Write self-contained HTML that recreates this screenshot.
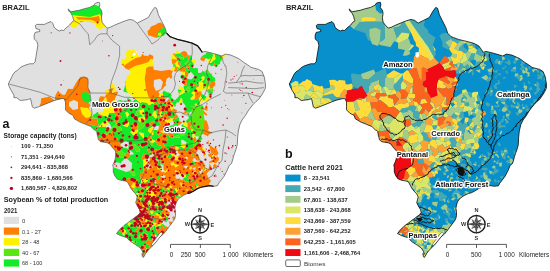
<!DOCTYPE html><html><head><meta charset="utf-8"><style>html,body{margin:0;padding:0;background:#fff;width:550px;height:271px;overflow:hidden}svg{display:block}text{font-family:"Liberation Sans",Arial,sans-serif}</style></head><body>
<svg width="550" height="271" viewBox="0 0 550 271">
<defs><clipPath id="br"><path d="M35.3,25.5 L36.6,24.4 L44.4,24.4 L46.6,23.3 L51.0,21.6 L52.7,23.3 L54.4,27.7 L57.1,29.9 L59.3,31.0 L62.1,29.9 L63.2,31.0 L65.9,28.1 L69.6,25.1 L71.8,22.2 L74.0,20.7 L73.3,19.2 L72.6,16.3 L71.1,13.3 L68.9,11.1 L68.1,8.9 L71.1,11.8 L74.8,11.1 L79.2,10.3 L83.6,8.9 L89.6,7.4 L94.0,5.2 L95.5,3.0 L99.2,2.2 L99.9,4.4 L99.2,7.4 L101.4,10.3 L102.1,13.3 L101.4,17.7 L102.1,22.2 L104.3,25.1 L107.3,28.1 L110.2,27.3 L114.7,25.1 L120.0,22.9 L124.3,21.2 L129.8,19.4 L133.5,20.3 L137.2,23.1 L142.7,20.3 L148.3,17.5 L152.0,11.1 L154.7,7.4 L156.6,8.3 L158.4,14.8 L161.2,20.3 L164.9,27.7 L166.7,33.2 L170.0,36.6 L172.3,37.5 L177.4,39.4 L184.8,41.2 L192.1,43.1 L197.7,45.8 L200.4,49.5 L202.3,52.3 L205.0,51.4 L212.4,53.2 L218.9,55.1 L221.7,56.0 L225.4,54.1 L230.9,55.1 L238.5,58.5 L243.8,62.4 L249.3,66.0 L251.0,67.4 L258.7,69.4 L262.1,71.6 L264.3,77.1 L265.4,83.8 L265.4,88.2 L263.2,92.6 L261.0,96.0 L258.7,99.3 L256.0,101.5 L253.2,104.4 L248.7,110.0 L245.4,115.5 L242.1,120.0 L239.9,124.4 L238.3,131.0 L237.6,137.7 L237.3,144.7 L236.0,149.5 L234.5,153.5 L233.5,156.5 L232.6,160.0 L231.5,163.5 L229.1,165.5 L227.8,168.9 L225.9,172.8 L223.9,176.6 L221.3,179.9 L218.8,183.1 L217.5,185.7 L213.6,186.3 L209.7,185.7 L205.8,186.3 L202.0,187.0 L198.1,188.3 L194.2,190.8 L190.3,192.8 L187.4,193.5 L183.2,195.5 L179.1,198.3 L176.6,201.6 L175.5,205.0 L174.9,208.3 L175.5,211.6 L175.5,215.5 L174.9,218.3 L173.8,220.5 L172.2,222.7 L170.5,224.9 L168.8,227.1 L167.2,229.4 L165.5,231.6 L163.5,234.0 L160.2,236.7 L157.3,240.4 L154.3,244.1 L150.6,247.8 L147.7,250.8 L145.5,253.7 L144.0,256.7 L143.0,257.4 L142.5,256.7 L141.8,253.7 L143.4,254.2 L142.3,251.1 L140.3,248.0 L136.1,245.0 L131.0,241.8 L126.8,237.7 L120.6,235.6 L116.5,233.6 L119.6,229.5 L124.6,225.0 L126.9,223.4 L129.8,221.2 L132.8,219.0 L135.7,216.8 L138.7,214.6 L140.2,212.3 L139.4,209.4 L137.2,205.7 L135.7,202.7 L136.5,199.8 L137.2,196.8 L135.7,193.9 L132.8,190.9 L130.6,188.0 L129.1,185.0 L127.3,181.7 L125.1,181.0 L120.7,180.3 L117.0,178.8 L114.8,175.8 L113.3,172.1 L113.3,167.7 L112.8,165.0 L114.0,162.5 L115.0,160.0 L115.5,157.0 L115.8,154.0 L115.5,151.0 L113.5,148.8 L111.5,146.5 L109.7,143.9 L107.3,142.8 L103.8,142.2 L100.3,141.6 L98.5,139.8 L97.9,137.4 L97.3,135.1 L96.7,131.5 L96.0,130.5 L94.3,129.9 L90.9,126.5 L85.4,124.3 L79.9,122.1 L74.3,118.8 L73.2,115.5 L68.8,113.2 L65.5,109.9 L65.5,106.6 L65.5,102.2 L64.3,98.8 L62.0,98.6 L57.0,99.7 L53.0,101.0 L48.0,103.0 L43.0,105.0 L38.8,106.7 L34.3,108.2 L32.3,106.9 L31.4,102.3 L30.5,98.6 L27.7,99.6 L20.3,100.5 L16.6,97.7 L13.9,97.7 L13.9,94.9 L11.1,90.3 L9.2,86.6 L8.3,83.9 L10.2,80.2 L12.9,74.6 L14.8,72.0 L17.5,70.3 L20.3,67.5 L24.0,65.6 L29.6,63.8 L33.2,63.8 L35.1,61.9 L36.0,56.4 L36.9,50.9 L37.9,45.3 L36.9,41.6 L34.2,38.9 L34.2,35.2 L35.1,32.4 L39.7,31.5 L39.7,29.6 L36.0,28.7 Z"/></clipPath><clipPath id="br2"><path d="M316.3,25.5 L317.6,24.4 L325.4,24.4 L327.6,23.3 L332.0,21.6 L333.7,23.3 L335.4,27.7 L338.1,29.9 L340.3,31.0 L343.1,29.9 L344.2,31.0 L346.9,28.1 L350.6,25.1 L352.8,22.2 L355.0,20.7 L354.3,19.2 L353.6,16.3 L352.1,13.3 L349.9,11.1 L349.1,8.9 L352.1,11.8 L355.8,11.1 L360.2,10.3 L364.6,8.9 L370.6,7.4 L375.0,5.2 L376.5,3.0 L380.2,2.2 L380.9,4.4 L380.2,7.4 L382.4,10.3 L383.1,13.3 L382.4,17.7 L383.1,22.2 L385.3,25.1 L388.3,28.1 L391.2,27.3 L395.7,25.1 L401.0,22.9 L405.3,21.2 L410.8,19.4 L414.5,20.3 L418.2,23.1 L423.7,20.3 L429.3,17.5 L433.0,11.1 L435.7,7.4 L437.6,8.3 L439.4,14.8 L442.2,20.3 L445.9,27.7 L447.7,33.2 L451.0,36.6 L453.3,37.5 L458.4,39.4 L465.8,41.2 L473.1,43.1 L478.7,45.8 L481.4,49.5 L483.3,52.3 L486.0,51.4 L493.4,53.2 L499.9,55.1 L502.7,56.0 L506.4,54.1 L511.9,55.1 L519.5,58.5 L524.8,62.4 L530.3,66.0 L532.0,67.4 L539.7,69.4 L543.1,71.6 L545.3,77.1 L546.4,83.8 L546.4,88.2 L544.2,92.6 L542.0,96.0 L539.7,99.3 L537.0,101.5 L534.2,104.4 L529.7,110.0 L526.4,115.5 L523.1,120.0 L520.9,124.4 L519.3,131.0 L518.6,137.7 L518.3,144.7 L517.0,149.5 L515.5,153.5 L514.5,156.5 L513.6,160.0 L512.5,163.5 L510.1,165.5 L508.8,168.9 L506.9,172.8 L504.9,176.6 L502.3,179.9 L499.8,183.1 L498.5,185.7 L494.6,186.3 L490.7,185.7 L486.8,186.3 L483.0,187.0 L479.1,188.3 L475.2,190.8 L471.3,192.8 L468.4,193.5 L464.2,195.5 L460.1,198.3 L457.6,201.6 L456.5,205.0 L455.9,208.3 L456.5,211.6 L456.5,215.5 L455.9,218.3 L454.8,220.5 L453.2,222.7 L451.5,224.9 L449.8,227.1 L448.2,229.4 L446.5,231.6 L444.5,234.0 L441.2,236.7 L438.3,240.4 L435.3,244.1 L431.6,247.8 L428.7,250.8 L426.5,253.7 L425.0,256.7 L424.0,257.4 L423.5,256.7 L422.8,253.7 L424.4,254.2 L423.3,251.1 L421.3,248.0 L417.1,245.0 L412.0,241.8 L407.8,237.7 L401.6,235.6 L397.5,233.6 L400.6,229.5 L405.6,225.0 L407.9,223.4 L410.8,221.2 L413.8,219.0 L416.7,216.8 L419.7,214.6 L421.2,212.3 L420.4,209.4 L418.2,205.7 L416.7,202.7 L417.5,199.8 L418.2,196.8 L416.7,193.9 L413.8,190.9 L411.6,188.0 L410.1,185.0 L408.3,181.7 L406.1,181.0 L401.7,180.3 L398.0,178.8 L395.8,175.8 L394.3,172.1 L394.3,167.7 L393.8,165.0 L395.0,162.5 L396.0,160.0 L396.5,157.0 L396.8,154.0 L396.5,151.0 L394.5,148.8 L392.5,146.5 L390.7,143.9 L388.3,142.8 L384.8,142.2 L381.3,141.6 L379.5,139.8 L378.9,137.4 L378.3,135.1 L377.7,131.5 L377.0,130.5 L375.3,129.9 L371.9,126.5 L366.4,124.3 L360.9,122.1 L355.3,118.8 L354.2,115.5 L349.8,113.2 L346.5,109.9 L346.5,106.6 L346.5,102.2 L345.3,98.8 L343.0,98.6 L338.0,99.7 L334.0,101.0 L329.0,103.0 L324.0,105.0 L319.8,106.7 L315.3,108.2 L313.3,106.9 L312.4,102.3 L311.5,98.6 L308.7,99.6 L301.3,100.5 L297.6,97.7 L294.9,97.7 L294.9,94.9 L292.1,90.3 L290.2,86.6 L289.3,83.9 L291.2,80.2 L293.9,74.6 L295.8,72.0 L298.5,70.3 L301.3,67.5 L305.0,65.6 L310.6,63.8 L314.2,63.8 L316.1,61.9 L317.0,56.4 L317.9,50.9 L318.9,45.3 L317.9,41.6 L315.2,38.9 L315.2,35.2 L316.1,32.4 L320.7,31.5 L320.7,29.6 L317.0,28.7 Z"/></clipPath></defs>
<g clip-path="url(#br)">
<path d="M35.3,25.5 L36.6,24.4 L44.4,24.4 L46.6,23.3 L51.0,21.6 L52.7,23.3 L54.4,27.7 L57.1,29.9 L59.3,31.0 L62.1,29.9 L63.2,31.0 L65.9,28.1 L69.6,25.1 L71.8,22.2 L74.0,20.7 L73.3,19.2 L72.6,16.3 L71.1,13.3 L68.9,11.1 L68.1,8.9 L71.1,11.8 L74.8,11.1 L79.2,10.3 L83.6,8.9 L89.6,7.4 L94.0,5.2 L95.5,3.0 L99.2,2.2 L99.9,4.4 L99.2,7.4 L101.4,10.3 L102.1,13.3 L101.4,17.7 L102.1,22.2 L104.3,25.1 L107.3,28.1 L110.2,27.3 L114.7,25.1 L120.0,22.9 L124.3,21.2 L129.8,19.4 L133.5,20.3 L137.2,23.1 L142.7,20.3 L148.3,17.5 L152.0,11.1 L154.7,7.4 L156.6,8.3 L158.4,14.8 L161.2,20.3 L164.9,27.7 L166.7,33.2 L170.0,36.6 L172.3,37.5 L177.4,39.4 L184.8,41.2 L192.1,43.1 L197.7,45.8 L200.4,49.5 L202.3,52.3 L205.0,51.4 L212.4,53.2 L218.9,55.1 L221.7,56.0 L225.4,54.1 L230.9,55.1 L238.5,58.5 L243.8,62.4 L249.3,66.0 L251.0,67.4 L258.7,69.4 L262.1,71.6 L264.3,77.1 L265.4,83.8 L265.4,88.2 L263.2,92.6 L261.0,96.0 L258.7,99.3 L256.0,101.5 L253.2,104.4 L248.7,110.0 L245.4,115.5 L242.1,120.0 L239.9,124.4 L238.3,131.0 L237.6,137.7 L237.3,144.7 L236.0,149.5 L234.5,153.5 L233.5,156.5 L232.6,160.0 L231.5,163.5 L229.1,165.5 L227.8,168.9 L225.9,172.8 L223.9,176.6 L221.3,179.9 L218.8,183.1 L217.5,185.7 L213.6,186.3 L209.7,185.7 L205.8,186.3 L202.0,187.0 L198.1,188.3 L194.2,190.8 L190.3,192.8 L187.4,193.5 L183.2,195.5 L179.1,198.3 L176.6,201.6 L175.5,205.0 L174.9,208.3 L175.5,211.6 L175.5,215.5 L174.9,218.3 L173.8,220.5 L172.2,222.7 L170.5,224.9 L168.8,227.1 L167.2,229.4 L165.5,231.6 L163.5,234.0 L160.2,236.7 L157.3,240.4 L154.3,244.1 L150.6,247.8 L147.7,250.8 L145.5,253.7 L144.0,256.7 L143.0,257.4 L142.5,256.7 L141.8,253.7 L143.4,254.2 L142.3,251.1 L140.3,248.0 L136.1,245.0 L131.0,241.8 L126.8,237.7 L120.6,235.6 L116.5,233.6 L119.6,229.5 L124.6,225.0 L126.9,223.4 L129.8,221.2 L132.8,219.0 L135.7,216.8 L138.7,214.6 L140.2,212.3 L139.4,209.4 L137.2,205.7 L135.7,202.7 L136.5,199.8 L137.2,196.8 L135.7,193.9 L132.8,190.9 L130.6,188.0 L129.1,185.0 L127.3,181.7 L125.1,181.0 L120.7,180.3 L117.0,178.8 L114.8,175.8 L113.3,172.1 L113.3,167.7 L112.8,165.0 L114.0,162.5 L115.0,160.0 L115.5,157.0 L115.8,154.0 L115.5,151.0 L113.5,148.8 L111.5,146.5 L109.7,143.9 L107.3,142.8 L103.8,142.2 L100.3,141.6 L98.5,139.8 L97.9,137.4 L97.3,135.1 L96.7,131.5 L96.0,130.5 L94.3,129.9 L90.9,126.5 L85.4,124.3 L79.9,122.1 L74.3,118.8 L73.2,115.5 L68.8,113.2 L65.5,109.9 L65.5,106.6 L65.5,102.2 L64.3,98.8 L62.0,98.6 L57.0,99.7 L53.0,101.0 L48.0,103.0 L43.0,105.0 L38.8,106.7 L34.3,108.2 L32.3,106.9 L31.4,102.3 L30.5,98.6 L27.7,99.6 L20.3,100.5 L16.6,97.7 L13.9,97.7 L13.9,94.9 L11.1,90.3 L9.2,86.6 L8.3,83.9 L10.2,80.2 L12.9,74.6 L14.8,72.0 L17.5,70.3 L20.3,67.5 L24.0,65.6 L29.6,63.8 L33.2,63.8 L35.1,61.9 L36.0,56.4 L36.9,50.9 L37.9,45.3 L36.9,41.6 L34.2,38.9 L34.2,35.2 L35.1,32.4 L39.7,31.5 L39.7,29.6 L36.0,28.7 Z" fill="#e0e0e0"/>
<path fill-rule="evenodd" d="M36.3,23.4L34.3,25.3L35.0,29.0L35.6,29.6L38.7,30.7L34.5,31.6L33.2,35.1L33.3,39.3L36.0,42.1L36.9,45.3L34.2,61.4L32.8,62.8L29.4,62.8L23.5,64.7L19.8,66.7L16.9,69.5L14.2,71.2L12.0,74.1L7.3,83.9L8.3,87.1L12.9,95.2L13.2,98.4L16.3,98.7L20.2,101.5L27.8,100.6L29.8,99.9L31.4,107.3L34.0,109.2L40.7,107.0L40.4,106.7L41.1,98.2L48.1,96.9L48.7,96.3L55.0,100.5L55.2,96.0L57.6,91.2L58.7,91.1L59.5,92.5L63.7,95.6L64.6,95.7L68.0,88.7L72.6,89.1L77.3,80.7L79.9,78.8L84.1,80.9L84.5,82.4L90.5,91.5L89.2,94.6L89.3,95.5L87.0,99.1L86.8,100.9L90.4,105.3L88.5,108.7L89.9,111.9L88.3,115.4L89.8,117.3L92.3,115.9L94.1,114.1L94.9,114.2L97.1,111.9L98.5,112.5L102.1,112.4L104.1,108.2L102.5,106.8L101.5,102.8L99.3,101.8L98.8,99.4L100.3,96.2L104.9,96.8L105.5,95.3L104.9,89.8L108.5,90.0L109.2,88.9L108.8,87.1L111.6,83.6L114.9,84.8L114.4,87.8L117.1,91.6L118.2,92.4L115.2,97.9L114.8,100.0L116.8,101.6L120.0,100.0L123.8,101.3L124.5,100.6L127.1,100.8L127.5,97.7L130.5,99.6L132.2,102.1L135.7,98.4L135.1,93.3L126.4,92.6L123.4,91.4L125.7,83.3L125.1,82.4L125.3,81.8L128.0,78.8L126.4,75.8L130.9,74.3L132.3,73.2L132.8,71.9L131.0,70.2L127.8,69.7L126.7,68.6L125.2,68.3L124.7,66.9L121.0,64.2L121.1,59.5L125.0,58.5L128.2,58.8L129.7,58.1L126.9,50.4L133.6,49.5L136.7,51.8L137.0,53.0L135.7,56.4L139.3,58.1L140.8,57.2L142.1,54.3L142.9,53.9L145.5,57.7L147.6,56.8L149.3,54.3L152.6,55.4L153.5,57.1L152.3,60.2L154.1,65.5L153.3,66.4L153.9,70.7L154.4,71.4L159.3,72.7L161.1,71.6L164.7,72.9L170.3,70.6L171.4,72.4L172.3,77.3L171.2,78.7L170.4,78.4L168.2,75.9L165.5,75.9L163.9,79.4L161.0,78.8L158.0,79.5L156.9,78.9L153.7,78.7L151.3,80.3L153.9,85.8L155.9,86.7L155.4,92.2L158.2,92.3L159.6,93.9L162.3,93.5L163.2,91.1L164.3,90.7L167.4,92.6L168.2,92.2L170.9,94.0L171.7,95.2L170.9,97.1L174.8,100.5L178.8,96.4L178.8,94.2L177.8,90.2L178.6,89.3L178.9,86.5L179.3,86.0L182.3,87.1L183.4,86.8L184.5,85.8L182.3,81.2L183.0,80.3L180.1,77.0L181.1,75.1L182.4,74.6L182.1,71.5L180.7,71.8L179.3,70.4L177.1,71.2L176.8,71.8L170.9,70.2L173.3,66.9L172.8,63.9L172.0,63.5L171.8,59.0L170.6,58.2L172.7,53.6L175.4,53.7L176.6,50.2L180.4,53.0L182.0,51.7L184.1,51.0L186.4,51.7L188.1,55.3L191.1,55.4L192.2,59.6L194.7,59.6L195.9,60.8L196.1,63.6L194.1,64.2L193.1,65.1L193.1,68.1L197.9,68.3L198.0,72.7L200.2,73.1L203.7,71.3L204.7,71.6L207.2,69.4L207.7,69.5L210.3,73.5L211.4,73.5L212.5,76.2L215.0,77.9L215.2,80.5L214.4,81.5L215.4,83.1L214.7,86.2L213.3,86.8L213.0,88.3L213.6,91.4L210.8,97.7L208.2,101.3L204.1,100.8L200.0,102.9L199.8,104.6L200.4,105.2L202.7,105.5L204.4,108.9L206.1,104.9L207.0,105.4L207.7,107.4L207.3,110.9L204.0,109.6L203.1,110.3L207.4,114.4L206.6,115.5L205.4,115.3L202.0,112.1L200.9,113.6L202.5,116.3L202.0,117.9L204.1,120.3L206.2,120.5L206.8,121.1L208.8,127.3L207.9,129.8L208.0,130.3L211.3,132.5L207.3,136.5L206.8,135.7L201.6,133.3L200.6,135.2L202.4,139.1L200.2,141.1L200.0,142.1L201.0,145.4L201.9,145.6L202.8,147.8L203.9,147.7L205.6,151.1L204.3,152.6L206.2,154.5L203.8,155.9L205.5,156.9L206.2,159.0L203.2,156.2L203.9,152.7L200.9,151.5L200.5,150.0L198.3,149.0L196.8,152.2L195.5,153.0L195.7,154.5L198.8,155.7L199.5,160.8L201.1,161.8L202.7,162.0L204.5,163.3L204.2,165.5L206.2,166.9L207.9,169.5L208.5,169.7L209.5,163.3L212.3,168.8L211.5,169.6L209.7,170.3L206.3,174.0L207.5,175.5L207.9,177.4L211.2,181.1L208.8,183.8L210.3,186.8L213.7,187.3L218.2,186.4L219.6,183.6L224.8,177.1L229.9,166.1L232.5,163.8L238.3,145.0L239.3,131.2L240.8,124.7L243.0,120.5L249.5,110.6L254.0,105.1L259.5,99.9L264.0,93.1L266.3,88.6L266.4,83.7L265.3,76.9L262.8,70.9L259.1,68.5L251.5,66.5L238.9,57.6L231.2,54.1L225.5,53.1L224.3,53.5L224.8,54.0L225.1,56.3L223.4,58.1L222.1,58.7L221.8,60.3L220.4,61.1L220.0,63.9L217.5,65.1L217.7,66.4L216.3,67.3L215.6,67.3L214.9,66.0L212.9,65.8L211.3,66.3L209.1,64.2L208.9,62.9L207.6,61.6L208.6,59.0L205.3,58.1L204.3,61.3L203.0,61.3L200.4,59.8L200.3,58.9L201.5,56.6L204.2,54.6L205.5,54.7L206.0,52.7L209.8,51.5L205.1,50.4L202.7,51.1L198.1,44.9L192.4,42.2L177.7,38.4L170.6,35.7L167.5,32.5L165.9,33.0L163.5,36.0L162.0,36.0L156.8,38.0L148.2,35.2L147.4,31.2L149.8,29.1L150.3,27.5L151.2,26.5L156.7,24.2L157.0,23.6L160.6,22.4L163.7,25.0L164.6,24.8L159.3,14.4L157.5,7.9L154.9,6.4L154.0,6.7L151.2,10.5L147.6,16.7L137.3,21.9L133.9,19.4L129.6,18.4L119.6,22.0L109.8,26.4L107.6,27.0L107.0,26.4L99.9,29.3L96.1,27.0L95.5,23.1L90.7,22.1L90.2,21.6L84.6,21.1L80.6,22.3L75.2,27.9L72.2,27.3L71.2,25.7L69.1,24.1L63.2,29.6L62.0,28.9L59.3,29.9L55.2,27.1L53.5,22.8L51.3,20.6L44.2,23.4ZM162.0,85.2L164.5,83.0L166.6,85.0L163.6,86.7L162.4,86.3ZM217.2,162.4L214.6,163.2L213.3,161.8L212.8,162.4L209.4,163.1L208.8,162.0L212.9,159.4L211.8,157.5L209.0,156.6L208.1,155.0L208.2,154.5L211.0,152.7L209.4,146.1L209.7,145.0L214.0,147.9L216.4,147.8L216.6,149.4L218.7,153.4L217.9,153.9L216.9,155.8L219.1,158.5L218.7,160.3L217.1,162.0ZM208.7,144.0L206.7,143.8L208.2,140.0L208.6,140.6ZM212.9,168.4L213.5,164.5L214.5,164.1L216.8,164.9L216.8,165.8L216.0,167.1ZM76.9,108.3L77.1,104.6L74.2,99.3L67.9,101.6L67.7,102.1L70.0,104.4L72.7,110.8L75.3,110.7ZM68.0,112.5L64.8,110.6L67.5,113.3ZM79.2,122.9L79.2,121.1L77.0,121.5ZM100.0,1.6L99.1,1.2L95.1,2.1L93.5,4.2L98.8,6.3L100.9,4.3ZM111.7,128.3L110.1,123.9L108.7,123.0L105.7,126.7L107.6,129.4ZM114.2,167.5L126.2,172.1L129.4,170.9L131.7,168.9L132.1,163.3L125.5,157.7L120.9,163.1L120.1,163.4L119.1,162.6L112.8,162.6ZM141.1,76.7L148.2,77.6L148.1,73.8L145.9,71.2L140.8,74.6ZM146.0,99.4L146.5,100.5L151.7,101.6L152.5,99.8ZM159.3,125.9L153.7,125.6L152.3,126.2L153.2,130.0L158.1,130.0ZM130.5,143.5L125.6,140.4L120.4,144.5L121.1,147.3L126.1,148.0L128.5,149.2L128.4,145.0ZM130.3,155.1L134.0,154.2L134.1,153.8L129.8,149.9L128.4,151.7ZM153.6,156.5L153.8,154.6L152.1,153.3L149.0,156.5L149.4,157.3ZM149.4,157.8L144.1,159.6L143.9,159.8L148.3,161.2L149.5,160.7L149.9,159.7ZM158.3,160.9L158.6,160.2L158.2,159.7L156.3,159.2L156.4,160.4ZM148.4,167.2L148.5,169.1L153.5,167.1L150.0,166.0L150.3,163.9L146.8,164.1L145.9,164.9ZM163.7,167.8L163.2,167.6L163.3,165.0L159.9,163.7L162.2,167.6L160.6,168.5L160.2,169.6L161.2,171.8L162.6,172.0L163.7,169.7ZM160.8,176.3L162.1,178.1L163.1,178.4L165.4,177.0L165.5,175.5L162.8,175.1ZM155.8,180.3L154.4,179.3L154.5,177.9L152.9,177.8L153.0,179.9L152.2,181.6L153.5,181.9L155.6,183.7L156.7,183.0L155.3,181.2ZM142.7,184.3L141.3,182.8L138.7,184.3L140.9,187.6ZM165.8,226.3L168.2,227.2L167.1,229.8L167.8,230.3L170.0,227.2L169.6,227.0L170.2,225.7L169.0,222.4L169.3,221.3L173.7,222.4L174.2,221.6L172.1,217.3L173.1,216.4L176.2,217.0L176.5,215.6L176.5,211.5L175.9,208.3L176.9,203.9L174.2,203.3L173.5,202.2L173.5,201.4L169.8,199.6L170.5,202.4L167.3,201.7L168.1,203.0L167.7,205.4L169.3,205.3L170.3,204.0L172.1,205.8L171.0,206.4L169.3,205.4L169.5,207.6L168.1,207.8L167.3,208.7L167.9,211.2L169.9,212.5L167.3,216.3L168.4,218.4L168.4,220.2L167.4,220.8L165.1,220.7L164.7,219.2L164.1,218.9L163.3,220.0L161.6,220.7L161.7,224.0L162.7,223.9ZM172.2,209.2L170.0,207.8L170.9,206.4ZM163.7,235.1L165.5,233.1L165.3,232.9L163.4,234.1ZM155.6,237.8L156.4,237.8L157.0,235.9L155.5,234.5L154.9,236.2L151.4,236.2L152.2,239.6L154.5,238.8ZM162.6,236.0L161.5,235.9L161.2,237.2ZM167.1,96.7L164.6,97.8L165.7,102.0L166.2,102.0L168.9,98.4L169.0,98.1ZM176.8,114.5L179.1,118.6L179.1,120.9L182.5,122.2L178.1,125.9L179.1,127.5L179.1,129.5L182.2,130.6L179.5,127.7L182.0,128.0L181.8,126.6L181.3,126.0L182.9,123.9L182.7,122.2L183.8,121.8L185.7,122.0L186.1,119.4L188.0,118.2L187.9,115.7L186.6,114.7L185.6,115.1L182.9,114.4L181.4,112.6L182.2,109.7L183.2,108.0L183.0,106.9L183.8,104.0L182.4,102.3L180.1,103.7L178.9,102.5L176.6,102.2L176.1,106.1L174.3,106.7L173.1,108.8L177.7,109.7L175.6,114.2ZM167.3,123.9L167.0,125.0L168.9,125.7L173.1,125.3L173.8,123.6L173.8,122.2L172.8,120.6ZM175.5,153.2L174.8,153.6L174.4,155.5L174.9,157.6L177.3,155.6L178.1,156.2L180.3,155.0L177.9,152.5L177.8,150.9L175.3,149.7L174.8,150.6ZM175.4,177.6L176.0,178.4L178.5,178.9L179.3,178.3L181.9,180.3L183.8,177.8L179.8,174.8L179.1,173.7L176.2,174.3ZM177.4,198.8L178.5,200.8L179.8,199.0L181.9,197.6L180.2,197.4ZM186.9,78.4L190.5,79.4L191.9,79.0L194.6,76.3L190.9,71.8L188.6,73.8ZM203.4,89.3L202.7,89.5L201.4,91.6L201.6,93.7L206.7,96.7L208.8,96.5L208.6,92.9L205.9,90.4ZM192.4,115.9L192.2,112.7L191.7,111.4L191.0,111.5L190.1,112.0L188.6,115.6ZM195.1,136.6L196.8,140.3L198.2,139.8L198.7,136.5L195.3,136.0ZM181.5,143.7L185.8,143.8L186.9,142.4L182.7,139.7L181.3,139.8L180.8,141.5ZM188.0,159.6L187.3,156.4L184.6,156.9L184.8,157.9ZM195.5,158.5L194.0,157.9L192.6,159.2L192.7,161.0L194.7,162.0L198.8,161.7L199.4,160.8L195.9,160.3ZM188.0,165.7L183.8,166.1L183.9,166.7L185.9,168.7L187.4,167.6ZM193.3,169.4L195.1,169.8L195.9,167.2L192.3,167.9ZM201.4,174.0L204.6,170.9L203.2,169.6L201.6,171.3L199.6,170.0L199.5,172.5L200.4,173.7ZM195.6,178.1L197.1,176.7L196.5,175.2L192.7,174.7L192.4,175.3L193.2,179.2ZM206.0,187.3L207.4,187.1L206.9,186.8ZM204.3,187.6L205.0,187.5L204.5,187.4ZM185.1,195.7L185.4,195.6L185.2,195.4ZM182.9,196.9L182.4,197.0L182.2,197.4ZM214.9,156.8L214.8,159.2L216.1,158.6L216.5,156.5Z" fill="#e0e0e0"/>
<path fill-rule="evenodd" d="M89.3,6.5L71.4,10.7L68.6,8.0L67.7,8.0L67.1,8.8L68.1,11.6L70.3,13.9L71.3,15.9L71.9,13.3L76.4,15.3L79.0,18.4L80.7,16.4L87.6,10.5L88.2,12.2L91.1,16.3L97.3,18.7L97.6,19.4L102.6,19.2L102.4,17.7L103.1,13.2L102.3,9.9L100.3,7.2L100.9,4.3L98.8,6.3L93.5,4.2ZM80.3,92.5L77.2,93.9L77.0,96.5L78.8,98.0L87.0,99.1L89.3,95.5L89.2,94.6ZM121.7,116.9L121.8,117.5L118.7,119.1L118.1,123.0L117.4,123.7L118.0,125.9L121.5,127.9L121.8,129.8L120.4,132.3L114.2,131.7L113.9,136.9L116.5,137.4L120.2,144.4L125.6,140.4L130.4,143.4L128.4,145.0L128.5,149.2L126.1,148.0L121.1,147.3L120.5,149.9L125.3,153.7L128.4,151.7L129.8,149.9L134.1,153.8L134.0,154.2L130.3,155.1L127.6,159.3L132.1,163.3L131.7,168.9L133.4,169.9L135.5,174.9L133.0,176.0L129.4,170.9L126.2,172.1L114.2,167.5L112.3,171.0L112.3,172.4L113.9,176.3L116.6,179.7L117.1,179.9L117.5,179.5L120.4,181.3L124.8,182.0L124.8,180.5L127.9,178.2L131.0,179.0L132.6,181.5L133.6,182.1L136.1,179.1L138.1,179.6L138.0,181.8L135.6,183.1L138.7,184.3L141.3,182.8L140.7,181.3L141.3,179.5L140.6,178.8L139.9,173.4L140.5,172.8L143.6,172.6L142.9,160.1L141.6,159.1L143.4,153.4L147.1,155.1L144.1,159.6L149.4,157.8L149.0,156.5L152.1,153.3L151.8,152.5L153.4,149.1L158.2,150.0L160.6,148.9L162.3,146.1L157.9,145.0L155.7,141.0L153.0,143.0L152.9,146.3L146.7,141.6L145.4,139.2L147.4,136.3L151.6,136.4L152.1,139.6L155.7,140.9L157.2,138.9L158.0,138.7L159.1,136.7L162.7,134.7L159.6,133.0L159.0,135.9L156.3,133.5L158.0,130.1L153.2,130.0L153.3,135.1L152.9,135.2L148.6,131.6L147.9,131.5L147.9,130.9L148.2,129.1L152.3,127.1L152.3,126.2L149.1,123.4L151.5,121.8L154.4,121.6L153.7,125.6L159.3,125.9L160.5,125.1L160.3,123.2L157.7,119.9L161.1,116.9L158.9,114.0L157.9,114.1L156.8,110.6L159.3,110.0L158.7,107.0L160.8,106.6L162.0,108.4L164.1,106.5L164.7,106.8L166.6,104.4L166.1,102.0L162.7,103.7L161.6,103.0L158.5,103.5L157.4,98.0L154.5,97.8L155.0,101.2L157.3,104.4L156.9,105.4L153.6,103.5L151.3,103.8L149.4,105.2L148.0,104.6L146.0,99.4L145.0,98.3L140.7,103.1L135.5,99.1L132.2,102.1L130.5,99.6L127.5,97.7L127.1,100.8L124.5,100.6L123.8,101.3L120.0,100.0L116.8,101.6L117.4,103.4L113.3,107.1L113.4,108.2L114.9,109.4L118.7,105.4L122.6,108.6L122.3,111.1L118.8,111.3L118.3,114.6ZM154.1,116.4L152.4,115.8L153.0,112.2L152.9,109.3L156.1,111.1L156.4,115.1L158.5,116.4L160.3,116.9L158.1,117.2L155.5,118.6ZM134.6,147.9L130.8,148.9L130.6,143.6L135.5,144.3L135.7,145.8L139.0,147.8L139.7,150.0L139.2,151.9L136.4,151.8ZM144.1,133.2L143.7,138.5L139.3,133.8L138.8,132.3ZM130.2,132.0L134.2,129.9L131.1,128.6L131.3,127.0L134.2,126.9L131.9,123.9L134.0,123.6L137.6,126.2L138.7,122.7L139.3,122.1L138.0,119.0L139.2,117.3L143.8,116.6L140.4,113.9L137.2,115.7L135.6,115.8L135.3,115.1L137.1,110.0L139.2,110.6L141.4,104.3L144.0,106.8L144.2,116.8L145.2,117.8L144.9,120.4L146.4,123.0L146.2,123.7L143.4,127.3L141.7,128.7L138.2,129.9L138.3,131.7L133.6,135.6ZM128.6,122.1L129.0,122.7L128.9,124.6L127.6,127.1L122.8,125.8L123.1,124.1ZM129.1,114.1L127.2,117.8L125.3,112.7L127.3,112.0ZM150.9,152.3L148.4,152.5L147.2,149.6L149.0,149.1ZM140.4,144.6L141.2,143.7L144.0,145.3L142.9,147.5L140.6,146.3ZM95.7,118.6L97.1,118.6L98.9,126.8L90.1,124.4L89.0,126.8L90.3,127.4L93.7,130.7L95.8,131.9L97.3,138.9L99.5,137.0L101.7,136.8L107.6,129.4L105.7,126.7L98.9,126.9L102.7,122.3L107.0,120.4L108.7,123.0L110.1,123.9L111.6,127.7L116.6,123.5L114.6,122.1L114.9,118.7L115.8,118.2L115.9,115.0L114.3,112.9L109.1,112.7L107.6,117.0L103.3,115.6L101.7,116.7L98.1,117.2L98.8,114.1L98.5,112.5L97.1,111.9L94.9,114.2L94.1,114.1L92.3,115.9ZM119.1,162.6L120.1,163.4L120.9,163.1L125.4,157.7L120.7,157.7L118.2,154.9L117.8,152.6L114.6,152.2L114.8,154.0L114.0,159.7L112.9,162.5ZM123.2,227.3L121.0,228.2L121.7,230.8L123.1,230.6L123.9,229.3L125.6,229.9L126.0,232.3L127.7,230.8L127.5,229.0L130.9,230.1L128.8,231.0L127.8,233.1L126.6,232.7L125.6,238.4L130.4,242.6L131.5,240.9L133.4,241.2L134.0,240.4L136.8,241.7L135.2,245.6L137.7,247.4L137.4,246.6L139.7,246.1L142.0,248.3L144.1,245.0L146.3,248.5L149.2,248.5L150.1,245.4L145.5,243.4L145.7,242.6L148.1,240.1L151.4,240.7L152.1,240.0L151.1,235.7L152.0,233.2L155.4,233.5L155.5,234.5L156.7,235.4L158.9,234.8L159.0,233.3L156.7,232.3L156.6,229.6L154.8,225.6L153.9,225.3L153.3,225.9L154.0,229.8L151.0,230.6L150.0,228.6L150.4,227.9L149.8,223.4L147.5,228.1L147.1,231.9L144.6,229.3L146.2,227.6L145.2,225.2L143.1,225.3L139.3,227.6L139.4,228.9L136.4,232.9L135.2,232.6L134.7,231.6L135.5,230.1L137.9,228.0L135.4,225.3L134.9,225.4L134.4,224.1L132.2,223.5L131.4,223.8L131.3,226.0L128.7,225.5L127.5,224.0L127.7,222.1L129.0,222.0L131.2,220.4L130.5,219.4L123.5,224.6L124.3,226.3ZM144.4,237.3L144.6,235.7L142.6,233.0L143.3,231.7L144.4,232.1L146.4,234.0L147.8,233.8L147.5,236.3L148.2,237.0L148.1,239.9ZM139.4,236.2L139.2,234.7L141.2,233.8L143.5,237.3L140.0,237.5L139.9,238.1L138.2,239.0L137.0,238.9L136.6,237.5ZM129.0,234.5L129.7,233.3L134.1,234.1L132.7,235.5ZM115.5,233.3L116.0,234.5L118.3,235.2L120.3,236.5L123.7,237.7L125.5,237.1L124.2,235.6L122.9,235.2L122.4,233.2L121.1,232.7L120.5,231.9L119.1,231.8L118.0,230.7ZM125.7,83.3L123.4,91.4L126.4,92.6L135.1,93.3L136.6,91.7L136.1,88.0L134.5,87.1L134.1,80.9L132.1,81.1L131.4,80.6L129.8,76.9L125.3,81.8L125.1,82.4ZM133.5,190.0L132.9,190.4L133.1,192.5L135.2,192.5L136.0,193.8L137.1,193.0L139.0,193.0L139.5,191.9L139.0,190.4L141.2,188.4L140.9,187.6L135.4,186.8L135.0,187.6L137.0,190.2L135.1,191.8ZM135.8,198.2L135.5,199.6L135.1,201.1L136.2,201.0L137.9,199.0ZM136.3,215.1L134.1,216.8L135.7,218.9L135.6,219.9L136.3,220.3L138.2,219.9L140.3,218.4L141.9,218.6L144.9,214.7L145.7,214.7L147.3,216.0L148.3,218.4L150.3,218.4L153.2,215.7L152.3,214.1L151.4,214.2L150.7,212.5L149.7,212.1L151.4,210.9L148.7,209.0L150.0,207.6L152.8,210.9L153.6,207.8L150.1,207.0L148.3,205.4L148.9,202.8L147.7,200.9L146.0,201.7L145.2,201.0L144.5,200.1L144.3,197.5L147.1,192.2L146.4,188.3L149.8,187.0L149.7,184.2L149.0,181.9L152.2,181.6L153.0,179.9L152.9,177.8L152.0,176.9L147.6,180.3L148.6,181.6L146.4,188.3L141.6,188.6L143.5,193.6L142.3,195.1L142.0,198.2L141.6,198.1L140.4,199.9L140.2,201.0L142.6,203.9L145.9,201.8L146.5,205.2L145.8,206.0L147.7,209.0L146.2,209.7L144.4,208.5L143.9,206.7L143.0,206.3L142.2,209.7L143.9,211.4L144.0,213.9L140.1,213.7L138.4,217.0L136.5,217.9ZM146.2,212.6L147.6,211.9L148.8,209.3L149.2,212.5L145.8,214.4ZM148.3,214.5L149.9,213.7L150.4,214.2L147.6,215.6ZM132.2,218.2L132.1,218.3L132.2,218.3ZM137.0,195.5L138.7,195.3L139.8,196.2L140.1,194.3L139.1,194.6L138.7,194.0ZM140.0,196.5L139.8,197.2L141.3,197.8L142.1,195.3ZM137.7,224.2L139.0,225.2L141.1,223.4L141.0,222.0L137.1,221.4ZM141.7,252.7L140.8,253.5L141.2,255.3L141.5,255.4L142.1,254.0L144.2,253.4L142.3,251.8L143.7,250.0L142.0,248.5L140.8,249.2L139.8,249.1ZM142.6,257.8L142.0,257.7L143.2,258.4L144.7,257.4L146.7,253.8L145.4,252.2L144.3,253.4L144.9,256.4ZM157.0,157.3L155.6,158.2L156.3,159.2L158.2,159.7L157.9,157.4ZM153.9,185.5L154.5,186.3L154.9,186.0L155.6,183.7L153.5,181.9L153.0,181.9ZM151.8,201.5L156.9,199.5L157.4,200.1L161.4,199.7L162.0,198.0L159.9,195.2L162.1,193.2L164.0,192.3L165.2,192.9L167.0,192.0L169.2,192.4L169.1,190.0L167.0,189.1L166.2,191.2L164.9,190.8L164.2,189.4L161.5,190.1L159.6,189.1L156.7,189.4L157.7,191.4L161.4,191.9L161.9,192.9L158.5,193.1L159.0,195.3L156.2,197.7L152.7,196.6L148.6,198.5L148.2,200.3ZM154.6,212.1L155.8,212.9L157.4,213.0L159.4,214.6L160.4,213.7L161.2,211.7L163.1,211.3L162.6,206.1L160.4,205.1L159.1,210.1L157.3,210.4L156.4,209.5L157.8,207.5L157.0,205.7L155.4,206.5L155.0,206.9L155.7,209.4ZM153.5,218.3L151.9,219.1L153.5,222.4L155.1,220.7L154.8,218.6ZM157.8,220.5L156.7,220.7L157.0,223.1L158.8,222.2ZM148.2,251.8L148.0,252.0L148.0,252.0ZM157.0,31.4L157.1,37.6L162.0,36.0L163.5,36.0L165.9,33.0L167.5,32.5L164.6,24.8L163.7,25.0L162.3,28.5ZM174.3,106.7L176.1,106.1L176.6,102.2L178.9,102.5L180.8,98.2L182.1,98.6L182.4,102.3L183.8,104.0L183.0,106.9L183.2,108.0L182.5,109.5L185.9,111.1L186.9,112.8L191.7,111.4L192.1,110.7L191.2,107.4L192.0,106.1L195.9,107.1L196.2,106.5L194.6,103.9L196.1,103.5L198.0,105.4L199.8,104.6L200.0,102.9L199.1,98.1L195.9,100.3L194.0,99.2L191.2,100.0L190.4,98.6L193.8,94.9L191.6,93.5L191.9,92.3L194.1,91.2L195.6,92.1L198.5,91.4L195.8,88.3L197.1,87.2L195.8,86.1L196.2,85.8L199.3,86.3L198.4,82.8L199.2,81.7L201.0,81.2L201.1,77.6L202.7,76.2L204.5,76.4L204.2,79.8L201.6,81.3L203.6,83.9L205.3,83.1L205.2,80.8L206.7,80.7L206.5,79.4L207.2,79.1L210.5,82.8L214.4,81.5L215.2,80.5L215.0,77.9L212.5,76.2L211.4,73.5L205.0,72.4L204.7,71.6L203.7,71.3L200.2,73.1L198.0,72.7L197.9,68.3L193.1,68.1L193.1,65.1L194.1,64.2L191.3,60.5L192.2,59.6L191.1,55.4L190.2,55.5L188.2,60.0L187.8,59.0L187.9,55.5L184.2,57.4L180.4,53.8L180.4,53.2L175.3,53.7L177.3,58.6L176.8,59.4L177.1,60.8L180.0,62.3L180.8,63.7L179.7,66.1L179.6,67.3L181.2,67.3L182.9,66.4L185.1,68.3L185.7,71.3L186.3,71.4L188.6,73.8L190.9,71.8L194.6,76.3L191.9,79.0L190.5,79.4L187.1,78.5L186.7,85.3L184.5,85.8L183.4,86.8L184.7,91.1L184.4,92.7L178.8,95.5L178.8,96.4L174.8,100.5L170.9,97.1L171.7,95.2L170.9,94.0L168.2,92.2L167.4,92.6L164.3,90.7L163.2,91.1L162.3,93.5L163.0,94.6L162.7,97.5L164.6,97.8L167.1,96.7L169.0,98.1L171.6,103.0L172.1,103.0ZM186.3,67.4L186.6,65.1L184.6,63.8L184.8,63.2L188.4,60.5L190.0,61.2L190.2,63.9L189.5,65.1L189.8,66.9L188.9,67.6L188.9,70.4L187.8,69.5L187.4,67.7ZM179.1,56.6L184.0,57.8L183.6,59.2L183.1,59.4L178.5,57.7ZM186.1,90.1L186.0,88.7L188.6,86.3L190.0,88.5L190.0,90.0L188.6,92.4ZM193.3,85.2L193.8,84.6L196.8,83.1L196.2,84.4L194.2,86.3ZM161.8,117.0L164.3,114.6L164.3,112.5L166.9,113.6L167.6,112.0L164.7,111.0L163.9,111.5L161.6,111.1ZM167.5,116.2L172.9,118.4L175.6,114.2L171.8,110.3L169.9,113.1L167.9,115.0ZM173.8,123.6L173.1,125.3L168.9,125.7L173.1,131.2L174.0,131.7L173.9,136.5L178.4,135.3L180.1,137.5L173.5,137.9L173.3,138.4L168.9,136.3L168.0,134.7L172.4,131.3L167.6,130.6L166.5,131.9L167.8,134.5L164.1,136.3L164.2,137.4L167.1,137.7L167.4,140.5L164.8,140.1L163.2,144.4L163.5,145.2L165.2,145.7L167.6,150.1L169.5,151.7L171.8,149.6L172.3,148.5L170.2,146.9L170.9,144.9L179.2,147.3L181.0,151.2L181.6,151.4L183.7,148.0L180.3,146.5L181.5,143.7L180.8,141.5L181.3,139.8L182.7,139.7L186.9,142.4L185.8,143.8L185.6,146.5L184.5,147.8L186.1,151.3L186.8,151.3L189.7,148.4L192.9,148.1L194.1,146.1L193.2,144.0L193.4,143.1L192.2,134.3L194.3,134.1L194.4,130.6L190.7,131.6L191.2,130.2L188.0,128.5L187.3,127.0L184.1,125.7L182.9,123.9L181.3,126.0L181.8,126.6L182.0,128.0L179.5,127.7L182.2,130.6L179.1,129.5L179.1,127.5L178.1,125.9L178.5,125.4L177.8,122.5L179.1,120.9L179.1,118.6L178.6,117.4L174.8,119.0L173.0,118.6L172.8,120.6L173.8,122.2ZM183.3,131.2L185.2,134.6L181.4,136.2L179.4,133.8L179.5,132.9ZM169.8,153.0L167.3,157.4L169.2,158.5L172.1,158.2L172.2,155.9L171.1,153.7ZM159.0,157.1L159.6,157.6L162.6,156.5L161.8,155.5L159.6,154.6ZM163.3,165.0L164.6,162.7L163.1,162.6L160.2,163.4L160.8,161.0L160.2,159.6L158.6,160.2L158.1,163.9L156.3,165.0L160.6,168.5L162.2,167.6L159.9,163.7ZM159.6,169.8L157.4,168.2L157.4,169.1ZM160.4,176.1L158.3,175.7L157.4,179.5L159.1,179.0ZM169.9,192.7L170.5,197.5L172.2,197.3L173.3,195.0L176.1,197.0L177.1,198.6L178.8,194.7L176.6,192.5L176.1,192.5L175.1,188.6L173.0,189.5L173.1,192.7ZM166.4,204.9L167.2,201.6L166.9,201.0L164.0,202.0L163.9,204.1ZM166.2,208.1L166.9,205.4L166.8,205.4L164.1,207.2ZM165.1,220.7L167.4,220.8L168.4,220.2L168.4,218.4L167.3,216.4L163.5,217.4L163.0,215.4L160.6,216.1L162.3,217.7L163.5,217.5L164.1,218.9L164.7,219.2ZM164.1,228.4L165.8,226.3L162.7,223.9L161.8,224.0ZM158.1,228.9L160.7,228.7L160.9,225.6L157.9,226.0ZM158.5,237.7L156.8,238.0L157.1,240.5L158.8,240.1ZM180.1,77.0L183.0,80.3L186.9,78.4L185.0,75.6L182.4,74.6L181.1,75.1ZM178.5,92.3L181.9,90.4L178.6,89.3L177.8,90.2ZM188.0,118.2L186.1,119.4L185.7,122.0L187.5,123.2L190.2,120.8L191.4,125.3L193.1,124.2L190.8,120.3L192.7,116.5L192.4,115.9L187.9,115.7ZM190.3,182.6L193.3,180.0L193.2,179.2L193.0,178.9L187.2,178.5L186.4,177.3L190.5,175.4L186.9,172.7L186.0,175.3L186.0,177.1L183.8,177.8L183.2,178.9L185.7,182.1L187.4,181.4L188.9,182.5ZM214.7,53.6L214.7,56.5L215.5,57.7L215.0,60.0L213.2,60.2L211.9,62.6L208.9,62.9L209.1,64.2L211.3,66.3L212.9,65.8L213.5,64.3L214.7,63.3L215.4,65.3L214.9,66.0L215.6,67.3L216.3,67.3L217.7,66.4L217.5,65.1L220.0,63.9L220.4,61.1L221.8,60.3L222.1,58.7L221.6,56.1L220.0,55.1L219.7,54.3L215.3,53.0ZM206.0,52.7L205.5,54.7L204.2,54.6L201.7,56.6L205.2,58.3L208.6,59.0L211.5,58.5L213.1,56.0L212.7,53.2L209.8,51.5ZM210.4,90.0L205.9,90.4L208.6,92.9L208.8,96.5L210.8,97.7L213.3,91.5L211.3,91.3ZM203.8,101.0L206.7,96.7L201.6,93.7L200.5,95.9ZM203.1,110.3L204.4,108.9L202.7,105.5L200.4,105.2L201.9,109.9ZM200.6,135.2L198.7,136.5L198.2,139.8L200.2,141.1L202.4,139.1ZM191.3,156.2L193.9,156.6L194.2,155.7L191.9,153.7ZM191.3,162.2L190.6,165.2L190.9,165.6L195.3,164.4L194.7,162.0L192.7,161.0ZM197.0,172.5L197.1,173.8L199.2,174.4L200.4,173.7L199.5,172.5ZM198.8,183.6L195.6,182.4L195.5,184.2L196.7,185.4ZM191.3,187.8L191.4,189.3L194.1,188.8L193.5,187.2L192.8,186.8Z" fill="#14eb28"/>
<path fill-rule="evenodd" d="M71.3,15.9L72.7,20.4L71.1,21.5L69.1,24.1L71.2,25.7L72.2,27.3L75.2,27.9L80.6,22.3L79.0,18.4L76.4,15.3L71.9,13.3ZM102.6,19.2L97.6,19.4L95.5,23.1L96.1,27.0L99.9,29.3L106.9,26.6L103.0,21.8ZM130.5,58.3L131.9,53.1L133.1,52.9L134.9,50.7L133.6,49.5L126.9,50.4L129.7,58.1ZM126.5,63.4L128.2,58.8L125.0,58.5L121.1,59.5L121.1,64.0ZM133.8,80.7L134.5,87.1L136.1,88.0L136.6,91.7L135.1,93.3L135.7,98.4L135.5,99.1L140.7,103.1L145.0,98.3L146.0,99.4L152.5,99.8L151.7,101.6L146.5,100.5L148.0,104.6L149.4,105.2L151.3,103.8L153.6,103.5L155.0,101.2L154.5,97.8L152.5,94.3L150.4,93.4L148.3,94.0L144.9,88.2L145.0,84.2L150.1,80.1L148.2,77.6L141.1,76.7L140.8,74.6L145.9,71.2L145.9,66.6L153.3,66.4L154.1,65.5L152.3,60.2L150.2,59.9L144.6,62.3L143.9,63.9L139.8,62.1L138.9,62.3L138.0,63.6L137.4,70.2L132.8,71.9L132.3,73.2L130.9,74.3L126.4,75.8L128.0,78.8L129.8,76.9L131.4,80.6L132.1,81.1ZM109.2,88.9L113.7,88.0L111.2,93.2L117.1,91.6L114.4,87.8L114.9,84.8L111.6,83.6L108.8,87.1ZM108.5,90.0L104.9,89.8L105.5,95.3L109.3,92.7ZM110.6,103.4L107.1,102.2L107.8,98.4L105.1,97.2L102.5,102.1L101.5,102.8L102.5,106.8L104.1,108.2L102.1,112.4L98.5,112.5L98.8,114.1L107.6,117.0L109.1,112.7L114.3,112.9L115.5,110.9L114.9,109.4L113.4,108.2L113.3,107.1L117.4,103.4L116.8,101.6L114.8,100.0L113.3,100.3ZM82.2,107.8L83.0,112.1L85.9,114.9L88.3,115.4L89.9,111.9L88.5,108.7L84.6,106.8ZM127.3,112.0L125.3,112.7L127.2,117.8L129.1,114.1ZM98.9,126.8L105.7,126.7L108.7,123.0L107.0,120.4L102.7,122.3ZM122.8,125.8L127.6,127.1L128.9,124.6L128.8,122.3L123.1,124.1ZM111.8,165.2L112.3,167.8L112.3,171.0L114.2,167.5L112.8,162.6ZM131.4,190.7L131.4,190.7L131.3,190.6ZM127.7,222.1L127.5,224.0L128.7,225.5L131.3,226.0L131.4,223.8L129.0,222.0ZM123.2,227.3L124.3,226.3L123.5,224.6L121.8,226.2ZM116.9,231.4L118.0,230.7L117.8,230.3ZM122.9,235.2L124.2,235.6L124.8,232.7L126.0,232.3L125.6,229.9L123.9,229.3L123.1,230.6L123.9,232.3L122.4,233.2ZM123.7,237.7L125.6,238.4L126.0,237.4L125.5,237.1ZM131.5,240.9L130.4,242.6L133.3,243.8L133.4,241.2ZM139.2,117.3L138.0,119.0L139.3,122.1L144.9,120.4L145.2,117.8L144.2,116.8L143.8,108.9L139.2,110.7L140.4,113.9L143.8,116.6ZM134.2,129.9L130.2,132.0L133.6,135.6L138.3,131.7L137.8,129.4ZM138.8,132.3L139.3,133.8L143.7,138.5L144.1,133.2ZM144.0,145.3L141.2,143.7L140.4,144.6L140.6,146.3L142.9,147.5ZM142.9,160.1L143.5,165.7L148.0,170.3L148.5,169.1L148.4,167.2L145.9,164.9L146.8,164.1L148.3,161.2L143.9,159.8ZM142.7,184.3L144.5,183.9L147.7,180.9L146.2,178.6L141.3,179.5L140.7,181.3L141.3,182.8ZM132.2,187.7L134.3,188.1L135.4,186.8L134.9,183.3L133.7,182.3L130.9,186.5ZM141.6,198.1L142.0,198.2L142.3,195.1L141.3,197.8L139.8,197.2L139.8,196.2L138.7,195.3L137.0,195.5L138.7,194.0L138.6,193.2L137.1,193.0L136.0,193.8L135.6,195.3L136.8,195.6L138.9,197.5L139.5,197.4L140.4,199.9ZM138.6,205.3L136.6,205.9L139.6,209.7L142.2,209.7L143.0,206.3L143.9,206.7L144.4,208.5L146.2,209.7L147.7,209.0L145.8,206.0L146.5,205.2L145.9,201.8L142.6,203.9L142.6,206.1L141.2,206.5ZM138.5,209.9L139.0,212.4L139.3,212.4L139.4,210.1ZM136.5,215.2L136.5,217.9L138.4,217.0L139.5,214.6ZM147.0,221.7L148.3,218.2L147.3,216.0L145.7,214.7L144.9,214.7L141.9,218.6L142.3,220.6L146.2,222.2L145.2,225.2L146.2,227.6L147.5,228.1L149.8,223.4ZM135.6,219.9L135.7,218.9L134.1,216.8L132.2,218.3L132.7,220.3ZM141.0,222.0L141.5,221.3L138.2,219.9L136.3,220.3L137.1,221.4ZM140.5,227.2L143.1,225.3L141.1,223.4L139.0,225.2L139.7,227.2ZM162.3,93.5L159.6,93.9L158.3,97.4L162.1,98.0L162.7,97.5L163.0,94.6ZM156.4,115.1L156.1,111.1L153.0,112.2L152.4,115.8L154.1,116.4L155.5,118.6L158.1,117.2L158.5,116.4ZM161.6,111.1L161.2,111.1L158.9,114.0L161.1,116.9L161.7,117.0ZM153.2,130.0L152.3,127.1L148.2,129.1L147.9,131.5L148.6,131.6L152.9,135.2L153.3,135.1ZM150.0,142.2L153.0,143.0L155.7,140.9L152.1,139.6ZM160.2,169.6L160.6,168.5L157.0,165.8L157.4,168.2L159.6,169.8ZM155.8,188.6L159.5,188.0L159.8,187.1L159.0,185.0L154.9,186.0L154.4,186.7L151.2,188.2L149.8,187.0L146.4,188.3L147.1,192.2L145.8,194.6L148.6,198.5L152.7,196.6L155.6,197.2L155.8,194.1L155.5,192.9L152.7,191.9L152.5,191.3L155.0,189.8ZM150.2,206.6L152.2,203.3L151.8,201.5L148.2,200.3L147.7,200.9L148.9,202.8L148.3,205.4ZM153.2,204.1L155.4,206.5L157.0,205.7L157.8,207.5L159.2,209.0L160.1,205.0L162.4,200.9L164.0,202.0L166.9,201.0L167.9,198.6L167.5,198.1L161.4,199.7L157.4,200.1L157.4,203.2ZM152.9,211.1L151.4,210.9L149.7,212.1L150.7,212.5L151.4,214.2L152.3,214.1L153.6,212.0ZM160.6,216.1L159.3,215.9L159.4,214.6L157.4,213.0L155.8,212.9L155.6,215.0L159.2,216.1L158.8,217.9L159.0,218.6L159.9,219.0L162.3,217.7ZM147.6,215.6L150.4,214.2L149.9,213.7L148.3,214.5ZM153.5,222.4L153.2,223.1L149.9,223.4L150.4,227.9L153.9,225.3L154.8,225.6L157.0,223.4ZM157.2,225.5L155.1,225.8L156.6,229.6L158.1,228.9L157.9,226.0L160.9,225.6L161.7,224.0L160.4,223.4L157.9,224.3ZM144.8,237.8L148.1,239.9L148.2,237.0L147.6,236.7L144.6,237.0ZM145.2,250.3L145.6,251.8L148.0,252.0L150.0,249.9L149.2,248.5L146.3,248.5ZM180.4,53.2L176.6,50.2L175.4,53.7ZM170.6,58.2L171.8,59.0L176.9,59.1L172.7,53.8ZM179.5,67.4L179.7,66.1L177.9,64.0L177.8,61.4L177.1,60.8L175.2,63.1L176.1,66.7ZM170.9,70.2L173.6,70.7L175.2,69.2L174.9,67.3L173.0,67.1ZM178.8,94.2L178.8,95.5L184.4,92.7L184.7,91.1L183.4,86.8L182.3,87.1L179.3,86.0L178.9,86.5L178.6,89.3L181.6,90.1L182.1,90.7ZM182.1,98.6L180.8,98.2L178.9,102.5L180.1,103.7L182.4,102.3ZM170.1,103.8L169.4,106.0L170.7,109.3L171.8,110.2L174.3,106.7L172.1,103.0ZM167.0,120.3L166.1,118.1L162.7,118.3L162.5,119.5L167.0,122.5L167.3,123.9L172.8,120.6L172.9,118.4L171.3,117.9ZM163.5,133.4L164.7,131.9L163.7,130.5L159.8,131.1ZM184.5,147.8L185.6,146.5L185.8,143.8L181.5,143.7L180.3,146.5L183.7,148.0ZM179.2,147.3L175.2,146.1L175.3,149.7L177.8,150.9ZM174.8,153.6L171.1,153.7L172.2,155.9L174.4,155.5ZM167.4,156.8L164.4,154.5L162.5,156.4L163.1,157.1L167.2,157.5ZM174.4,159.3L175.0,160.3L179.0,160.5L179.2,159.6L178.1,156.2L177.3,155.6L174.9,157.6ZM175.8,167.6L179.0,165.3L174.2,163.7L173.9,162.2L170.9,162.6L170.5,163.2L171.5,166.0L174.0,165.1L175.1,167.3ZM167.1,171.7L167.9,168.5L165.2,171.0L163.7,169.7L162.6,172.0L165.3,172.7ZM176.0,174.2L179.1,173.7L179.5,172.2L175.5,169.9L174.6,171.4ZM183.8,177.8L186.0,177.1L186.0,175.3L182.8,173.6L179.4,173.9L179.8,174.8ZM163.2,183.0L165.0,181.4L163.7,180.6L162.7,181.7L162.8,182.8ZM179.8,183.3L181.1,186.6L184.5,186.8L184.2,184.5L179.9,182.5ZM167.0,189.1L169.1,190.0L169.6,188.9L172.1,188.3L172.4,186.5L169.2,184.7L168.4,185.8L166.8,186.3L166.2,187.1ZM178.7,188.5L178.1,188.0L175.4,188.2L175.1,188.6L176.1,192.5L177.2,191.9L178.8,189.5ZM167.0,192.0L165.2,192.9L165.3,193.9L168.3,193.5L168.9,192.6ZM180.8,195.2L179.7,194.6L178.8,194.7L178.6,195.6L180.2,197.0ZM167.7,205.4L168.1,203.0L167.2,201.6L166.4,204.9ZM162.9,207.0L163.1,209.5L165.3,209.3L165.4,210.2L167.5,210.3L167.3,208.7L164.1,207.2ZM164.5,213.5L163.0,215.4L163.5,217.4L167.3,216.4ZM208.6,59.0L207.6,61.6L208.9,62.9L211.9,62.6L213.2,60.2L215.0,60.0L215.5,57.7L214.7,56.5L214.7,53.6L212.7,53.2L213.1,56.0L211.5,58.5ZM224.3,53.5L221.6,54.9L219.7,54.3L220.0,55.1L221.6,56.1L222.1,58.7L223.4,58.1L225.1,56.3L224.8,54.0ZM194.1,64.2L196.1,63.6L195.9,60.8L194.7,59.6L192.2,59.6L191.3,60.5ZM182.4,74.6L185.0,75.6L185.0,71.9L182.1,71.5ZM199.2,81.7L198.4,82.8L199.4,86.4L197.1,87.2L195.8,88.3L198.5,91.4L201.4,91.6L203.1,89.3L203.6,83.9L201.6,81.3L204.2,79.8L204.5,76.4L202.7,76.2L201.1,77.6L201.0,81.2ZM205.9,90.3L210.1,88.4L209.1,85.1L203.4,89.3ZM191.2,100.0L194.0,99.2L195.3,97.3L194.8,94.9L195.6,92.1L194.1,91.2L191.9,92.3L191.6,93.5L193.8,94.9L190.4,98.6ZM204.1,100.8L208.2,101.3L210.6,97.6L208.8,96.5L206.7,96.7ZM203.8,101.0L200.5,95.9L199.1,98.1L199.8,102.6L200.0,102.9ZM198.0,105.4L196.1,103.5L194.6,103.9L196.2,106.5ZM183.8,121.8L182.7,122.2L182.9,123.9L184.1,125.7L187.3,127.0L187.7,126.6L187.5,123.2L185.7,122.0ZM194.4,130.6L194.7,129.9L191.7,129.1L190.7,131.6ZM192.7,139.2L195.3,136.0L194.3,134.1L192.2,134.3ZM205.3,151.4L205.6,151.1L203.9,147.7L202.8,147.8L201.9,148.8ZM216.5,156.5L217.0,155.2L214.5,155.2L212.6,153.4L211.6,153.3L211.9,157.2L214.5,155.9L214.9,156.8ZM203.2,156.2L205.9,159.0L206.2,159.0L205.5,156.9L203.8,155.9ZM191.0,169.8L192.2,167.8L191.0,165.9L189.0,168.7L189.6,169.5ZM202.8,169.7L200.0,169.2L200.4,166.8L199.7,166.3L197.7,167.4L199.0,169.5L201.6,171.3ZM204.6,170.9L207.9,169.5L206.2,166.9L204.5,166.0L203.4,167.9L203.2,169.6ZM195.2,170.0L192.3,173.0L192.7,173.9L196.4,171.8ZM196.7,185.4L196.2,187.3L196.4,187.9L199.4,187.3L199.6,186.9ZM192.8,186.8L192.4,185.9L190.2,186.4L191.3,187.8ZM190.0,193.9L190.4,190.0L186.0,189.3L188.9,194.2Z" fill="#fff000"/>
<path fill-rule="evenodd" d="M90.7,22.1L95.5,23.1L97.6,19.4L97.3,18.7L91.1,16.3L88.2,12.2L87.6,10.5L80.7,16.4L79.0,18.4L80.6,22.3L84.6,21.1L90.2,21.6ZM131.0,70.2L132.8,71.9L137.4,70.2L138.0,63.6L138.9,62.3L139.8,62.1L143.9,63.9L144.6,62.3L150.2,59.9L152.3,60.2L153.5,57.1L152.6,55.4L149.3,54.3L147.6,56.8L145.5,57.7L142.9,53.9L142.1,54.3L140.8,57.2L139.3,58.1L135.7,56.4L132.2,58.9L129.7,58.1L128.2,58.8L126.5,63.4L121.1,64.0L124.7,66.9L125.2,68.3L126.7,68.6L127.8,69.7ZM68.0,88.7L64.6,95.7L63.7,95.6L59.5,92.5L58.7,91.1L57.6,91.2L55.2,96.0L55.0,100.5L48.7,96.3L48.1,96.9L41.1,98.2L40.4,106.7L40.7,107.0L57.3,100.7L62.1,99.6L63.6,99.7L64.5,102.4L64.6,110.3L68.0,112.5L67.5,113.3L68.2,114.0L72.4,116.2L73.7,119.6L77.0,121.5L79.2,121.1L79.4,123.0L89.0,126.8L90.1,124.4L98.9,126.8L96.9,118.4L90.0,118.8L89.8,117.3L88.3,115.4L85.9,114.9L83.0,112.1L82.2,107.8L84.6,106.8L88.5,108.7L90.4,105.3L86.8,100.9L87.0,99.1L78.8,98.0L77.0,96.5L77.2,93.9L80.3,92.5L89.2,94.6L90.5,91.5L84.5,82.4L84.1,80.9L79.9,78.8L77.3,80.7L72.6,89.1ZM68.8,101.1L74.2,99.3L77.1,104.6L76.9,108.3L75.3,110.7L72.7,110.8L70.0,104.4L67.7,102.1ZM109.2,88.9L108.5,90.0L109.3,92.7L105.5,95.3L104.9,96.8L100.3,96.2L98.8,99.4L99.3,101.8L101.5,102.8L102.5,102.1L105.1,97.2L107.8,98.4L107.1,102.2L110.6,103.4L113.3,100.3L114.8,100.0L115.2,97.9L118.2,92.4L117.1,91.6L111.2,93.2L113.7,88.0ZM114.6,122.1L117.4,123.7L118.1,123.0L118.7,119.1L121.8,117.5L121.7,116.9L118.3,114.6L118.8,111.3L122.3,111.1L122.6,108.6L118.7,105.4L114.9,109.4L115.5,110.9L114.3,112.9L115.9,115.0L115.8,118.2L114.9,118.7ZM98.1,117.2L101.7,116.7L103.1,115.7L98.8,114.1ZM97.5,140.0L99.9,142.5L107.0,143.8L109.0,144.7L114.5,151.4L114.6,152.2L117.8,152.6L120.5,149.9L121.1,147.3L120.4,144.5L116.5,137.4L113.9,136.9L114.2,131.7L113.9,131.3L102.2,136.9L99.5,137.0L97.3,138.9ZM127.6,159.3L130.3,155.1L128.4,151.7L125.3,153.7L125.5,157.7ZM126.6,182.5L129.8,188.5L133.1,192.6L132.9,190.4L134.3,188.1L132.2,187.7L130.9,186.5L133.7,182.3L134.9,183.3L135.4,186.8L140.9,187.6L138.7,184.3L135.6,183.1L138.0,181.8L138.1,179.6L136.1,179.1L133.6,182.1L132.6,181.5L131.0,179.0L127.9,178.2L124.8,180.5L124.8,182.0ZM131.2,220.4L132.7,220.3L132.1,218.3L130.5,219.4ZM120.9,228.8L118.1,230.8L119.1,231.8L120.5,231.9L121.1,232.7L122.4,233.2L123.9,232.3L123.1,230.6L121.7,230.8ZM127.8,233.1L128.8,231.0L127.7,230.8L126.0,232.3ZM117.3,235.1L118.7,235.8L118.3,235.2ZM145.0,88.1L148.3,94.0L150.4,93.4L152.5,94.3L154.5,97.8L157.4,98.0L158.5,103.5L161.6,103.0L162.7,103.7L165.7,102.0L164.6,97.8L162.7,97.5L162.1,98.0L158.3,97.4L159.6,93.9L158.2,92.3L155.4,92.2L155.9,86.7L153.9,85.8L151.3,80.3L153.7,78.7L156.9,78.9L158.0,79.5L161.0,78.8L163.9,79.4L165.5,75.9L168.2,75.9L170.4,78.4L171.2,78.7L172.3,77.3L171.4,72.4L170.3,70.6L164.7,72.9L161.1,71.6L159.3,72.7L154.4,71.4L153.9,70.7L153.3,66.4L145.9,66.6L145.9,71.2L148.1,73.8L148.2,77.6L150.1,80.1L145.0,84.2ZM134.0,123.6L131.9,123.9L134.2,126.9L131.3,127.0L131.1,128.6L134.2,129.9L137.8,129.4L137.6,126.2ZM151.6,136.4L147.4,136.3L145.4,139.2L145.8,139.9L151.7,138.7ZM150.9,152.3L149.0,149.1L147.2,149.6L148.4,152.5ZM143.4,153.4L141.6,159.1L142.9,160.1L144.1,159.6L147.1,155.1ZM146.8,164.1L150.3,163.9L150.0,166.0L153.5,167.1L148.5,169.1L148.0,170.3L143.5,165.7L143.6,172.6L140.5,172.8L139.9,173.4L140.6,178.8L141.3,179.5L146.2,178.6L147.6,180.3L152.0,176.9L152.9,177.8L154.5,177.9L154.4,179.3L155.8,180.3L155.3,181.2L156.7,183.0L155.6,183.7L154.9,186.0L159.0,185.0L159.8,187.1L159.5,188.0L155.8,188.6L155.0,189.8L152.5,191.3L152.7,191.9L155.5,192.9L155.8,194.1L155.6,197.2L156.2,197.7L159.0,195.3L158.5,193.1L161.9,192.9L161.4,191.9L157.7,191.4L156.7,189.4L159.6,189.1L161.5,190.1L162.2,187.4L163.1,187.1L164.2,188.0L164.2,189.4L164.9,190.8L166.2,191.2L167.0,189.1L166.2,187.1L166.8,186.3L168.4,185.8L169.2,184.7L172.4,186.5L172.1,188.3L169.6,188.9L169.1,190.0L169.2,192.4L168.3,193.5L165.3,193.9L165.2,192.9L164.0,192.3L162.1,193.2L163.9,195.9L162.0,198.0L161.5,199.5L167.5,198.1L167.9,198.6L166.9,201.0L167.3,201.7L170.5,202.4L169.8,199.6L173.5,201.4L173.5,202.2L174.2,203.3L176.9,203.9L178.5,200.8L177.4,198.8L176.8,198.5L176.1,197.0L173.3,195.0L172.2,197.3L170.5,197.5L169.9,192.7L173.1,192.7L173.0,189.5L175.4,188.2L178.1,188.0L178.7,188.5L178.8,189.5L176.6,192.5L178.8,194.7L179.7,194.6L180.8,195.2L180.6,196.3L182.4,197.0L185.2,195.4L188.9,194.2L186.0,189.3L190.4,190.0L190.0,193.9L194.7,191.7L198.5,189.2L206.9,186.8L207.4,187.1L210.3,186.8L208.8,183.8L211.2,181.1L207.9,177.4L207.5,175.5L206.3,174.0L209.7,170.3L211.5,169.6L212.3,168.8L209.5,163.3L208.5,169.7L207.9,169.5L204.6,170.9L202.1,172.7L201.4,174.0L200.4,173.7L199.2,174.4L197.1,173.8L197.0,172.5L199.5,172.5L199.6,170.0L197.7,167.4L199.7,166.3L200.4,166.8L200.0,169.2L203.2,169.6L203.4,167.9L204.5,166.0L204.5,163.3L202.7,162.0L201.1,161.8L199.5,160.8L198.8,155.7L195.7,154.5L195.5,153.0L196.8,152.2L198.3,149.0L200.5,150.0L200.9,151.5L203.9,152.7L203.4,155.9L206.2,154.5L204.3,152.6L205.3,151.4L201.9,148.8L202.8,147.8L201.9,145.6L201.0,145.4L200.0,142.1L196.4,145.7L195.1,146.3L194.1,146.1L192.9,148.1L189.7,148.4L186.8,151.3L186.1,151.3L184.5,147.8L183.7,148.0L181.6,151.4L181.0,151.2L179.2,147.3L177.8,150.9L177.9,152.5L180.3,155.0L178.1,156.2L179.2,159.6L179.0,160.5L175.0,160.3L174.4,159.3L174.9,157.6L174.4,155.5L172.2,155.9L172.1,158.2L169.2,158.5L167.3,157.4L163.1,157.1L162.6,156.5L159.6,157.6L159.0,157.1L159.6,154.6L161.8,155.5L162.5,156.4L164.4,154.5L167.4,156.8L169.8,153.0L171.1,153.7L175.5,153.2L174.8,150.6L175.4,148.7L175.1,145.9L170.9,144.9L170.2,146.9L172.3,148.5L171.8,149.6L169.5,151.7L167.6,150.1L165.2,145.7L163.5,145.2L163.2,144.4L164.8,140.1L167.4,140.5L167.1,137.7L164.2,137.4L164.1,136.3L167.8,134.5L166.5,131.9L167.6,130.6L172.4,131.3L168.0,134.7L168.9,136.3L173.3,138.4L173.9,136.5L174.0,131.7L173.1,131.2L168.9,125.7L167.0,125.0L167.3,123.9L167.0,122.5L162.5,119.5L162.7,118.3L166.1,118.1L167.0,120.3L171.3,117.9L167.5,116.2L167.9,115.0L169.9,113.1L171.8,110.3L175.6,114.2L173.0,118.6L174.8,119.0L178.6,117.4L176.8,114.5L175.6,114.2L177.7,109.7L173.1,108.8L171.8,110.2L170.7,109.3L169.4,106.0L170.1,103.8L171.6,103.0L168.9,98.4L166.1,102.0L166.6,104.4L164.7,106.8L164.1,106.5L162.0,108.4L160.8,106.6L158.7,107.0L159.3,110.0L156.8,110.6L157.9,114.1L158.9,114.0L161.2,111.1L163.9,111.5L164.7,111.0L167.6,112.0L166.9,113.6L164.3,112.5L164.3,114.6L161.8,117.0L160.9,116.9L157.7,119.9L160.3,123.2L160.5,125.1L159.3,125.9L158.1,130.0L156.3,133.5L159.0,135.9L159.6,133.0L162.7,134.7L159.1,136.7L158.0,138.7L157.2,138.9L155.7,141.0L157.9,145.0L162.3,146.1L160.6,148.9L158.2,150.0L153.4,149.1L151.8,152.5L152.1,153.3L153.8,154.6L153.6,156.5L149.4,157.3L149.9,159.7L149.5,160.7L148.3,161.2ZM163.2,183.0L162.8,182.8L162.7,181.7L163.7,180.6L165.0,181.4ZM162.1,178.1L160.8,176.3L162.8,175.1L165.5,175.5L165.4,177.0L163.1,178.4ZM165.2,172.6L161.2,171.8L160.2,169.6L159.5,169.8L157.4,169.1L157.0,165.8L156.3,165.0L158.1,163.9L158.3,160.9L156.4,160.4L156.3,159.2L155.6,158.2L157.0,157.3L157.9,157.4L158.6,160.2L160.2,159.6L160.8,161.0L160.2,163.4L163.1,162.6L164.6,162.7L163.3,165.0L163.7,169.7L165.2,171.0L167.9,168.5L167.1,171.7ZM159.8,131.1L163.7,130.5L164.7,131.9L163.5,133.4ZM158.3,175.7L160.6,176.2L159.1,179.0L157.4,179.5ZM179.8,183.3L179.9,182.5L184.2,184.5L184.5,186.8L181.1,186.6ZM181.9,180.3L179.3,178.3L178.5,178.9L176.0,178.4L175.4,177.6L176.2,174.3L174.6,171.4L175.5,169.9L179.4,172.1L179.4,173.9L182.8,173.6L186.0,175.3L187.2,172.6L190.5,175.4L186.4,177.3L187.2,178.5L193.0,178.9L192.7,174.7L196.5,175.2L197.1,176.1L197.1,176.7L195.6,178.1L193.2,179.2L193.3,180.0L190.3,182.6L188.9,182.5L187.4,181.4L185.7,182.1L183.2,178.9ZM183.8,166.1L188.0,165.7L187.4,167.6L185.9,168.7L183.9,166.7ZM184.6,156.9L187.3,156.4L188.0,159.6L184.8,157.9ZM173.9,162.2L174.2,163.7L179.0,165.3L178.8,165.7L175.8,167.6L175.1,167.3L174.0,165.1L171.5,166.0L170.5,163.2L170.9,162.6ZM195.3,164.4L190.9,165.6L190.6,165.2L191.3,162.2L192.7,161.0L192.6,159.2L194.0,157.9L195.5,158.5L195.9,160.3L199.4,160.8L198.8,161.7L194.7,162.0ZM189.6,169.5L189.1,168.4L191.0,165.9L192.2,167.8L191.0,169.8ZM193.3,169.4L192.3,167.9L195.9,167.2L195.1,169.8ZM194.2,155.7L193.9,156.6L191.3,156.2L191.9,153.7ZM195.2,170.0L196.4,171.8L192.7,173.9L192.3,173.0ZM196.7,185.4L195.5,184.2L195.6,182.4L198.8,183.5L196.9,185.4L199.6,186.9L199.4,187.3L196.4,187.9L196.2,187.3ZM191.3,187.8L190.2,186.4L192.4,185.9L194.1,188.8L191.4,189.3ZM152.2,181.6L149.0,181.9L149.7,184.2L149.8,187.0L151.2,188.2L154.5,186.3L153.9,185.5L153.0,181.9ZM139.0,190.4L139.5,191.9L139.0,193.0L140.5,194.0L143.3,193.5L141.6,188.6L146.4,188.3L148.6,181.6L147.7,180.9L144.5,183.9L142.7,184.3L140.9,187.6L141.2,188.4ZM147.7,200.9L148.6,198.5L145.8,194.6L144.3,197.5L144.5,200.1L146.0,201.7ZM134.7,202.4L138.5,209.9L139.4,210.1L139.3,212.4L136.3,215.1L139.5,214.6L140.1,213.7L144.0,213.9L143.9,211.4L143.0,210.3L142.2,209.7L139.6,209.7L136.6,205.9L138.6,205.3L141.2,206.5L142.6,206.1L142.6,203.9L140.2,201.0L140.4,199.9L139.5,197.4L138.9,197.5L136.2,201.0L135.1,201.1ZM148.8,209.3L151.4,210.9L152.8,211.0L150.0,207.6ZM145.8,214.4L149.4,212.2L148.8,209.3L147.6,211.9L146.2,212.6ZM143.1,225.3L145.2,225.2L146.2,222.2L142.3,220.6L141.9,218.6L140.3,218.4L138.2,219.9L141.5,221.3L141.0,222.0L141.1,223.4ZM148.3,218.4L147.7,219.8L152.9,221.6L151.9,219.1L153.5,218.3L154.8,218.6L155.1,220.7L153.8,222.2L157.0,223.4L154.8,225.6L155.1,225.8L157.2,225.5L157.9,224.3L160.4,223.4L161.6,223.8L161.6,220.7L163.3,220.0L164.1,218.9L163.5,217.5L159.9,219.0L159.0,218.6L159.2,216.1L155.6,215.0L155.1,215.7L153.2,215.7L150.3,218.4ZM157.8,220.5L158.8,222.2L157.0,223.1L156.7,220.7ZM137.1,221.4L135.6,219.9L135.0,220.3L134.4,224.1L134.9,225.4L137.7,224.2ZM135.2,232.6L136.4,232.9L139.4,228.9L139.3,227.6L137.9,228.0L135.5,230.1L134.7,231.6ZM147.6,236.7L147.7,233.5L144.6,235.7L144.6,237.0ZM143.5,237.3L141.2,233.8L139.2,234.7L140.0,237.5ZM145.7,242.6L145.5,243.4L150.1,245.4L149.2,248.5L150.0,249.9L155.0,244.8L158.6,240.4L157.1,240.5L156.8,238.0L158.5,237.7L158.8,240.1L161.2,237.2L161.5,235.9L162.6,236.0L163.7,235.1L163.4,234.1L165.5,233.1L167.8,230.3L167.1,229.8L168.2,227.2L165.8,226.3L164.1,228.4L161.7,224.0L160.9,225.6L160.7,228.7L158.1,228.9L156.4,229.9L156.7,232.3L159.0,233.3L159.0,233.8L158.9,234.8L156.7,235.4L157.0,235.9L156.4,237.8L155.6,237.8L154.5,238.8L152.2,239.6L151.4,240.7L148.1,240.1ZM140.8,249.2L142.0,248.5L143.7,250.0L145.2,250.3L146.3,248.5L144.1,245.0L142.0,248.3L139.7,246.1L138.8,246.5ZM148.0,252.0L145.6,251.8L145.4,252.2L146.7,253.8ZM144.9,256.4L144.3,253.4L141.9,254.2L141.5,255.4L142.9,257.3ZM160.2,29.8L160.7,29.0L162.3,28.5L163.7,25.0L160.6,22.4L157.0,23.6L156.7,24.2L151.2,26.5L150.3,27.5L149.8,29.1L147.4,31.2L148.2,35.2L156.8,38.0L157.1,37.6L157.0,31.4ZM153.6,103.5L156.9,105.4L157.3,104.4L155.0,101.2ZM151.5,121.8L149.1,123.4L152.3,126.2L153.7,125.6L154.4,121.7ZM153.0,208.9L153.1,210.1L155.2,208.8L155.0,206.9L155.4,206.5L153.2,204.1L152.1,203.7L150.1,207.0L153.6,207.8ZM156.4,209.5L157.3,210.4L159.1,210.1L159.3,209.1L157.8,207.5ZM155.4,233.5L152.0,233.2L151.1,235.7L151.4,236.2L154.9,236.2ZM164.5,83.0L162.0,85.2L162.4,86.3L163.6,86.7L166.5,85.2ZM158.5,116.4L158.1,117.2L160.3,116.9ZM162.6,206.1L162.9,207.0L164.1,207.2L166.8,205.4L163.9,204.1L164.0,202.0L162.4,200.9L160.1,205.0ZM164.5,213.5L167.3,216.3L169.9,212.5L167.9,211.2L167.5,210.3L165.4,210.2L165.3,209.3L163.1,209.5L163.1,211.3L161.2,211.7L160.4,213.7L163.3,214.7ZM166.2,208.1L167.3,208.7L168.1,207.8L169.5,207.6L169.3,205.4L171.0,206.4L172.1,205.8L170.3,204.0L169.3,205.3L166.9,205.4ZM170.0,207.8L172.2,209.2L170.9,206.4ZM170.0,227.2L173.7,222.4L169.3,221.3L169.0,222.4L170.2,225.7L169.6,227.0ZM184.2,57.4L187.9,55.5L187.8,59.0L188.2,60.0L190.2,55.5L188.1,55.3L186.4,51.7L184.1,51.0L182.0,51.7L180.4,53.0L180.4,53.8ZM176.9,59.1L177.3,58.6L175.3,53.7L172.7,53.6ZM175.2,63.1L177.1,60.8L176.8,59.4L171.8,59.0L172.0,63.5L172.8,63.9ZM177.8,61.4L177.9,64.0L179.7,66.1L180.8,63.7L180.0,62.3ZM182.3,71.4L185.0,71.9L185.0,75.6L186.8,78.0L188.6,73.8L186.3,71.4L185.7,71.3L185.1,68.3L182.9,66.4L181.2,67.3L179.5,67.4L179.7,69.0L179.3,70.4L180.7,71.8ZM173.6,70.7L174.0,71.3L176.8,71.8L176.9,70.5L178.2,67.4L176.6,66.7L174.9,67.3L175.2,69.2ZM183.0,80.3L182.3,81.2L184.5,85.8L186.7,85.3L187.1,78.5ZM185.6,115.1L186.6,114.7L186.9,112.8L185.9,111.1L182.5,109.5L181.4,112.6L182.9,114.4ZM179.1,120.9L177.8,122.5L178.5,125.4L179.1,125.3L182.5,122.2ZM174.2,221.6L176.2,217.0L173.1,216.4L172.1,217.3ZM186.3,67.4L188.9,67.6L189.8,66.9L189.5,65.1L186.6,65.1ZM194.2,86.3L196.2,84.4L196.8,83.1L193.8,84.6L193.3,85.2ZM199.4,86.4L196.2,85.8L195.8,86.1L197.1,87.2ZM201.6,93.7L201.4,91.6L198.5,91.4L195.6,92.1L194.8,94.9L195.3,97.3L194.0,99.2L195.9,100.3L199.1,98.1ZM189.9,126.7L191.4,125.3L190.2,120.8L187.5,123.2L187.7,126.6L187.3,127.0L188.0,128.5L191.2,130.2L191.7,129.1ZM195.1,136.6L192.7,139.2L193.4,143.1L196.8,140.3ZM215.2,53.4L215.3,53.0L210.8,51.8L212.7,53.2ZM205.2,58.3L201.5,56.6L200.3,58.9L200.4,59.8L203.0,61.3L204.3,61.3ZM215.4,65.3L214.7,63.3L213.5,64.3L212.9,65.8L214.9,66.0ZM209.1,85.1L210.1,88.4L205.9,90.4L210.4,90.0L210.1,88.4L213.0,88.3L213.3,86.8L214.7,86.2L215.4,83.1L214.4,81.5L211.5,82.2L210.5,82.8ZM207.3,110.9L207.7,107.4L207.0,105.4L206.1,104.9L204.0,109.6ZM207.4,114.4L203.1,110.3L202.6,110.5L202.0,112.1L205.4,115.3L206.6,115.5ZM201.2,131.3L201.6,133.3L206.8,135.7L207.3,136.5L211.3,132.5L208.0,130.3L207.9,129.8L208.8,127.3L206.8,121.1L206.2,120.5L204.1,120.3L200.5,123.0L202.1,125.5L200.5,130.4ZM208.2,140.0L206.7,143.8L208.7,144.0L208.6,140.6ZM216.6,149.4L216.3,147.6L214.0,147.9L209.7,145.0L209.4,146.1L211.0,152.7L208.2,154.5L208.1,155.0L209.0,156.6L211.8,157.5L212.9,159.4L208.8,162.0L209.4,163.1L212.8,162.4L213.3,161.8L214.6,163.2L217.2,162.4L217.1,162.0L218.7,160.3L219.1,158.5L216.9,155.8L216.1,158.6L214.8,159.2L214.9,156.8L214.5,155.9L211.9,157.2L211.6,153.3L212.6,153.4L214.5,155.2L217.0,155.2L218.7,153.4ZM212.9,168.4L216.0,167.1L216.8,165.8L216.8,164.9L214.5,164.1L213.5,164.5Z" fill="#ff8000"/>
<path fill-rule="evenodd" d="M135.7,56.4L137.0,53.0L136.7,51.8L134.9,50.7L133.1,52.9L131.9,53.1L130.5,58.3L132.2,58.9Z" fill="#ffffff"/>
<path fill-rule="evenodd" d="M135.6,115.8L137.2,115.7L140.4,113.9L139.2,110.7L137.1,110.0L135.3,115.1ZM90.0,118.8L95.7,118.6L92.3,115.9L89.8,117.3ZM114.2,131.7L120.4,132.3L121.8,129.8L121.5,127.9L118.0,125.9L117.4,123.7L116.6,123.5L111.6,127.7L111.7,128.3L107.6,129.4L101.7,136.8L113.9,131.3ZM136.4,151.8L139.2,151.9L139.7,150.0L139.0,147.8L135.7,145.8L135.5,144.3L130.6,143.6L130.8,148.9L134.6,147.9ZM120.5,149.9L117.8,152.6L118.2,154.9L120.7,157.7L125.5,157.7L125.3,153.7ZM133.4,169.9L131.7,168.9L129.4,170.9L133.0,176.0L135.5,174.9ZM117.5,179.5L117.1,179.9L119.1,180.7L119.1,180.4ZM134.3,188.1L133.5,190.0L135.1,191.8L137.0,190.2L135.0,187.6ZM133.1,192.5L136.1,196.9L135.8,198.2L137.9,198.9L138.9,197.5L136.8,195.6L135.6,195.3L136.0,193.8L135.2,192.5ZM135.0,220.3L131.2,220.4L129.0,222.0L131.4,223.8L132.2,223.5L134.4,224.1ZM137.9,224.3L135.4,225.3L137.9,228.0L139.7,227.2L139.0,225.2ZM121.8,226.2L117.8,230.3L118.1,230.8L120.9,228.8L121.0,228.2L123.2,227.3ZM127.7,230.8L128.8,231.0L130.9,230.1L127.5,229.0ZM129.0,234.5L132.7,235.5L134.1,234.1L129.7,233.3ZM126.6,232.7L126.0,232.3L124.8,232.7L124.2,235.6L126.0,237.3ZM136.6,237.5L137.0,238.9L138.2,239.0L139.9,238.1L140.0,237.5L139.4,236.2ZM136.8,241.7L134.0,240.4L133.4,241.2L133.3,243.8L131.8,243.5L135.2,245.6ZM172.8,63.9L173.3,66.9L174.9,67.3L176.1,66.7L175.2,63.1ZM176.9,70.5L177.1,71.2L179.3,70.4L179.7,69.0L179.5,67.4L178.2,67.4ZM139.2,110.6L143.8,108.9L144.0,106.8L141.4,104.3ZM152.9,109.3L153.0,112.2L155.6,111.1ZM143.4,127.3L146.4,123.0L144.9,120.4L139.3,122.1L138.7,122.7L137.6,126.2L137.8,129.4L138.2,129.9L141.7,128.7ZM173.5,137.9L180.1,137.5L178.4,135.3L173.9,136.5ZM150.0,142.2L152.1,139.6L151.7,138.7L145.8,139.9L146.7,141.6L152.9,146.3L153.0,143.0ZM163.1,187.1L162.2,187.4L161.5,190.1L164.2,189.4L164.2,188.0ZM138.6,193.2L139.1,194.6L140.1,194.3L140.0,196.5L142.1,195.3L143.5,193.6L140.5,194.0L139.0,193.0ZM159.9,195.2L162.0,198.0L163.9,195.9L162.1,193.4ZM157.4,203.2L157.4,200.1L156.9,199.5L151.8,201.5L152.1,203.7L153.2,204.1ZM153.6,212.0L152.3,214.1L153.2,215.7L155.1,215.7L155.6,215.0L155.8,212.9L154.6,212.1L155.7,209.4L155.2,208.8L153.1,210.1L152.8,211.0ZM160.6,216.1L163.0,215.4L163.3,214.7L160.4,213.7L159.4,214.6L159.3,215.9ZM153.2,223.1L153.5,222.4L152.9,221.6L147.7,219.8L147.0,221.7L149.9,223.4ZM153.3,225.9L150.0,228.6L151.0,230.6L154.0,229.8ZM146.2,227.6L144.6,229.3L147.1,231.9L147.5,228.1ZM143.3,231.7L142.6,233.0L144.6,235.7L146.4,234.0L144.4,232.1ZM137.4,246.6L137.7,247.4L139.8,249.1L140.8,249.2L138.8,246.5ZM142.3,251.8L144.3,253.4L145.6,251.8L145.2,250.3L143.7,250.0ZM141.6,257.1L142.6,257.8L142.9,257.3L141.2,255.3ZM184.0,57.8L179.1,56.6L178.5,57.7L183.1,59.4L183.6,59.2ZM190.0,61.2L188.4,60.5L184.8,63.2L184.6,63.8L186.6,65.1L189.5,65.1L190.2,63.9ZM187.8,69.5L188.9,70.4L188.9,67.6L187.4,67.7ZM188.6,92.4L190.0,90.0L190.0,88.5L188.6,86.3L186.0,88.7L186.1,90.1ZM178.5,92.3L178.8,94.2L182.1,90.7L181.9,90.4ZM191.7,111.4L192.7,116.5L190.8,120.3L193.1,124.2L189.9,126.7L191.7,129.1L194.7,129.9L194.3,134.1L195.3,136.0L198.7,136.5L200.6,135.2L201.6,133.3L201.2,131.3L200.5,130.4L202.1,125.5L200.5,123.0L204.1,120.3L202.0,117.9L202.5,116.3L200.9,113.6L202.6,110.5L201.9,109.9L200.4,105.2L199.8,104.6L195.9,107.1L192.0,106.1L191.2,107.4L192.1,110.7ZM186.6,114.7L187.9,115.7L188.6,115.6L190.1,112.0L186.9,112.8ZM183.3,131.2L179.5,132.9L179.4,133.8L181.4,136.2L185.2,134.6ZM196.4,145.7L200.1,141.9L200.2,141.1L198.2,139.8L196.8,140.3L193.4,143.1L193.2,144.0L194.1,146.1L195.1,146.3ZM177.1,198.6L179.8,197.9L180.2,197.4L181.9,197.6L182.4,197.0L180.6,196.3L180.2,197.0L178.6,195.6ZM210.3,73.5L207.7,69.5L207.2,69.4L204.7,71.6L205.0,72.4ZM205.3,83.1L203.6,83.9L203.1,89.3L209.1,85.1L210.5,82.8L207.2,79.1L206.5,79.4L206.7,80.7L205.2,80.8ZM213.6,91.4L213.0,88.3L210.1,88.4L210.4,90.0L211.3,91.3Z" fill="#5ae614"/>
<path d="M39.6,105.0 L42.0,102.0 L45.0,100.5 L48.5,100.0 L51.0,99.3 L54.0,100.5 L52.0,103.5 L48.0,105.5 L44.0,107.3 L41.0,107.7 Z" fill="#ff8000"/>
<path d="M62.0,99.5 L65.0,97.5 L67.0,100.0 L66.0,104.0 L63.0,103.0 Z" fill="#ff8000"/>
<path d="M56.0,95.5 L62.0,95.0 L68.0,94.5 L73.0,92.0 L77.0,88.0 L78.5,80.0 L80.0,77.0 L84.0,76.5 L87.6,77.5 L88.5,82.0 L87.7,88.0 L86.0,92.0 L86.6,96.6 L88.0,103.0 L89.0,108.0 L91.0,112.0 L92.0,118.0 L86.5,121.5 L79.9,119.3 L75.5,116.0 L73.2,112.7 L71.0,108.2 L68.8,106.0 L66.6,101.6 L62.0,100.0 L57.0,100.0 Z" fill="#ff8000"/>
<path d="M69.0,102.0 L74.0,100.0 L78.0,102.0 L78.0,109.0 L73.0,110.0 L69.0,106.0 Z" fill="#e0e0e0"/>
<path d="M81.0,93.0 L86.0,92.0 L90.0,95.0 L91.0,101.0 L88.0,103.0 L83.0,101.0 Z" fill="#14eb28"/>
<path d="M80.0,107.0 L88.0,108.0 L91.0,112.0 L91.0,117.0 L86.0,118.0 L82.0,114.0 Z" fill="#fff000"/>
<path d="M106.0,94.5 L112.0,94.5 L112.0,101.0 L107.0,101.0 Z" fill="#ff8000"/>
<path d="M125.3,52.9 L130.5,49.8 L135.6,50.8 L138.2,55.5 L143.4,58.0 L148.5,56.8 L152.4,59.4 L151.1,64.5 L146.0,68.4 L144.7,76.1 L146.0,86.5 L147.3,94.2 L151.1,99.4 L148.5,103.2 L140.8,101.9 L133.1,96.8 L126.6,91.6 L125.3,83.9 L126.6,78.7 L130.5,73.5 L129.2,68.4 L124.0,65.8 L124.0,60.6 L126.6,56.8 Z" fill="#fff000"/>
<path d="M132.0,53.0 L135.0,52.5 L136.0,55.0 L133.0,56.0 Z" fill="#ffffff"/>
<path d="M124.0,65.8 L129.2,62.0 L135.6,58.0 L140.8,56.8 L146.0,55.5 L151.1,58.0 L148.5,62.0 L140.8,64.5 L135.6,65.8 L130.5,68.4 L125.3,68.4 Z" fill="#ff8000"/>
<path d="M146.0,71.0 L153.7,69.7 L161.5,71.0 L169.2,69.7 L173.0,71.0 L170.5,76.1 L166.6,78.7 L165.3,85.2 L162.7,89.0 L158.9,91.6 L156.3,96.8 L152.4,99.4 L148.5,96.8 L146.0,89.0 L144.7,78.7 Z" fill="#ff8000"/>
<path d="M154.0,80.0 L160.0,78.7 L163.0,82.0 L161.0,89.0 L156.0,91.0 L153.7,86.0 Z" fill="#e0e0e0"/>
<path d="M121.6,161.0 L127.0,160.0 L130.4,163.0 L129.0,169.0 L124.0,170.0 L121.0,166.0 Z" fill="#e0e0e0"/>
<path d="M123.8,142.5 L127.5,142.0 L128.2,146.0 L126.0,147.7 L123.8,146.0 Z" fill="#e0e0e0"/>
<path d="M175.5,104.0 L184.0,103.5 L186.6,108.0 L184.0,112.7 L177.0,112.0 Z" fill="#e0e0e0"/>
<path d="M178.0,114.0 L187.0,113.5 L189.0,118.0 L186.0,121.0 L180.0,120.0 Z" fill="#e0e0e0"/>
<path d="M192.0,107.0 L198.0,106.0 L203.0,109.0 L204.5,120.0 L203.0,134.0 L198.0,136.0 L193.0,131.0 L191.5,118.0 Z" fill="#5ae614"/>
<path d="M150.5,31.5 L153.0,28.0 L156.0,26.5 L159.0,25.5 L162.0,27.0 L161.0,30.0 L158.0,31.5 L156.0,33.0 L153.0,33.5 Z" fill="#ff8000"/>
<path d="M159.5,30.0 L162.5,28.5 L164.5,31.5 L162.0,35.0 L159.0,34.0 Z" fill="#14eb28"/>
<path d="M158.0,33.0 L161.0,32.5 L161.5,35.5 L158.5,36.0 Z" fill="#fff000"/>
<path d="M68.0,9.0 L78.0,10.5 L88.0,9.0 L98.0,9.0 L102.0,12.0 L102.0,18.0 L90.0,18.0 L80.0,17.0 L72.0,15.0 Z" fill="#14eb28"/>
<path d="M72.0,15.0 L80.0,16.0 L90.0,17.0 L100.0,14.0 L103.0,20.0 L102.0,24.0 L98.0,24.0 L90.0,21.5 L80.0,21.0 L74.0,20.0 Z" fill="#fff000"/>
<path d="M76.0,17.0 L84.0,17.5 L92.0,17.5 L99.0,16.0 L100.0,21.0 L97.0,22.5 L92.0,20.0 L84.0,19.5 L78.0,19.5 Z" fill="#ff8000"/>
<circle cx="79.4" cy="79.8" r="0.61" fill="#c8001e"/>
<circle cx="59.3" cy="95.6" r="0.73" fill="#c8001e"/>
<circle cx="76.8" cy="94.4" r="0.79" fill="#c8001e"/>
<circle cx="132.2" cy="57.5" r="0.56" fill="#c8001e"/>
<circle cx="132.8" cy="93.4" r="0.59" fill="#c8001e"/>
<circle cx="136.9" cy="155.9" r="1.16" fill="#c8001e"/>
<circle cx="134.0" cy="98.3" r="0.69" fill="#c8001e"/>
<circle cx="123.9" cy="123.4" r="1.48" fill="#c8001e"/>
<circle cx="126.1" cy="122.0" r="1.79" fill="#c8001e"/>
<circle cx="146.7" cy="116.4" r="1.46" fill="#c8001e"/>
<circle cx="132.1" cy="179.5" r="1.69" fill="#c8001e"/>
<circle cx="97.9" cy="133.8" r="1.74" fill="#c8001e"/>
<circle cx="152.2" cy="149.3" r="1.91" fill="#c8001e"/>
<circle cx="114.4" cy="161.5" r="1.49" fill="#c8001e"/>
<circle cx="136.7" cy="137.6" r="1.86" fill="#c8001e"/>
<circle cx="146.9" cy="156.7" r="2.09" fill="#c8001e"/>
<circle cx="157.0" cy="120.5" r="1.18" fill="#c8001e"/>
<circle cx="126.8" cy="108.8" r="0.78" fill="#c8001e"/>
<circle cx="98.9" cy="116.8" r="1.19" fill="#c8001e"/>
<circle cx="161.2" cy="100.1" r="1.27" fill="#c8001e"/>
<circle cx="134.2" cy="180.3" r="1.83" fill="#c8001e"/>
<circle cx="160.6" cy="119.8" r="1.22" fill="#c8001e"/>
<circle cx="168.4" cy="107.1" r="0.86" fill="#c8001e"/>
<circle cx="128.7" cy="150.9" r="0.99" fill="#c8001e"/>
<circle cx="119.0" cy="148.6" r="2.03" fill="#c8001e"/>
<circle cx="146.0" cy="143.5" r="1.53" fill="#c8001e"/>
<circle cx="121.0" cy="131.9" r="0.76" fill="#c8001e"/>
<circle cx="101.6" cy="126.0" r="0.68" fill="#c8001e"/>
<circle cx="96.5" cy="128.4" r="0.64" fill="#c8001e"/>
<circle cx="100.5" cy="117.2" r="1.12" fill="#c8001e"/>
<circle cx="118.6" cy="104.3" r="1.87" fill="#c8001e"/>
<circle cx="128.6" cy="100.6" r="0.75" fill="#c8001e"/>
<circle cx="116.8" cy="118.5" r="1.84" fill="#c8001e"/>
<circle cx="146.5" cy="118.1" r="1.15" fill="#c8001e"/>
<circle cx="132.7" cy="169.9" r="1.09" fill="#c8001e"/>
<circle cx="150.1" cy="114.7" r="1.38" fill="#c8001e"/>
<circle cx="90.3" cy="119.9" r="0.99" fill="#c8001e"/>
<circle cx="118.6" cy="114.0" r="0.94" fill="#c8001e"/>
<circle cx="158.6" cy="139.9" r="1.58" fill="#c8001e"/>
<circle cx="155.2" cy="100.5" r="1.59" fill="#c8001e"/>
<circle cx="151.0" cy="139.8" r="0.87" fill="#c8001e"/>
<circle cx="154.3" cy="125.3" r="1.80" fill="#c8001e"/>
<circle cx="148.9" cy="109.0" r="0.79" fill="#c8001e"/>
<circle cx="155.7" cy="106.6" r="1.84" fill="#c8001e"/>
<circle cx="117.4" cy="146.9" r="0.80" fill="#c8001e"/>
<circle cx="142.6" cy="144.7" r="2.00" fill="#c8001e"/>
<circle cx="124.4" cy="179.2" r="1.84" fill="#c8001e"/>
<circle cx="105.7" cy="117.2" r="1.04" fill="#c8001e"/>
<circle cx="109.8" cy="133.9" r="0.80" fill="#c8001e"/>
<circle cx="164.4" cy="127.4" r="1.29" fill="#c8001e"/>
<circle cx="137.0" cy="182.4" r="1.23" fill="#c8001e"/>
<circle cx="165.1" cy="142.2" r="1.40" fill="#c8001e"/>
<circle cx="125.0" cy="110.3" r="0.61" fill="#c8001e"/>
<circle cx="155.1" cy="109.2" r="1.31" fill="#c8001e"/>
<circle cx="148.9" cy="147.6" r="1.09" fill="#c8001e"/>
<circle cx="131.5" cy="147.5" r="1.78" fill="#c8001e"/>
<circle cx="108.9" cy="119.7" r="1.76" fill="#c8001e"/>
<circle cx="130.6" cy="148.2" r="1.74" fill="#c8001e"/>
<circle cx="164.6" cy="136.3" r="1.52" fill="#c8001e"/>
<circle cx="130.5" cy="143.2" r="1.64" fill="#c8001e"/>
<circle cx="126.0" cy="145.3" r="1.32" fill="#c8001e"/>
<circle cx="163.4" cy="107.4" r="1.67" fill="#c8001e"/>
<circle cx="143.5" cy="106.3" r="1.92" fill="#c8001e"/>
<circle cx="169.3" cy="114.0" r="2.03" fill="#c8001e"/>
<circle cx="121.5" cy="140.7" r="2.08" fill="#c8001e"/>
<circle cx="157.9" cy="108.1" r="1.25" fill="#c8001e"/>
<circle cx="131.3" cy="125.9" r="0.89" fill="#c8001e"/>
<circle cx="114.8" cy="164.2" r="0.63" fill="#c8001e"/>
<circle cx="134.5" cy="136.0" r="0.63" fill="#c8001e"/>
<circle cx="115.8" cy="154.4" r="1.37" fill="#c8001e"/>
<circle cx="115.3" cy="146.7" r="1.11" fill="#c8001e"/>
<circle cx="138.7" cy="144.7" r="0.67" fill="#c8001e"/>
<circle cx="138.0" cy="162.1" r="0.69" fill="#c8001e"/>
<circle cx="144.2" cy="144.4" r="1.63" fill="#c8001e"/>
<circle cx="125.3" cy="157.6" r="1.26" fill="#c8001e"/>
<circle cx="151.0" cy="153.9" r="0.76" fill="#c8001e"/>
<circle cx="129.3" cy="152.4" r="0.73" fill="#c8001e"/>
<circle cx="109.4" cy="142.6" r="0.84" fill="#c8001e"/>
<circle cx="117.6" cy="155.9" r="1.51" fill="#c8001e"/>
<circle cx="116.4" cy="166.0" r="0.81" fill="#c8001e"/>
<circle cx="140.5" cy="168.7" r="0.83" fill="#c8001e"/>
<circle cx="124.1" cy="165.7" r="1.60" fill="#c8001e"/>
<circle cx="122.0" cy="166.3" r="1.43" fill="#c8001e"/>
<circle cx="154.0" cy="157.8" r="1.60" fill="#c8001e"/>
<circle cx="117.3" cy="147.4" r="0.78" fill="#c8001e"/>
<circle cx="111.6" cy="135.1" r="0.59" fill="#c8001e"/>
<circle cx="113.6" cy="133.3" r="0.56" fill="#c8001e"/>
<circle cx="121.8" cy="147.4" r="0.97" fill="#c8001e"/>
<circle cx="113.9" cy="134.8" r="0.71" fill="#c8001e"/>
<circle cx="181.1" cy="104.0" r="0.99" fill="#c8001e"/>
<circle cx="172.1" cy="149.8" r="1.57" fill="#c8001e"/>
<circle cx="185.2" cy="108.9" r="1.56" fill="#c8001e"/>
<circle cx="174.2" cy="115.3" r="0.50" fill="#c8001e"/>
<circle cx="177.6" cy="122.1" r="1.05" fill="#c8001e"/>
<circle cx="169.2" cy="123.8" r="0.51" fill="#c8001e"/>
<circle cx="172.2" cy="100.1" r="0.94" fill="#c8001e"/>
<circle cx="161.9" cy="96.3" r="0.83" fill="#c8001e"/>
<circle cx="170.7" cy="128.4" r="1.08" fill="#c8001e"/>
<circle cx="194.5" cy="132.5" r="1.29" fill="#c8001e"/>
<circle cx="200.4" cy="117.2" r="0.86" fill="#c8001e"/>
<circle cx="193.3" cy="131.7" r="0.55" fill="#c8001e"/>
<circle cx="188.9" cy="136.8" r="1.39" fill="#c8001e"/>
<circle cx="166.4" cy="124.9" r="1.05" fill="#c8001e"/>
<circle cx="198.4" cy="140.9" r="1.41" fill="#c8001e"/>
<circle cx="186.9" cy="145.9" r="1.25" fill="#c8001e"/>
<circle cx="191.9" cy="108.1" r="0.53" fill="#c8001e"/>
<circle cx="166.1" cy="115.6" r="0.62" fill="#c8001e"/>
<circle cx="198.4" cy="126.8" r="1.19" fill="#c8001e"/>
<circle cx="188.8" cy="133.8" r="1.04" fill="#c8001e"/>
<circle cx="194.4" cy="123.7" r="1.09" fill="#c8001e"/>
<circle cx="193.9" cy="109.4" r="0.58" fill="#c8001e"/>
<circle cx="172.2" cy="136.6" r="0.73" fill="#c8001e"/>
<circle cx="182.7" cy="116.8" r="1.03" fill="#c8001e"/>
<circle cx="191.5" cy="138.7" r="1.18" fill="#c8001e"/>
<circle cx="166.8" cy="109.5" r="1.32" fill="#c8001e"/>
<circle cx="174.0" cy="127.4" r="0.51" fill="#c8001e"/>
<circle cx="162.8" cy="110.3" r="1.24" fill="#c8001e"/>
<circle cx="191.8" cy="133.5" r="0.82" fill="#c8001e"/>
<circle cx="183.8" cy="121.5" r="1.01" fill="#c8001e"/>
<circle cx="163.4" cy="141.7" r="1.37" fill="#c8001e"/>
<circle cx="163.3" cy="110.3" r="0.69" fill="#c8001e"/>
<circle cx="165.1" cy="103.1" r="0.97" fill="#c8001e"/>
<circle cx="168.5" cy="124.0" r="1.30" fill="#c8001e"/>
<circle cx="166.8" cy="108.2" r="1.31" fill="#c8001e"/>
<circle cx="163.8" cy="96.4" r="0.50" fill="#c8001e"/>
<circle cx="163.9" cy="120.7" r="0.77" fill="#c8001e"/>
<circle cx="159.0" cy="114.6" r="0.78" fill="#c8001e"/>
<circle cx="188.4" cy="68.6" r="0.58" fill="#c8001e"/>
<circle cx="192.4" cy="66.0" r="1.13" fill="#c8001e"/>
<circle cx="178.1" cy="58.8" r="0.78" fill="#c8001e"/>
<circle cx="179.7" cy="60.0" r="0.69" fill="#c8001e"/>
<circle cx="208.6" cy="79.4" r="1.44" fill="#c8001e"/>
<circle cx="185.7" cy="78.8" r="1.01" fill="#c8001e"/>
<circle cx="183.4" cy="82.3" r="1.46" fill="#c8001e"/>
<circle cx="210.5" cy="96.8" r="1.13" fill="#c8001e"/>
<circle cx="197.4" cy="93.7" r="0.55" fill="#c8001e"/>
<circle cx="204.6" cy="84.9" r="1.25" fill="#c8001e"/>
<circle cx="201.1" cy="79.4" r="0.55" fill="#c8001e"/>
<circle cx="194.4" cy="81.3" r="0.80" fill="#c8001e"/>
<circle cx="186.1" cy="91.6" r="0.80" fill="#c8001e"/>
<circle cx="197.7" cy="83.0" r="0.67" fill="#c8001e"/>
<circle cx="182.3" cy="76.9" r="1.41" fill="#c8001e"/>
<circle cx="195.4" cy="77.3" r="1.41" fill="#c8001e"/>
<circle cx="179.5" cy="81.3" r="0.59" fill="#c8001e"/>
<circle cx="185.3" cy="78.5" r="1.07" fill="#c8001e"/>
<circle cx="210.6" cy="94.7" r="0.91" fill="#c8001e"/>
<circle cx="192.1" cy="87.3" r="0.88" fill="#c8001e"/>
<circle cx="189.2" cy="72.0" r="0.78" fill="#c8001e"/>
<circle cx="195.6" cy="90.8" r="1.36" fill="#c8001e"/>
<circle cx="184.4" cy="78.9" r="0.75" fill="#c8001e"/>
<circle cx="191.6" cy="84.7" r="1.45" fill="#c8001e"/>
<circle cx="216.2" cy="65.8" r="0.79" fill="#c8001e"/>
<circle cx="97.6" cy="22.6" r="0.99" fill="#c8001e"/>
<circle cx="150.5" cy="167.2" r="1.17" fill="#c8001e"/>
<circle cx="204.0" cy="177.5" r="1.13" fill="#c8001e"/>
<circle cx="192.0" cy="163.8" r="1.03" fill="#c8001e"/>
<circle cx="142.7" cy="180.7" r="0.69" fill="#c8001e"/>
<circle cx="202.6" cy="173.6" r="0.77" fill="#c8001e"/>
<circle cx="183.3" cy="176.3" r="0.57" fill="#c8001e"/>
<circle cx="144.8" cy="167.3" r="1.06" fill="#c8001e"/>
<circle cx="166.4" cy="151.6" r="1.08" fill="#c8001e"/>
<circle cx="171.3" cy="189.9" r="1.13" fill="#c8001e"/>
<circle cx="200.1" cy="164.7" r="0.70" fill="#c8001e"/>
<circle cx="187.9" cy="156.0" r="0.47" fill="#c8001e"/>
<circle cx="173.9" cy="175.1" r="0.89" fill="#c8001e"/>
<circle cx="157.5" cy="174.7" r="1.42" fill="#c8001e"/>
<circle cx="163.0" cy="161.9" r="1.17" fill="#c8001e"/>
<circle cx="153.5" cy="181.4" r="1.23" fill="#c8001e"/>
<circle cx="174.3" cy="150.7" r="1.47" fill="#c8001e"/>
<circle cx="161.2" cy="182.6" r="0.69" fill="#c8001e"/>
<circle cx="155.1" cy="179.5" r="0.76" fill="#c8001e"/>
<circle cx="204.7" cy="165.8" r="0.65" fill="#c8001e"/>
<circle cx="155.2" cy="161.7" r="1.15" fill="#c8001e"/>
<circle cx="166.8" cy="151.1" r="1.47" fill="#c8001e"/>
<circle cx="185.2" cy="159.7" r="0.84" fill="#c8001e"/>
<circle cx="162.6" cy="148.8" r="0.45" fill="#c8001e"/>
<circle cx="159.0" cy="158.3" r="1.45" fill="#c8001e"/>
<circle cx="154.1" cy="158.5" r="1.31" fill="#c8001e"/>
<circle cx="195.9" cy="162.5" r="0.50" fill="#c8001e"/>
<circle cx="172.2" cy="159.4" r="1.42" fill="#c8001e"/>
<circle cx="153.1" cy="158.9" r="1.39" fill="#c8001e"/>
<circle cx="195.2" cy="179.9" r="0.49" fill="#c8001e"/>
<circle cx="190.8" cy="186.7" r="0.81" fill="#c8001e"/>
<circle cx="182.0" cy="153.6" r="1.20" fill="#c8001e"/>
<circle cx="161.5" cy="154.3" r="0.45" fill="#c8001e"/>
<circle cx="191.4" cy="187.7" r="1.12" fill="#c8001e"/>
<circle cx="155.9" cy="164.7" r="1.45" fill="#c8001e"/>
<circle cx="157.1" cy="162.4" r="0.97" fill="#c8001e"/>
<circle cx="194.6" cy="178.4" r="1.31" fill="#c8001e"/>
<circle cx="192.6" cy="171.6" r="0.79" fill="#c8001e"/>
<circle cx="161.7" cy="158.8" r="1.27" fill="#c8001e"/>
<circle cx="191.2" cy="152.9" r="0.52" fill="#c8001e"/>
<circle cx="146.6" cy="165.9" r="1.20" fill="#c8001e"/>
<circle cx="170.4" cy="152.2" r="0.89" fill="#c8001e"/>
<circle cx="182.2" cy="175.1" r="1.24" fill="#c8001e"/>
<circle cx="197.6" cy="174.6" r="0.58" fill="#c8001e"/>
<circle cx="197.2" cy="155.3" r="1.05" fill="#c8001e"/>
<circle cx="165.4" cy="178.4" r="0.66" fill="#c8001e"/>
<circle cx="156.8" cy="152.8" r="0.61" fill="#c8001e"/>
<circle cx="200.1" cy="170.1" r="0.79" fill="#c8001e"/>
<circle cx="174.5" cy="152.0" r="1.30" fill="#c8001e"/>
<circle cx="184.4" cy="191.5" r="0.56" fill="#c8001e"/>
<circle cx="172.3" cy="182.6" r="1.33" fill="#c8001e"/>
<circle cx="179.7" cy="188.4" r="0.84" fill="#c8001e"/>
<circle cx="198.9" cy="163.4" r="0.72" fill="#c8001e"/>
<circle cx="192.9" cy="189.2" r="0.56" fill="#c8001e"/>
<circle cx="180.5" cy="172.2" r="0.68" fill="#c8001e"/>
<circle cx="153.9" cy="153.3" r="1.08" fill="#c8001e"/>
<circle cx="184.3" cy="150.6" r="0.46" fill="#c8001e"/>
<circle cx="162.3" cy="175.3" r="0.64" fill="#c8001e"/>
<circle cx="161.2" cy="150.6" r="1.29" fill="#c8001e"/>
<circle cx="146.9" cy="160.6" r="1.03" fill="#c8001e"/>
<circle cx="151.1" cy="176.2" r="0.88" fill="#c8001e"/>
<circle cx="159.3" cy="156.0" r="1.45" fill="#c8001e"/>
<circle cx="161.2" cy="169.5" r="0.83" fill="#c8001e"/>
<circle cx="168.3" cy="184.9" r="1.50" fill="#c8001e"/>
<circle cx="164.7" cy="150.3" r="1.21" fill="#c8001e"/>
<circle cx="201.3" cy="162.0" r="1.31" fill="#c8001e"/>
<circle cx="167.6" cy="185.9" r="0.93" fill="#c8001e"/>
<circle cx="177.5" cy="173.3" r="1.41" fill="#c8001e"/>
<circle cx="146.1" cy="172.4" r="0.84" fill="#c8001e"/>
<circle cx="159.3" cy="167.1" r="1.42" fill="#c8001e"/>
<circle cx="147.4" cy="165.5" r="1.30" fill="#c8001e"/>
<circle cx="166.4" cy="187.0" r="1.10" fill="#c8001e"/>
<circle cx="196.1" cy="148.3" r="1.28" fill="#c8001e"/>
<circle cx="155.1" cy="161.0" r="1.34" fill="#c8001e"/>
<circle cx="196.4" cy="149.5" r="0.68" fill="#c8001e"/>
<circle cx="167.2" cy="166.9" r="0.85" fill="#c8001e"/>
<circle cx="189.3" cy="186.7" r="0.49" fill="#c8001e"/>
<circle cx="178.2" cy="179.4" r="0.49" fill="#c8001e"/>
<circle cx="197.0" cy="146.1" r="1.08" fill="#c8001e"/>
<circle cx="177.4" cy="172.6" r="0.77" fill="#c8001e"/>
<circle cx="168.6" cy="170.3" r="0.90" fill="#c8001e"/>
<circle cx="184.8" cy="163.2" r="0.91" fill="#c8001e"/>
<circle cx="173.3" cy="152.2" r="1.25" fill="#c8001e"/>
<circle cx="193.0" cy="163.8" r="0.64" fill="#c8001e"/>
<circle cx="148.7" cy="162.4" r="0.55" fill="#c8001e"/>
<circle cx="170.1" cy="166.5" r="0.49" fill="#c8001e"/>
<circle cx="189.9" cy="180.4" r="0.99" fill="#c8001e"/>
<circle cx="149.3" cy="184.6" r="1.50" fill="#c8001e"/>
<circle cx="189.8" cy="182.4" r="0.65" fill="#c8001e"/>
<circle cx="151.2" cy="181.0" r="1.43" fill="#c8001e"/>
<circle cx="195.5" cy="147.5" r="0.98" fill="#c8001e"/>
<circle cx="157.9" cy="166.3" r="0.79" fill="#c8001e"/>
<circle cx="186.2" cy="186.6" r="0.63" fill="#c8001e"/>
<circle cx="176.1" cy="173.1" r="0.83" fill="#c8001e"/>
<circle cx="199.4" cy="168.9" r="1.06" fill="#c8001e"/>
<circle cx="200.0" cy="145.4" r="1.49" fill="#c8001e"/>
<circle cx="182.8" cy="160.5" r="1.29" fill="#c8001e"/>
<circle cx="179.3" cy="158.7" r="1.25" fill="#c8001e"/>
<circle cx="170.1" cy="149.2" r="1.23" fill="#c8001e"/>
<circle cx="143.3" cy="182.6" r="0.72" fill="#c8001e"/>
<circle cx="183.5" cy="191.2" r="1.07" fill="#c8001e"/>
<circle cx="185.1" cy="156.3" r="0.45" fill="#c8001e"/>
<circle cx="181.9" cy="162.5" r="0.99" fill="#c8001e"/>
<circle cx="155.5" cy="174.0" r="0.47" fill="#c8001e"/>
<circle cx="147.2" cy="158.6" r="0.69" fill="#c8001e"/>
<circle cx="179.7" cy="170.6" r="0.66" fill="#c8001e"/>
<circle cx="182.4" cy="164.7" r="0.59" fill="#c8001e"/>
<circle cx="183.4" cy="185.3" r="1.27" fill="#c8001e"/>
<circle cx="167.3" cy="153.7" r="0.46" fill="#c8001e"/>
<circle cx="183.9" cy="169.2" r="0.82" fill="#c8001e"/>
<circle cx="183.9" cy="163.1" r="1.43" fill="#c8001e"/>
<circle cx="189.9" cy="152.9" r="1.40" fill="#c8001e"/>
<circle cx="167.6" cy="152.4" r="0.51" fill="#c8001e"/>
<circle cx="177.5" cy="188.9" r="0.60" fill="#c8001e"/>
<circle cx="153.6" cy="171.6" r="0.98" fill="#c8001e"/>
<circle cx="183.6" cy="182.3" r="0.63" fill="#c8001e"/>
<circle cx="161.0" cy="155.6" r="0.50" fill="#c8001e"/>
<circle cx="200.5" cy="180.7" r="1.20" fill="#c8001e"/>
<circle cx="190.7" cy="164.2" r="1.23" fill="#c8001e"/>
<circle cx="170.8" cy="151.7" r="0.56" fill="#c8001e"/>
<circle cx="162.8" cy="179.0" r="1.18" fill="#c8001e"/>
<circle cx="197.5" cy="177.0" r="0.73" fill="#c8001e"/>
<circle cx="177.7" cy="162.7" r="1.28" fill="#c8001e"/>
<circle cx="175.6" cy="153.8" r="1.12" fill="#c8001e"/>
<circle cx="157.7" cy="152.3" r="1.23" fill="#c8001e"/>
<circle cx="204.2" cy="178.8" r="0.79" fill="#c8001e"/>
<circle cx="182.9" cy="176.0" r="1.15" fill="#c8001e"/>
<circle cx="197.1" cy="176.3" r="1.35" fill="#c8001e"/>
<circle cx="169.7" cy="177.7" r="1.05" fill="#c8001e"/>
<circle cx="160.9" cy="151.0" r="1.10" fill="#c8001e"/>
<circle cx="187.1" cy="173.0" r="1.18" fill="#c8001e"/>
<circle cx="180.2" cy="158.9" r="1.31" fill="#c8001e"/>
<circle cx="195.7" cy="186.3" r="0.52" fill="#c8001e"/>
<circle cx="195.2" cy="173.0" r="1.32" fill="#c8001e"/>
<circle cx="182.9" cy="154.9" r="0.55" fill="#c8001e"/>
<circle cx="146.7" cy="179.4" r="0.67" fill="#c8001e"/>
<circle cx="161.7" cy="162.0" r="0.47" fill="#c8001e"/>
<circle cx="157.5" cy="154.7" r="1.20" fill="#c8001e"/>
<circle cx="165.0" cy="156.7" r="1.46" fill="#c8001e"/>
<circle cx="174.3" cy="184.3" r="1.10" fill="#c8001e"/>
<circle cx="169.7" cy="180.2" r="0.81" fill="#c8001e"/>
<circle cx="187.9" cy="168.0" r="0.68" fill="#c8001e"/>
<circle cx="198.6" cy="144.7" r="1.31" fill="#c8001e"/>
<circle cx="153.7" cy="179.6" r="1.48" fill="#c8001e"/>
<circle cx="173.4" cy="181.4" r="0.64" fill="#c8001e"/>
<circle cx="173.6" cy="158.1" r="1.32" fill="#c8001e"/>
<circle cx="159.3" cy="151.2" r="1.18" fill="#c8001e"/>
<circle cx="193.6" cy="176.3" r="1.28" fill="#c8001e"/>
<circle cx="182.7" cy="158.5" r="0.87" fill="#c8001e"/>
<circle cx="166.8" cy="186.3" r="0.54" fill="#c8001e"/>
<circle cx="200.4" cy="141.3" r="0.67" fill="#c8001e"/>
<circle cx="209.0" cy="150.6" r="1.12" fill="#c8001e"/>
<circle cx="204.2" cy="152.9" r="0.87" fill="#c8001e"/>
<circle cx="213.6" cy="161.1" r="0.95" fill="#c8001e"/>
<circle cx="206.3" cy="149.1" r="0.61" fill="#c8001e"/>
<circle cx="215.2" cy="158.5" r="1.02" fill="#c8001e"/>
<circle cx="203.1" cy="152.3" r="1.04" fill="#c8001e"/>
<circle cx="210.4" cy="143.5" r="0.82" fill="#c8001e"/>
<circle cx="215.9" cy="146.7" r="0.63" fill="#c8001e"/>
<circle cx="205.4" cy="159.7" r="1.09" fill="#c8001e"/>
<circle cx="202.8" cy="144.4" r="0.67" fill="#c8001e"/>
<circle cx="150.1" cy="199.1" r="0.79" fill="#c8001e"/>
<circle cx="150.1" cy="189.5" r="1.77" fill="#c8001e"/>
<circle cx="169.5" cy="205.3" r="1.12" fill="#c8001e"/>
<circle cx="144.6" cy="202.5" r="0.73" fill="#c8001e"/>
<circle cx="145.1" cy="195.3" r="0.64" fill="#c8001e"/>
<circle cx="153.1" cy="206.9" r="1.43" fill="#c8001e"/>
<circle cx="157.3" cy="202.3" r="1.16" fill="#c8001e"/>
<circle cx="142.4" cy="201.5" r="1.09" fill="#c8001e"/>
<circle cx="154.3" cy="200.6" r="1.50" fill="#c8001e"/>
<circle cx="154.0" cy="190.6" r="1.47" fill="#c8001e"/>
<circle cx="173.0" cy="206.4" r="1.44" fill="#c8001e"/>
<circle cx="171.9" cy="203.7" r="1.37" fill="#c8001e"/>
<circle cx="155.3" cy="193.1" r="1.35" fill="#c8001e"/>
<circle cx="140.6" cy="196.2" r="1.54" fill="#c8001e"/>
<circle cx="166.1" cy="202.3" r="0.90" fill="#c8001e"/>
<circle cx="154.1" cy="197.2" r="1.35" fill="#c8001e"/>
<circle cx="153.5" cy="203.6" r="1.72" fill="#c8001e"/>
<circle cx="144.1" cy="203.0" r="1.53" fill="#c8001e"/>
<circle cx="152.6" cy="198.2" r="1.77" fill="#c8001e"/>
<circle cx="138.1" cy="199.8" r="0.79" fill="#c8001e"/>
<circle cx="158.0" cy="186.9" r="1.29" fill="#c8001e"/>
<circle cx="159.0" cy="204.8" r="1.21" fill="#c8001e"/>
<circle cx="163.0" cy="208.0" r="1.23" fill="#c8001e"/>
<circle cx="145.2" cy="203.8" r="1.07" fill="#c8001e"/>
<circle cx="138.8" cy="192.0" r="1.08" fill="#c8001e"/>
<circle cx="137.1" cy="196.1" r="1.10" fill="#c8001e"/>
<circle cx="165.5" cy="194.2" r="0.92" fill="#c8001e"/>
<circle cx="145.8" cy="205.5" r="1.73" fill="#c8001e"/>
<circle cx="158.4" cy="190.3" r="1.56" fill="#c8001e"/>
<circle cx="152.8" cy="190.1" r="0.76" fill="#c8001e"/>
<circle cx="168.7" cy="207.5" r="1.36" fill="#c8001e"/>
<circle cx="156.0" cy="200.3" r="0.87" fill="#c8001e"/>
<circle cx="176.5" cy="194.2" r="1.37" fill="#c8001e"/>
<circle cx="170.5" cy="207.7" r="1.16" fill="#c8001e"/>
<circle cx="148.7" cy="199.9" r="0.75" fill="#c8001e"/>
<circle cx="171.1" cy="194.3" r="1.62" fill="#c8001e"/>
<circle cx="147.6" cy="194.9" r="0.90" fill="#c8001e"/>
<circle cx="154.2" cy="189.4" r="0.60" fill="#c8001e"/>
<circle cx="166.5" cy="192.2" r="0.89" fill="#c8001e"/>
<circle cx="149.0" cy="197.9" r="1.11" fill="#c8001e"/>
<circle cx="162.9" cy="203.1" r="1.03" fill="#c8001e"/>
<circle cx="138.9" cy="208.0" r="1.69" fill="#c8001e"/>
<circle cx="171.0" cy="202.4" r="0.62" fill="#c8001e"/>
<circle cx="163.7" cy="191.3" r="0.72" fill="#c8001e"/>
<circle cx="142.4" cy="190.8" r="1.53" fill="#c8001e"/>
<circle cx="150.9" cy="188.4" r="1.68" fill="#c8001e"/>
<circle cx="173.5" cy="201.6" r="1.54" fill="#c8001e"/>
<circle cx="169.2" cy="208.3" r="0.84" fill="#c8001e"/>
<circle cx="165.3" cy="199.4" r="1.49" fill="#c8001e"/>
<circle cx="154.7" cy="209.6" r="1.27" fill="#c8001e"/>
<circle cx="147.5" cy="190.8" r="0.77" fill="#c8001e"/>
<circle cx="155.9" cy="188.2" r="1.19" fill="#c8001e"/>
<circle cx="157.2" cy="199.6" r="1.64" fill="#c8001e"/>
<circle cx="155.9" cy="200.3" r="1.40" fill="#c8001e"/>
<circle cx="171.4" cy="194.9" r="1.10" fill="#c8001e"/>
<circle cx="162.9" cy="202.4" r="0.63" fill="#c8001e"/>
<circle cx="161.8" cy="203.8" r="1.72" fill="#c8001e"/>
<circle cx="157.7" cy="198.1" r="1.68" fill="#c8001e"/>
<circle cx="137.9" cy="204.8" r="1.35" fill="#c8001e"/>
<circle cx="150.6" cy="209.0" r="1.04" fill="#c8001e"/>
<circle cx="156.2" cy="199.2" r="1.52" fill="#c8001e"/>
<circle cx="145.2" cy="196.6" r="1.11" fill="#c8001e"/>
<circle cx="159.5" cy="208.0" r="0.95" fill="#c8001e"/>
<circle cx="170.9" cy="195.7" r="1.20" fill="#c8001e"/>
<circle cx="147.8" cy="198.7" r="1.77" fill="#c8001e"/>
<circle cx="163.7" cy="207.0" r="1.00" fill="#c8001e"/>
<circle cx="149.7" cy="192.7" r="1.30" fill="#c8001e"/>
<circle cx="162.8" cy="206.7" r="0.65" fill="#c8001e"/>
<circle cx="144.4" cy="210.7" r="1.33" fill="#c8001e"/>
<circle cx="163.8" cy="206.9" r="1.69" fill="#c8001e"/>
<circle cx="161.9" cy="201.9" r="1.35" fill="#c8001e"/>
<circle cx="165.4" cy="201.3" r="1.42" fill="#c8001e"/>
<circle cx="145.3" cy="203.3" r="1.15" fill="#c8001e"/>
<circle cx="144.0" cy="185.1" r="1.53" fill="#c8001e"/>
<circle cx="174.4" cy="203.0" r="1.04" fill="#c8001e"/>
<circle cx="170.6" cy="206.8" r="1.27" fill="#c8001e"/>
<circle cx="147.2" cy="192.8" r="1.11" fill="#c8001e"/>
<circle cx="149.7" cy="196.5" r="1.37" fill="#c8001e"/>
<circle cx="141.4" cy="207.5" r="1.29" fill="#c8001e"/>
<circle cx="174.6" cy="196.9" r="0.62" fill="#c8001e"/>
<circle cx="152.6" cy="201.2" r="1.73" fill="#c8001e"/>
<circle cx="153.6" cy="187.0" r="1.37" fill="#c8001e"/>
<circle cx="145.3" cy="188.4" r="0.62" fill="#c8001e"/>
<circle cx="141.5" cy="212.0" r="0.71" fill="#c8001e"/>
<circle cx="137.2" cy="204.9" r="0.89" fill="#c8001e"/>
<circle cx="138.6" cy="206.4" r="1.46" fill="#c8001e"/>
<circle cx="172.0" cy="205.2" r="0.70" fill="#c8001e"/>
<circle cx="162.6" cy="204.6" r="1.15" fill="#c8001e"/>
<circle cx="163.5" cy="207.7" r="0.70" fill="#c8001e"/>
<circle cx="149.4" cy="205.2" r="0.80" fill="#c8001e"/>
<circle cx="172.2" cy="198.1" r="0.67" fill="#c8001e"/>
<circle cx="151.8" cy="200.7" r="1.13" fill="#c8001e"/>
<circle cx="169.6" cy="194.5" r="1.37" fill="#c8001e"/>
<circle cx="162.6" cy="196.1" r="1.06" fill="#c8001e"/>
<circle cx="169.1" cy="200.4" r="0.95" fill="#c8001e"/>
<circle cx="139.0" cy="212.2" r="1.44" fill="#c8001e"/>
<circle cx="170.8" cy="193.6" r="1.33" fill="#c8001e"/>
<circle cx="161.4" cy="192.9" r="1.11" fill="#c8001e"/>
<circle cx="173.4" cy="194.9" r="1.42" fill="#c8001e"/>
<circle cx="170.0" cy="192.2" r="0.60" fill="#c8001e"/>
<circle cx="147.4" cy="196.3" r="1.30" fill="#c8001e"/>
<circle cx="138.3" cy="208.2" r="1.57" fill="#c8001e"/>
<circle cx="172.5" cy="200.6" r="0.93" fill="#c8001e"/>
<circle cx="171.8" cy="207.4" r="1.42" fill="#c8001e"/>
<circle cx="174.4" cy="194.1" r="0.70" fill="#c8001e"/>
<circle cx="159.5" cy="207.1" r="0.84" fill="#c8001e"/>
<circle cx="146.2" cy="201.6" r="1.41" fill="#c8001e"/>
<circle cx="155.8" cy="190.0" r="0.91" fill="#c8001e"/>
<circle cx="167.7" cy="207.0" r="1.15" fill="#c8001e"/>
<circle cx="140.1" cy="207.4" r="1.53" fill="#c8001e"/>
<circle cx="146.2" cy="200.8" r="1.68" fill="#c8001e"/>
<circle cx="173.2" cy="199.1" r="1.17" fill="#c8001e"/>
<circle cx="161.0" cy="189.5" r="0.83" fill="#c8001e"/>
<circle cx="144.0" cy="204.3" r="1.04" fill="#c8001e"/>
<circle cx="159.9" cy="195.7" r="1.22" fill="#c8001e"/>
<circle cx="142.7" cy="185.3" r="1.80" fill="#c8001e"/>
<circle cx="152.0" cy="187.1" r="1.36" fill="#c8001e"/>
<circle cx="161.3" cy="194.0" r="1.22" fill="#c8001e"/>
<circle cx="137.4" cy="185.0" r="1.79" fill="#c8001e"/>
<circle cx="172.4" cy="198.1" r="1.28" fill="#c8001e"/>
<circle cx="147.4" cy="206.6" r="1.11" fill="#c8001e"/>
<circle cx="147.0" cy="185.1" r="0.84" fill="#c8001e"/>
<circle cx="144.0" cy="186.4" r="0.66" fill="#c8001e"/>
<circle cx="159.6" cy="209.2" r="1.15" fill="#c8001e"/>
<circle cx="139.2" cy="201.3" r="1.08" fill="#c8001e"/>
<circle cx="141.5" cy="211.8" r="0.91" fill="#c8001e"/>
<circle cx="159.9" cy="202.6" r="1.75" fill="#c8001e"/>
<circle cx="164.3" cy="195.4" r="1.14" fill="#c8001e"/>
<circle cx="143.1" cy="212.0" r="1.79" fill="#c8001e"/>
<circle cx="145.7" cy="185.1" r="0.91" fill="#c8001e"/>
<circle cx="149.4" cy="218.7" r="1.50" fill="#c8001e"/>
<circle cx="167.8" cy="207.6" r="1.39" fill="#c8001e"/>
<circle cx="163.0" cy="215.4" r="1.59" fill="#c8001e"/>
<circle cx="164.7" cy="219.2" r="1.28" fill="#c8001e"/>
<circle cx="147.4" cy="214.7" r="1.36" fill="#c8001e"/>
<circle cx="140.0" cy="211.2" r="0.86" fill="#c8001e"/>
<circle cx="140.7" cy="213.3" r="0.77" fill="#c8001e"/>
<circle cx="145.1" cy="208.9" r="1.28" fill="#c8001e"/>
<circle cx="171.3" cy="209.9" r="1.53" fill="#c8001e"/>
<circle cx="168.9" cy="218.6" r="0.74" fill="#c8001e"/>
<circle cx="153.0" cy="208.3" r="1.53" fill="#c8001e"/>
<circle cx="168.0" cy="215.2" r="1.05" fill="#c8001e"/>
<circle cx="148.9" cy="217.7" r="1.08" fill="#c8001e"/>
<circle cx="159.9" cy="208.9" r="0.82" fill="#c8001e"/>
<circle cx="138.2" cy="216.3" r="1.15" fill="#c8001e"/>
<circle cx="146.1" cy="212.4" r="0.76" fill="#c8001e"/>
<circle cx="146.3" cy="217.9" r="0.93" fill="#c8001e"/>
<circle cx="142.4" cy="213.4" r="0.92" fill="#c8001e"/>
<circle cx="170.3" cy="208.5" r="1.58" fill="#c8001e"/>
<circle cx="161.4" cy="209.7" r="1.08" fill="#c8001e"/>
<circle cx="146.9" cy="210.4" r="0.80" fill="#c8001e"/>
<circle cx="139.7" cy="210.8" r="1.50" fill="#c8001e"/>
<circle cx="138.2" cy="216.4" r="0.89" fill="#c8001e"/>
<circle cx="166.7" cy="211.4" r="0.74" fill="#c8001e"/>
<circle cx="156.0" cy="209.4" r="1.04" fill="#c8001e"/>
<circle cx="170.7" cy="209.8" r="1.17" fill="#c8001e"/>
<circle cx="165.3" cy="216.3" r="0.80" fill="#c8001e"/>
<circle cx="159.1" cy="213.4" r="0.87" fill="#c8001e"/>
<circle cx="143.8" cy="215.0" r="1.31" fill="#c8001e"/>
<circle cx="166.8" cy="214.6" r="0.80" fill="#c8001e"/>
<circle cx="169.5" cy="218.2" r="0.54" fill="#c8001e"/>
<circle cx="173.9" cy="207.4" r="1.09" fill="#c8001e"/>
<circle cx="174.5" cy="211.8" r="0.51" fill="#c8001e"/>
<circle cx="175.0" cy="211.3" r="1.11" fill="#c8001e"/>
<circle cx="174.1" cy="208.3" r="0.61" fill="#c8001e"/>
<circle cx="169.1" cy="214.7" r="0.50" fill="#c8001e"/>
<circle cx="148.2" cy="222.3" r="1.12" fill="#c8001e"/>
<circle cx="135.0" cy="225.6" r="1.42" fill="#c8001e"/>
<circle cx="159.6" cy="220.9" r="1.31" fill="#c8001e"/>
<circle cx="143.6" cy="226.0" r="0.66" fill="#c8001e"/>
<circle cx="147.3" cy="223.2" r="1.13" fill="#c8001e"/>
<circle cx="137.0" cy="218.2" r="0.85" fill="#c8001e"/>
<circle cx="134.2" cy="225.4" r="0.80" fill="#c8001e"/>
<circle cx="150.0" cy="223.3" r="1.30" fill="#c8001e"/>
<circle cx="135.1" cy="222.9" r="1.10" fill="#c8001e"/>
<circle cx="140.2" cy="218.5" r="1.01" fill="#c8001e"/>
<circle cx="135.5" cy="224.1" r="1.46" fill="#c8001e"/>
<circle cx="135.9" cy="223.9" r="1.35" fill="#c8001e"/>
<circle cx="161.9" cy="221.7" r="1.02" fill="#c8001e"/>
<circle cx="158.7" cy="223.3" r="1.00" fill="#c8001e"/>
<circle cx="142.2" cy="219.9" r="0.94" fill="#c8001e"/>
<circle cx="157.5" cy="228.0" r="1.42" fill="#c8001e"/>
<circle cx="148.1" cy="228.5" r="1.53" fill="#c8001e"/>
<circle cx="139.2" cy="222.1" r="1.23" fill="#c8001e"/>
<circle cx="143.0" cy="223.4" r="0.67" fill="#c8001e"/>
<circle cx="145.3" cy="223.1" r="0.62" fill="#c8001e"/>
<circle cx="148.0" cy="250.2" r="1.66" fill="#c8001e"/>
<circle cx="148.5" cy="230.1" r="1.41" fill="#c8001e"/>
<circle cx="130.1" cy="240.3" r="1.71" fill="#c8001e"/>
<circle cx="147.4" cy="229.5" r="1.22" fill="#c8001e"/>
<circle cx="130.8" cy="231.5" r="1.38" fill="#c8001e"/>
<circle cx="129.9" cy="237.5" r="1.24" fill="#c8001e"/>
<circle cx="123.0" cy="231.1" r="1.09" fill="#c8001e"/>
<circle cx="130.9" cy="229.2" r="0.71" fill="#c8001e"/>
<circle cx="143.7" cy="251.4" r="1.33" fill="#c8001e"/>
<circle cx="144.9" cy="244.3" r="0.84" fill="#c8001e"/>
<circle cx="151.9" cy="237.3" r="1.26" fill="#c8001e"/>
<circle cx="147.0" cy="237.6" r="0.97" fill="#c8001e"/>
<circle cx="128.6" cy="228.4" r="1.21" fill="#c8001e"/>
<circle cx="135.6" cy="241.9" r="0.61" fill="#c8001e"/>
<circle cx="141.0" cy="230.8" r="1.79" fill="#c8001e"/>
<circle cx="159.9" cy="236.5" r="0.67" fill="#c8001e"/>
<circle cx="135.8" cy="236.5" r="1.48" fill="#c8001e"/>
<circle cx="121.9" cy="228.6" r="1.75" fill="#c8001e"/>
<circle cx="133.3" cy="233.3" r="1.41" fill="#c8001e"/>
<circle cx="147.2" cy="251.7" r="1.59" fill="#c8001e"/>
<circle cx="142.3" cy="247.6" r="1.49" fill="#c8001e"/>
<circle cx="154.3" cy="237.8" r="1.54" fill="#c8001e"/>
<circle cx="145.7" cy="238.7" r="1.76" fill="#c8001e"/>
<circle cx="145.0" cy="235.7" r="1.54" fill="#c8001e"/>
<circle cx="135.4" cy="237.0" r="1.15" fill="#c8001e"/>
<circle cx="152.5" cy="231.1" r="1.07" fill="#c8001e"/>
<circle cx="144.2" cy="234.5" r="0.99" fill="#c8001e"/>
<circle cx="141.4" cy="236.7" r="0.82" fill="#c8001e"/>
<circle cx="131.6" cy="225.6" r="1.29" fill="#c8001e"/>
<circle cx="162.3" cy="232.2" r="1.61" fill="#c8001e"/>
<circle cx="126.7" cy="236.0" r="1.69" fill="#c8001e"/>
<circle cx="144.6" cy="238.7" r="1.70" fill="#c8001e"/>
<circle cx="155.0" cy="240.2" r="1.80" fill="#c8001e"/>
<circle cx="142.3" cy="239.4" r="1.42" fill="#c8001e"/>
<circle cx="135.9" cy="233.5" r="1.31" fill="#c8001e"/>
<circle cx="157.1" cy="238.5" r="0.79" fill="#c8001e"/>
<circle cx="158.4" cy="236.0" r="0.81" fill="#c8001e"/>
<circle cx="153.6" cy="233.5" r="0.99" fill="#c8001e"/>
<circle cx="152.7" cy="245.3" r="0.84" fill="#c8001e"/>
<circle cx="150.4" cy="225.9" r="1.49" fill="#c8001e"/>
<circle cx="142.4" cy="215.9" r="0.89" fill="#c8001e"/>
<circle cx="144.2" cy="220.1" r="0.79" fill="#c8001e"/>
<circle cx="137.6" cy="221.6" r="1.20" fill="#c8001e"/>
<circle cx="141.1" cy="225.9" r="1.24" fill="#c8001e"/>
<circle cx="134.8" cy="218.9" r="1.39" fill="#c8001e"/>
<circle cx="140.1" cy="222.3" r="0.60" fill="#c8001e"/>
<circle cx="140.1" cy="224.1" r="1.19" fill="#c8001e"/>
<circle cx="147.4" cy="216.4" r="1.10" fill="#c8001e"/>
<circle cx="145.1" cy="217.2" r="1.25" fill="#c8001e"/>
<circle cx="144.6" cy="226.0" r="1.17" fill="#c8001e"/>
<circle cx="142.2" cy="215.5" r="0.76" fill="#c8001e"/>
<circle cx="149.2" cy="215.3" r="0.70" fill="#c8001e"/>
<circle cx="137.4" cy="220.3" r="1.42" fill="#c8001e"/>
<circle cx="146.3" cy="223.7" r="0.66" fill="#c8001e"/>
<circle cx="134.2" cy="223.2" r="0.92" fill="#c8001e"/>
<circle cx="148.3" cy="218.2" r="0.77" fill="#c8001e"/>
<circle cx="139.3" cy="215.2" r="1.50" fill="#c8001e"/>
<circle cx="145.6" cy="218.2" r="1.05" fill="#c8001e"/>
<circle cx="141.7" cy="214.7" r="1.49" fill="#c8001e"/>
<circle cx="145.7" cy="225.5" r="1.04" fill="#c8001e"/>
<circle cx="146.4" cy="217.0" r="0.64" fill="#c8001e"/>
<circle cx="152.6" cy="224.3" r="0.91" fill="#c8001e"/>
<circle cx="152.0" cy="223.8" r="0.90" fill="#c8001e"/>
<circle cx="146.1" cy="225.5" r="1.10" fill="#c8001e"/>
<circle cx="153.0" cy="216.9" r="0.99" fill="#c8001e"/>
<circle cx="148.4" cy="216.7" r="0.91" fill="#c8001e"/>
<circle cx="151.5" cy="219.8" r="1.39" fill="#c8001e"/>
<circle cx="138.9" cy="216.1" r="0.96" fill="#c8001e"/>
<circle cx="137.7" cy="225.7" r="0.89" fill="#c8001e"/>
<circle cx="145.2" cy="215.4" r="1.13" fill="#c8001e"/>
<circle cx="141.7" cy="218.8" r="0.67" fill="#c8001e"/>
<circle cx="136.5" cy="223.9" r="0.95" fill="#c8001e"/>
<circle cx="138.9" cy="216.3" r="0.88" fill="#c8001e"/>
<circle cx="138.7" cy="214.4" r="1.26" fill="#c8001e"/>
<circle cx="140.8" cy="215.9" r="1.31" fill="#c8001e"/>
<circle cx="135.9" cy="217.2" r="1.44" fill="#c8001e"/>
<circle cx="136.6" cy="219.3" r="1.44" fill="#c8001e"/>
<circle cx="150.1" cy="215.9" r="0.95" fill="#c8001e"/>
<circle cx="148.4" cy="218.5" r="1.56" fill="#c8001e"/>
<circle cx="138.2" cy="225.4" r="1.10" fill="#c8001e"/>
<circle cx="138.5" cy="219.4" r="0.73" fill="#c8001e"/>
<circle cx="148.1" cy="217.1" r="1.50" fill="#c8001e"/>
<circle cx="145.8" cy="218.4" r="0.85" fill="#c8001e"/>
<circle cx="146.2" cy="216.6" r="1.47" fill="#c8001e"/>
<circle cx="107.9" cy="128.5" r="1.51" fill="#c8001e"/>
<circle cx="115.0" cy="138.9" r="1.30" fill="#c8001e"/>
<circle cx="133.6" cy="130.7" r="1.20" fill="#c8001e"/>
<circle cx="120.7" cy="111.4" r="1.03" fill="#c8001e"/>
<circle cx="142.8" cy="120.8" r="1.66" fill="#c8001e"/>
<circle cx="107.2" cy="130.5" r="1.27" fill="#c8001e"/>
<circle cx="126.0" cy="119.9" r="0.89" fill="#c8001e"/>
<circle cx="116.9" cy="117.1" r="0.96" fill="#c8001e"/>
<circle cx="136.4" cy="119.3" r="1.32" fill="#c8001e"/>
<circle cx="145.6" cy="139.0" r="1.95" fill="#c8001e"/>
<circle cx="143.3" cy="113.3" r="1.16" fill="#c8001e"/>
<circle cx="103.4" cy="135.2" r="1.66" fill="#c8001e"/>
<circle cx="118.9" cy="124.5" r="1.66" fill="#c8001e"/>
<circle cx="135.6" cy="117.9" r="1.90" fill="#c8001e"/>
<circle cx="118.9" cy="133.2" r="1.04" fill="#c8001e"/>
<circle cx="107.5" cy="144.5" r="1.75" fill="#c8001e"/>
<circle cx="136.2" cy="109.6" r="0.85" fill="#c8001e"/>
<circle cx="109.8" cy="115.9" r="1.19" fill="#c8001e"/>
<circle cx="120.3" cy="109.6" r="1.20" fill="#c8001e"/>
<circle cx="132.6" cy="115.2" r="1.89" fill="#c8001e"/>
<circle cx="129.4" cy="136.7" r="1.13" fill="#c8001e"/>
<circle cx="122.9" cy="135.4" r="1.25" fill="#c8001e"/>
<circle cx="102.0" cy="141.4" r="1.81" fill="#c8001e"/>
<circle cx="115.7" cy="109.7" r="1.91" fill="#c8001e"/>
<circle cx="131.2" cy="109.9" r="1.12" fill="#c8001e"/>
<circle cx="107.3" cy="139.7" r="1.07" fill="#c8001e"/>
<circle cx="145.9" cy="138.0" r="0.91" fill="#c8001e"/>
<circle cx="135.3" cy="123.7" r="1.77" fill="#c8001e"/>
<circle cx="141.8" cy="119.2" r="0.92" fill="#c8001e"/>
<circle cx="147.4" cy="125.0" r="2.01" fill="#c8001e"/>
<circle cx="135.2" cy="137.5" r="1.88" fill="#c8001e"/>
<circle cx="132.1" cy="126.1" r="0.87" fill="#c8001e"/>
<circle cx="135.5" cy="125.1" r="1.47" fill="#c8001e"/>
<circle cx="146.6" cy="113.1" r="1.79" fill="#c8001e"/>
<circle cx="104.1" cy="136.1" r="1.85" fill="#c8001e"/>
<circle cx="114.5" cy="129.9" r="2.06" fill="#c8001e"/>
<circle cx="132.6" cy="129.8" r="1.12" fill="#c8001e"/>
<circle cx="104.9" cy="122.3" r="1.34" fill="#c8001e"/>
<circle cx="111.7" cy="120.4" r="0.98" fill="#c8001e"/>
<circle cx="135.9" cy="134.8" r="1.11" fill="#c8001e"/>
<circle cx="156.0" cy="120.6" r="0.95" fill="#c8001e"/>
<circle cx="173.4" cy="114.1" r="0.80" fill="#c8001e"/>
<circle cx="172.1" cy="105.7" r="1.06" fill="#c8001e"/>
<circle cx="158.3" cy="132.6" r="1.05" fill="#c8001e"/>
<circle cx="169.0" cy="106.8" r="1.17" fill="#c8001e"/>
<circle cx="165.0" cy="118.4" r="1.27" fill="#c8001e"/>
<circle cx="170.8" cy="104.6" r="0.79" fill="#c8001e"/>
<circle cx="159.0" cy="108.3" r="0.56" fill="#c8001e"/>
<circle cx="157.0" cy="107.9" r="1.20" fill="#c8001e"/>
<circle cx="161.2" cy="104.5" r="0.82" fill="#c8001e"/>
<circle cx="161.7" cy="114.5" r="0.67" fill="#c8001e"/>
<circle cx="151.8" cy="100.4" r="1.49" fill="#c8001e"/>
<circle cx="168.8" cy="103.4" r="1.22" fill="#c8001e"/>
<circle cx="174.5" cy="122.5" r="0.61" fill="#c8001e"/>
<circle cx="162.2" cy="117.4" r="0.69" fill="#c8001e"/>
<circle cx="163.6" cy="100.3" r="1.42" fill="#c8001e"/>
<circle cx="166.1" cy="125.1" r="1.44" fill="#c8001e"/>
<circle cx="166.3" cy="110.1" r="0.75" fill="#c8001e"/>
<circle cx="153.5" cy="101.1" r="1.27" fill="#c8001e"/>
<circle cx="171.0" cy="111.9" r="0.69" fill="#c8001e"/>
<circle cx="119.8" cy="89.2" r="0.86" fill="#c8001e"/>
<circle cx="61.1" cy="84.9" r="0.80" fill="#c8001e"/>
<circle cx="132.8" cy="52.9" r="0.41" fill="#c8001e"/>
<circle cx="143.2" cy="52.4" r="0.52" fill="#c8001e"/>
<circle cx="108.9" cy="55.8" r="0.80" fill="#c8001e"/>
<circle cx="69.9" cy="32.9" r="0.64" fill="#c8001e"/>
<circle cx="118.5" cy="87.4" r="0.72" fill="#c8001e"/>
<circle cx="153.1" cy="96.1" r="0.60" fill="#c8001e"/>
<circle cx="102.4" cy="41.0" r="0.48" fill="#c8001e"/>
<circle cx="112.6" cy="35.6" r="0.71" fill="#c8001e"/>
<circle cx="60.5" cy="61.0" r="0.88" fill="#c8001e"/>
<circle cx="51.2" cy="32.8" r="0.56" fill="#c8001e"/>
<circle cx="63.9" cy="80.6" r="0.30" fill="#c8001e"/>
<circle cx="145.1" cy="89.9" r="0.77" fill="#c8001e"/>
<circle cx="226.4" cy="81.9" r="0.63" fill="#c8001e"/>
<circle cx="231.9" cy="95.0" r="0.47" fill="#c8001e"/>
<circle cx="227.2" cy="118.3" r="0.71" fill="#c8001e"/>
<circle cx="256.0" cy="70.6" r="0.45" fill="#c8001e"/>
<circle cx="227.5" cy="108.5" r="0.47" fill="#c8001e"/>
<circle cx="212.1" cy="63.1" r="0.46" fill="#c8001e"/>
<circle cx="228.5" cy="147.3" r="0.75" fill="#c8001e"/>
<circle cx="253.7" cy="147.6" r="0.78" fill="#c8001e"/>
<circle cx="238.4" cy="132.1" r="0.33" fill="#c8001e"/>
<circle cx="241.9" cy="112.9" r="0.45" fill="#c8001e"/>
<circle cx="235.4" cy="145.5" r="0.54" fill="#c8001e"/>
<circle cx="240.1" cy="83.4" r="0.47" fill="#c8001e"/>
<circle cx="254.9" cy="57.6" r="0.39" fill="#c8001e"/>
<circle cx="242.1" cy="97.5" r="0.34" fill="#c8001e"/>
<circle cx="240.9" cy="90.3" r="0.59" fill="#c8001e"/>
<circle cx="225.8" cy="105.3" r="0.58" fill="#c8001e"/>
<circle cx="224.6" cy="65.9" r="0.39" fill="#c8001e"/>
<circle cx="255.2" cy="107.1" r="0.36" fill="#c8001e"/>
<circle cx="253.5" cy="79.1" r="0.35" fill="#c8001e"/>
<circle cx="232.9" cy="78.9" r="0.54" fill="#c8001e"/>
<circle cx="234.3" cy="76.5" r="0.59" fill="#c8001e"/>
<circle cx="207.0" cy="103.8" r="0.59" fill="#c8001e"/>
<circle cx="205.0" cy="93.8" r="0.34" fill="#c8001e"/>
<circle cx="227.3" cy="137.0" r="0.58" fill="#c8001e"/>
<circle cx="244.3" cy="126.9" r="0.36" fill="#c8001e"/>
<circle cx="261.4" cy="123.6" r="0.35" fill="#c8001e"/>
<circle cx="251.5" cy="92.2" r="0.39" fill="#c8001e"/>
<circle cx="259.5" cy="108.5" r="0.69" fill="#c8001e"/>
<circle cx="208.5" cy="128.7" r="0.33" fill="#c8001e"/>
<circle cx="214.7" cy="90.4" r="0.31" fill="#c8001e"/>
<circle cx="236.8" cy="75.2" r="0.45" fill="#c8001e"/>
<circle cx="243.9" cy="95.5" r="0.74" fill="#c8001e"/>
<circle cx="238.5" cy="137.9" r="0.58" fill="#c8001e"/>
<circle cx="256.9" cy="137.7" r="0.38" fill="#c8001e"/>
<circle cx="246.2" cy="87.4" r="0.68" fill="#c8001e"/>
<circle cx="242.2" cy="133.4" r="0.36" fill="#c8001e"/>
<circle cx="223.1" cy="125.0" r="0.77" fill="#c8001e"/>
<circle cx="244.8" cy="59.1" r="0.60" fill="#c8001e"/>
<circle cx="206.2" cy="107.1" r="0.70" fill="#c8001e"/>
<circle cx="207.0" cy="142.9" r="0.64" fill="#c8001e"/>
<circle cx="215.8" cy="73.3" r="0.52" fill="#c8001e"/>
<circle cx="252.0" cy="110.2" r="0.36" fill="#c8001e"/>
<circle cx="201.3" cy="65.5" r="0.70" fill="#c8001e"/>
<circle cx="211.5" cy="107.7" r="0.45" fill="#c8001e"/>
<circle cx="242.6" cy="91.2" r="0.37" fill="#c8001e"/>
<circle cx="254.3" cy="106.2" r="0.64" fill="#c8001e"/>
<circle cx="250.1" cy="145.1" r="0.31" fill="#c8001e"/>
<circle cx="221.2" cy="69.3" r="0.55" fill="#c8001e"/>
<circle cx="254.1" cy="131.0" r="0.32" fill="#c8001e"/>
<circle cx="211.3" cy="132.7" r="0.64" fill="#c8001e"/>
<circle cx="224.3" cy="100.2" r="0.38" fill="#c8001e"/>
<circle cx="252.4" cy="92.4" r="0.74" fill="#c8001e"/>
<circle cx="237.9" cy="62.2" r="0.46" fill="#c8001e"/>
<circle cx="213.4" cy="139.9" r="0.59" fill="#c8001e"/>
<circle cx="202.7" cy="71.1" r="0.48" fill="#c8001e"/>
<circle cx="229.0" cy="109.8" r="0.49" fill="#c8001e"/>
<circle cx="221.9" cy="55.6" r="0.59" fill="#c8001e"/>
<circle cx="220.7" cy="56.9" r="0.53" fill="#c8001e"/>
<circle cx="261.2" cy="59.3" r="0.37" fill="#c8001e"/>
<circle cx="241.6" cy="80.9" r="0.44" fill="#c8001e"/>
<circle cx="231.0" cy="79.9" r="0.58" fill="#c8001e"/>
<circle cx="232.7" cy="145.9" r="0.80" fill="#c8001e"/>
<circle cx="202.1" cy="108.3" r="0.69" fill="#c8001e"/>
<circle cx="254.1" cy="128.6" r="0.62" fill="#c8001e"/>
<circle cx="239.3" cy="89.5" r="0.44" fill="#c8001e"/>
<circle cx="249.3" cy="137.9" r="0.77" fill="#c8001e"/>
<circle cx="242.2" cy="83.9" r="0.68" fill="#c8001e"/>
<circle cx="245.9" cy="103.3" r="0.62" fill="#c8001e"/>
<circle cx="221.7" cy="107.3" r="0.50" fill="#c8001e"/>
<circle cx="203.7" cy="87.0" r="0.46" fill="#c8001e"/>
<circle cx="235.6" cy="164.3" r="0.52" fill="#c8001e"/>
<circle cx="212.5" cy="154.4" r="0.51" fill="#c8001e"/>
<circle cx="209.2" cy="145.3" r="0.82" fill="#c8001e"/>
<circle cx="219.0" cy="162.8" r="0.64" fill="#c8001e"/>
<circle cx="214.4" cy="151.8" r="0.34" fill="#c8001e"/>
<circle cx="214.3" cy="157.3" r="0.74" fill="#c8001e"/>
<circle cx="222.1" cy="182.5" r="0.50" fill="#c8001e"/>
<circle cx="233.6" cy="168.3" r="0.35" fill="#c8001e"/>
<circle cx="210.5" cy="168.2" r="0.89" fill="#c8001e"/>
<circle cx="216.1" cy="176.0" r="0.56" fill="#c8001e"/>
<circle cx="231.9" cy="147.7" r="0.59" fill="#c8001e"/>
<circle cx="232.9" cy="156.0" r="0.45" fill="#c8001e"/>
<circle cx="205.7" cy="151.6" r="0.46" fill="#c8001e"/>
<circle cx="226.8" cy="153.7" r="0.54" fill="#c8001e"/>
<circle cx="211.2" cy="169.1" r="0.82" fill="#c8001e"/>
<circle cx="225.1" cy="152.9" r="0.74" fill="#c8001e"/>
<circle cx="234.9" cy="169.0" r="0.35" fill="#c8001e"/>
<circle cx="230.1" cy="180.0" r="0.50" fill="#c8001e"/>
<circle cx="209.2" cy="152.5" r="0.62" fill="#c8001e"/>
<circle cx="232.1" cy="170.6" r="0.85" fill="#c8001e"/>
<circle cx="211.6" cy="158.1" r="0.75" fill="#c8001e"/>
<circle cx="225.1" cy="161.2" r="0.71" fill="#c8001e"/>
<circle cx="215.5" cy="147.3" r="0.55" fill="#c8001e"/>
<circle cx="206.4" cy="170.1" r="0.50" fill="#c8001e"/>
<circle cx="220.3" cy="168.9" r="0.45" fill="#c8001e"/>
<circle cx="219.4" cy="145.5" r="0.86" fill="#c8001e"/>
<circle cx="222.5" cy="184.5" r="0.33" fill="#c8001e"/>
<circle cx="224.0" cy="174.0" r="0.50" fill="#c8001e"/>
<circle cx="207.9" cy="151.2" r="0.39" fill="#c8001e"/>
<circle cx="228.8" cy="148.6" r="0.79" fill="#c8001e"/>
<circle cx="218.1" cy="166.5" r="0.65" fill="#c8001e"/>
<circle cx="222.2" cy="171.3" r="0.66" fill="#c8001e"/>
<circle cx="215.3" cy="174.6" r="0.45" fill="#c8001e"/>
<circle cx="227.1" cy="175.5" r="0.77" fill="#c8001e"/>
<circle cx="214.6" cy="175.9" r="0.89" fill="#c8001e"/>
<circle cx="189.5" cy="192.6" r="2.30" fill="#c8001e"/>
<circle cx="175.6" cy="203.2" r="2.00" fill="#c8001e"/>
<circle cx="174.7" cy="45.2" r="1.40" fill="#c8001e"/>
<path d="M74.0,20.7 L80.0,24.0 L85.0,30.7 L88.2,33.8 L89.8,44.8 L94.5,40.0 L97.6,35.4 L100.8,33.8 L107.0,33.8 L107.3,28.1 M107.0,33.8 L111.7,40.0 L119.6,46.3 L119.6,55.8 L116.4,68.3 L111.7,80.8 L110.5,86.0 L111.2,93.1 M111.2,93.1 L90.0,93.0 L88.0,88.0 L88.0,79.0 L84.0,77.0 L80.0,79.0 L78.0,86.0 L72.0,93.0 L66.5,99.6 M9.1,84.0 L20.0,87.0 L30.0,89.5 L40.5,92.4 L48.0,95.5 L54.0,97.8 L60.0,98.8 L66.5,99.6 M90.0,93.0 L91.0,101.0 L91.5,108.0 L92.0,114.0 L89.0,120.0 L86.0,123.5 M111.2,93.1 L124.3,97.2 L134.1,97.7 L155.4,98.0 L167.7,96.6 M137.2,23.1 L142.0,30.0 L148.0,38.0 L152.0,44.0 L158.0,40.0 L164.0,33.0 L166.7,33.2 M192.0,43.5 L192.3,52.7 L191.0,60.5 L185.8,65.7 L179.4,69.5 L175.5,73.4 L174.2,78.6 L175.5,83.7 L174.2,88.9 L171.6,92.8 L167.7,96.6 L163.9,100.5 L160.0,104.4 L158.0,112.0 L157.0,120.0 L154.0,128.0 L151.0,134.0 L147.0,139.0 M211.6,57.9 L207.8,65.7 L206.5,73.4 L209.0,78.6 L207.8,86.3 L205.2,94.0 L201.3,99.2 L196.1,107.0 L191.0,115.0 M222.0,56.6 L223.4,63.0 L225.9,66.0 L226.8,73.5 L225.9,79.0 L225.0,82.7 L225.0,85.4 L223.4,91.4 M220.8,94.0 L210.5,99.1 L202.7,104.3 L196.1,107.0 M244.8,65.5 L242.5,70.0 L240.7,76.0 L245.0,75.5 L250.0,75.8 L256.0,75.5 L262.0,75.5 L264.0,76.0 M240.7,76.0 L238.0,80.0 L236.0,82.5 L228.2,83.1 M236.0,82.5 L245.9,81.0 L252.0,82.0 L258.0,83.0 L263.5,83.0 M228.2,87.6 L240.0,88.0 L254.7,88.7 L264.0,87.6 M223.4,91.4 L226.0,93.1 L240.0,93.0 L248.1,93.1 L254.0,95.0 L259.2,96.4 L261.5,97.0 M248.1,93.1 L250.0,98.0 L253.0,103.0 M191.0,115.0 L192.0,125.0 L196.0,130.0 L203.0,130.0 L210.0,133.0 L218.0,131.0 L226.0,130.0 L232.0,133.0 L236.0,136.0 M100.6,140.3 L110.0,141.0 L120.0,141.0 L130.0,141.0 L140.0,140.5 L147.0,139.0 M147.0,139.0 L150.0,145.0 L153.0,150.0 L155.0,156.0 L150.0,163.0 L146.0,170.0 L142.0,178.0 L139.0,184.0 M160.0,104.4 L165.0,110.0 L172.0,113.0 L180.0,112.0 L186.0,115.0 L191.0,115.0 M155.0,156.0 L160.0,150.0 L166.0,148.0 L175.0,146.0 L185.0,145.0 L195.0,143.0 L200.0,138.0 L203.0,130.0 M155.0,156.0 L163.0,154.0 L170.0,151.0 L180.0,150.0 L190.0,150.0 L196.0,153.0 L200.0,160.0 L205.0,168.0 L200.0,176.0 L195.0,180.0 L190.0,184.0 M226.0,130.0 L225.0,140.0 L223.0,150.0 L222.0,160.0 L217.0,167.0 L210.0,170.0 L205.0,168.0 M217.0,167.0 L212.0,176.0 L205.0,180.0 L200.0,176.0 M139.0,184.0 L146.0,183.0 L155.0,184.0 L163.0,186.0 L170.0,188.0 L176.0,192.0 M137.0,208.0 L150.0,207.0 L162.0,207.0 L174.5,207.0 M131.0,220.2 L140.0,217.0 L150.0,218.0 L160.0,219.0 L167.0,222.0" fill="none" stroke="#505050" stroke-width="0.55" stroke-linejoin="round"/>
<path d="M161.5,232.0 L162.6,233.6 L159.0,238.8 L155.5,243.2 L152.8,245.6 L151.0,244.8 L153.3,241.8 L156.8,237.2 L159.8,233.0 Z" fill="#fff" stroke="#333" stroke-width="0.5"/>
</g>
<path d="M35.3,25.5 L36.6,24.4 L44.4,24.4 L46.6,23.3 L51.0,21.6 L52.7,23.3 L54.4,27.7 L57.1,29.9 L59.3,31.0 L62.1,29.9 L63.2,31.0 L65.9,28.1 L69.6,25.1 L71.8,22.2 L74.0,20.7 L73.3,19.2 L72.6,16.3 L71.1,13.3 L68.9,11.1 L68.1,8.9 L71.1,11.8 L74.8,11.1 L79.2,10.3 L83.6,8.9 L89.6,7.4 L94.0,5.2 L95.5,3.0 L99.2,2.2 L99.9,4.4 L99.2,7.4 L101.4,10.3 L102.1,13.3 L101.4,17.7 L102.1,22.2 L104.3,25.1 L107.3,28.1 L110.2,27.3 L114.7,25.1 L120.0,22.9 L124.3,21.2 L129.8,19.4 L133.5,20.3 L137.2,23.1 L142.7,20.3 L148.3,17.5 L152.0,11.1 L154.7,7.4 L156.6,8.3 L158.4,14.8 L161.2,20.3 L164.9,27.7 L166.7,33.2 L170.0,36.6 L172.3,37.5 L177.4,39.4 L184.8,41.2 L192.1,43.1 L197.7,45.8 L200.4,49.5 L202.3,52.3 L205.0,51.4 L212.4,53.2 L218.9,55.1 L221.7,56.0 L225.4,54.1 L230.9,55.1 L238.5,58.5 L243.8,62.4 L249.3,66.0 L251.0,67.4 L258.7,69.4 L262.1,71.6 L264.3,77.1 L265.4,83.8 L265.4,88.2 L263.2,92.6 L261.0,96.0 L258.7,99.3 L256.0,101.5 L253.2,104.4 L248.7,110.0 L245.4,115.5 L242.1,120.0 L239.9,124.4 L238.3,131.0 L237.6,137.7 L237.3,144.7 L236.0,149.5 L234.5,153.5 L233.5,156.5 L232.6,160.0 L231.5,163.5 L229.1,165.5 L227.8,168.9 L225.9,172.8 L223.9,176.6 L221.3,179.9 L218.8,183.1 L217.5,185.7 L213.6,186.3 L209.7,185.7 L205.8,186.3 L202.0,187.0 L198.1,188.3 L194.2,190.8 L190.3,192.8 L187.4,193.5 L183.2,195.5 L179.1,198.3 L176.6,201.6 L175.5,205.0 L174.9,208.3 L175.5,211.6 L175.5,215.5 L174.9,218.3 L173.8,220.5 L172.2,222.7 L170.5,224.9 L168.8,227.1 L167.2,229.4 L165.5,231.6 L163.5,234.0 L160.2,236.7 L157.3,240.4 L154.3,244.1 L150.6,247.8 L147.7,250.8 L145.5,253.7 L144.0,256.7 L143.0,257.4 L142.5,256.7 L141.8,253.7 L143.4,254.2 L142.3,251.1 L140.3,248.0 L136.1,245.0 L131.0,241.8 L126.8,237.7 L120.6,235.6 L116.5,233.6 L119.6,229.5 L124.6,225.0 L126.9,223.4 L129.8,221.2 L132.8,219.0 L135.7,216.8 L138.7,214.6 L140.2,212.3 L139.4,209.4 L137.2,205.7 L135.7,202.7 L136.5,199.8 L137.2,196.8 L135.7,193.9 L132.8,190.9 L130.6,188.0 L129.1,185.0 L127.3,181.7 L125.1,181.0 L120.7,180.3 L117.0,178.8 L114.8,175.8 L113.3,172.1 L113.3,167.7 L112.8,165.0 L114.0,162.5 L115.0,160.0 L115.5,157.0 L115.8,154.0 L115.5,151.0 L113.5,148.8 L111.5,146.5 L109.7,143.9 L107.3,142.8 L103.8,142.2 L100.3,141.6 L98.5,139.8 L97.9,137.4 L97.3,135.1 L96.7,131.5 L96.0,130.5 L94.3,129.9 L90.9,126.5 L85.4,124.3 L79.9,122.1 L74.3,118.8 L73.2,115.5 L68.8,113.2 L65.5,109.9 L65.5,106.6 L65.5,102.2 L64.3,98.8 L62.0,98.6 L57.0,99.7 L53.0,101.0 L48.0,103.0 L43.0,105.0 L38.8,106.7 L34.3,108.2 L32.3,106.9 L31.4,102.3 L30.5,98.6 L27.7,99.6 L20.3,100.5 L16.6,97.7 L13.9,97.7 L13.9,94.9 L11.1,90.3 L9.2,86.6 L8.3,83.9 L10.2,80.2 L12.9,74.6 L14.8,72.0 L17.5,70.3 L20.3,67.5 L24.0,65.6 L29.6,63.8 L33.2,63.8 L35.1,61.9 L36.0,56.4 L36.9,50.9 L37.9,45.3 L36.9,41.6 L34.2,38.9 L34.2,35.2 L35.1,32.4 L39.7,31.5 L39.7,29.6 L36.0,28.7 Z" fill="none" stroke="#555" stroke-width="0.7"/>
<path d="M187.4,193.5 L190.3,192.8 L194.2,190.8 L198.1,188.3 L202.0,187.0 L205.8,186.3 L209.7,185.7 L213.6,186.3" fill="none" stroke="#111" stroke-width="1.2" stroke-linejoin="round"/>
<path d="M166.7,33.2 L170.0,36.6 L172.3,37.5 L177.4,39.4 L184.8,41.2 L192.1,43.1 L197.7,45.8 L200.4,49.5 L202.3,52.3" fill="none" stroke="#111" stroke-width="1.3" stroke-linejoin="round"/>
<g clip-path="url(#br2)">
<path d="M316.3,25.5 L317.6,24.4 L325.4,24.4 L327.6,23.3 L332.0,21.6 L333.7,23.3 L335.4,27.7 L338.1,29.9 L340.3,31.0 L343.1,29.9 L344.2,31.0 L346.9,28.1 L350.6,25.1 L352.8,22.2 L355.0,20.7 L354.3,19.2 L353.6,16.3 L352.1,13.3 L349.9,11.1 L349.1,8.9 L352.1,11.8 L355.8,11.1 L360.2,10.3 L364.6,8.9 L370.6,7.4 L375.0,5.2 L376.5,3.0 L380.2,2.2 L380.9,4.4 L380.2,7.4 L382.4,10.3 L383.1,13.3 L382.4,17.7 L383.1,22.2 L385.3,25.1 L388.3,28.1 L391.2,27.3 L395.7,25.1 L401.0,22.9 L405.3,21.2 L410.8,19.4 L414.5,20.3 L418.2,23.1 L423.7,20.3 L429.3,17.5 L433.0,11.1 L435.7,7.4 L437.6,8.3 L439.4,14.8 L442.2,20.3 L445.9,27.7 L447.7,33.2 L451.0,36.6 L453.3,37.5 L458.4,39.4 L465.8,41.2 L473.1,43.1 L478.7,45.8 L481.4,49.5 L483.3,52.3 L486.0,51.4 L493.4,53.2 L499.9,55.1 L502.7,56.0 L506.4,54.1 L511.9,55.1 L519.5,58.5 L524.8,62.4 L530.3,66.0 L532.0,67.4 L539.7,69.4 L543.1,71.6 L545.3,77.1 L546.4,83.8 L546.4,88.2 L544.2,92.6 L542.0,96.0 L539.7,99.3 L537.0,101.5 L534.2,104.4 L529.7,110.0 L526.4,115.5 L523.1,120.0 L520.9,124.4 L519.3,131.0 L518.6,137.7 L518.3,144.7 L517.0,149.5 L515.5,153.5 L514.5,156.5 L513.6,160.0 L512.5,163.5 L510.1,165.5 L508.8,168.9 L506.9,172.8 L504.9,176.6 L502.3,179.9 L499.8,183.1 L498.5,185.7 L494.6,186.3 L490.7,185.7 L486.8,186.3 L483.0,187.0 L479.1,188.3 L475.2,190.8 L471.3,192.8 L468.4,193.5 L464.2,195.5 L460.1,198.3 L457.6,201.6 L456.5,205.0 L455.9,208.3 L456.5,211.6 L456.5,215.5 L455.9,218.3 L454.8,220.5 L453.2,222.7 L451.5,224.9 L449.8,227.1 L448.2,229.4 L446.5,231.6 L444.5,234.0 L441.2,236.7 L438.3,240.4 L435.3,244.1 L431.6,247.8 L428.7,250.8 L426.5,253.7 L425.0,256.7 L424.0,257.4 L423.5,256.7 L422.8,253.7 L424.4,254.2 L423.3,251.1 L421.3,248.0 L417.1,245.0 L412.0,241.8 L407.8,237.7 L401.6,235.6 L397.5,233.6 L400.6,229.5 L405.6,225.0 L407.9,223.4 L410.8,221.2 L413.8,219.0 L416.7,216.8 L419.7,214.6 L421.2,212.3 L420.4,209.4 L418.2,205.7 L416.7,202.7 L417.5,199.8 L418.2,196.8 L416.7,193.9 L413.8,190.9 L411.6,188.0 L410.1,185.0 L408.3,181.7 L406.1,181.0 L401.7,180.3 L398.0,178.8 L395.8,175.8 L394.3,172.1 L394.3,167.7 L393.8,165.0 L395.0,162.5 L396.0,160.0 L396.5,157.0 L396.8,154.0 L396.5,151.0 L394.5,148.8 L392.5,146.5 L390.7,143.9 L388.3,142.8 L384.8,142.2 L381.3,141.6 L379.5,139.8 L378.9,137.4 L378.3,135.1 L377.7,131.5 L377.0,130.5 L375.3,129.9 L371.9,126.5 L366.4,124.3 L360.9,122.1 L355.3,118.8 L354.2,115.5 L349.8,113.2 L346.5,109.9 L346.5,106.6 L346.5,102.2 L345.3,98.8 L343.0,98.6 L338.0,99.7 L334.0,101.0 L329.0,103.0 L324.0,105.0 L319.8,106.7 L315.3,108.2 L313.3,106.9 L312.4,102.3 L311.5,98.6 L308.7,99.6 L301.3,100.5 L297.6,97.7 L294.9,97.7 L294.9,94.9 L292.1,90.3 L290.2,86.6 L289.3,83.9 L291.2,80.2 L293.9,74.6 L295.8,72.0 L298.5,70.3 L301.3,67.5 L305.0,65.6 L310.6,63.8 L314.2,63.8 L316.1,61.9 L317.0,56.4 L317.9,50.9 L318.9,45.3 L317.9,41.6 L315.2,38.9 L315.2,35.2 L316.1,32.4 L320.7,31.5 L320.7,29.6 L317.0,28.7 Z" fill="#0890cc"/>
<path fill-rule="evenodd" d="M381.9,4.3L381.1,1.7L380.2,1.2L376.0,2.1L373.7,4.7L383.7,11.4L383.3,9.8L381.3,7.2ZM331.9,20.6L325.2,23.4L317.3,23.4L315.4,25.0L316.2,29.3L319.7,30.7L315.5,31.6L314.2,35.1L314.3,39.3L317.0,42.1L317.9,45.3L315.2,61.4L313.8,62.8L310.4,62.8L304.5,64.7L300.8,66.7L297.9,69.5L295.1,71.3L293.0,74.1L288.3,83.7L289.3,87.0L291.3,91.0L292.1,87.1L290.7,83.8L295.2,81.0L298.1,81.4L298.9,84.5L303.1,81.3L304.8,81.0L306.9,79.0L311.4,81.2L312.3,83.9L319.9,86.4L322.2,85.7L323.8,88.8L329.8,87.7L330.1,85.1L329.2,80.0L334.6,79.8L337.4,81.2L338.9,80.1L345.1,80.5L345.7,84.2L348.1,84.4L352.0,83.4L350.9,75.2L351.7,73.2L360.9,74.8L361.5,73.7L373.8,69.6L375.4,72.4L385.8,68.4L387.0,74.7L393.8,70.2L400.6,73.6L402.9,73.4L406.4,70.4L408.2,70.2L412.3,67.9L414.2,56.0L418.4,53.9L419.0,47.9L415.9,45.8L415.7,39.8L417.2,36.4L411.9,31.6L409.6,33.4L408.2,38.5L409.4,40.1L410.2,43.4L414.2,45.8L409.3,50.7L410.3,54.0L406.3,55.7L401.8,55.6L398.0,51.2L398.0,42.8L395.9,41.4L394.0,41.6L387.2,52.2L383.1,49.7L379.3,46.0L379.0,40.6L371.9,36.0L371.2,34.8L355.2,30.1L349.2,25.0L344.2,29.6L343.0,28.9L340.3,29.9L336.2,27.1L334.5,22.8ZM352.8,86.7L352.3,89.1L355.2,90.6L358.2,88.9L358.3,88.5ZM294.1,98.3L295.3,98.7L295.7,97.7L294.8,93.5L292.3,92.5L293.9,95.2ZM417.3,202.2L416.5,204.6L418.4,207.9L421.9,208.0L422.6,206.1L424.2,204.9L426.6,207.1L425.3,209.0L424.0,208.9L422.9,211.1L422.0,211.4L420.8,215.0L421.2,215.5L421.1,217.1L424.0,219.5L423.3,220.9L421.4,220.7L416.4,216.8L415.7,219.5L413.5,219.7L412.8,220.3L412.3,218.9L410.4,220.2L412.7,220.6L413.9,222.0L414.4,222.1L416.2,220.8L418.0,221.3L418.3,223.4L417.3,225.2L417.6,225.6L421.2,227.0L422.3,226.1L425.8,229.8L427.2,229.3L427.7,227.1L429.8,226.8L431.0,228.3L433.0,228.2L434.1,227.1L435.2,227.4L437.7,229.5L441.7,227.5L443.4,224.6L444.5,225.0L445.9,224.5L447.1,225.1L448.4,223.1L446.4,223.4L445.3,222.0L444.6,218.7L447.8,218.4L448.6,223.0L450.9,224.1L451.2,227.0L455.6,221.1L456.9,218.6L457.5,214.1L455.2,212.6L455.6,210.5L457.3,210.6L456.8,207.2L457.1,204.8L457.6,204.9L459.2,201.1L458.3,200.8L456.9,198.2L457.5,197.2L456.3,193.6L454.1,194.5L456.0,198.1L453.2,200.4L451.6,200.0L450.9,199.2L453.3,197.3L451.5,196.3L452.0,193.7L452.8,193.4L453.2,192.1L455.9,190.0L455.0,185.1L455.7,184.8L457.7,186.7L456.9,189.9L460.4,191.9L459.6,194.9L462.4,196.0L465.3,191.1L468.4,191.7L469.1,193.1L469.0,194.4L471.8,193.7L479.5,189.2L486.5,187.4L486.5,186.7L484.9,185.7L486.6,182.6L486.2,180.2L484.1,179.1L483.4,177.3L480.3,177.7L480.3,174.7L482.9,175.4L483.4,172.6L485.1,172.2L486.0,171.3L487.6,175.6L487.7,178.4L489.9,178.4L491.2,180.9L490.1,181.7L489.2,181.7L489.3,184.3L488.6,184.8L488.5,187.0L490.7,186.7L494.7,187.3L499.2,186.4L500.6,183.6L505.8,177.1L510.9,166.1L513.4,163.9L516.1,154.9L514.3,155.3L513.3,150.2L516.9,152.5L519.3,144.9L520.3,131.2L521.8,124.7L524.0,120.5L529.0,113.2L528.4,113.3L527.0,111.8L526.6,110.6L525.9,110.7L524.8,109.4L527.9,108.0L525.3,107.3L524.3,109.0L522.5,109.3L522.4,106.7L521.7,106.1L521.8,104.1L522.1,103.8L523.7,104.6L523.5,105.9L522.9,106.6L525.3,107.2L525.4,105.5L526.1,104.0L526.5,104.3L528.3,108.1L530.5,110.7L534.9,105.1L533.7,102.2L533.1,102.0L533.5,99.5L536.1,99.0L537.0,99.6L535.3,102.3L536.6,103.4L540.5,99.9L545.0,93.1L546.7,89.9L546.2,90.3L544.0,88.5L547.4,86.9L547.4,83.6L546.3,76.9L545.4,74.7L544.5,75.6L542.7,75.3L542.1,79.7L539.9,78.8L537.8,79.5L537.0,77.9L538.3,76.6L537.6,76.0L537.4,74.3L538.1,73.8L540.4,75.7L540.8,75.4L539.8,72.5L540.6,72.0L542.8,72.2L544.8,73.2L543.8,70.9L540.2,68.5L537.9,67.9L537.9,68.5L539.2,69.5L538.7,70.9L539.3,72.4L538.5,72.9L536.9,72.2L537.1,70.7L535.2,69.9L533.4,72.7L532.0,70.3L532.7,69.0L534.2,69.2L534.6,67.0L532.5,66.5L525.3,61.5L524.9,63.6L523.7,63.9L523.3,66.0L525.7,67.6L526.4,67.1L528.0,69.8L526.9,71.5L530.4,72.9L529.0,74.3L530.0,75.8L527.9,76.7L527.4,76.4L527.8,74.3L526.0,72.7L523.2,73.7L522.3,72.4L522.2,70.2L519.5,69.0L521.6,67.2L519.8,64.6L521.4,63.2L521.3,60.2L520.0,59.4L519.9,57.6L517.8,57.0L518.7,59.8L516.2,60.8L516.7,62.2L515.8,63.7L513.0,63.6L513.3,61.2L514.8,59.7L514.6,58.5L516.4,56.8L516.5,56.1L512.2,54.1L506.5,53.1L502.6,54.9L489.0,51.1L489.3,54.6L488.4,55.7L489.6,59.3L488.5,60.4L487.4,60.3L484.6,61.4L483.9,61.2L483.8,64.3L486.2,65.1L484.9,66.7L483.6,70.0L481.3,68.8L479.7,65.2L479.0,65.1L474.8,68.2L474.7,68.8L473.2,69.5L473.7,74.2L472.6,76.2L471.6,73.1L472.5,70.4L469.0,73.3L468.1,73.4L468.8,71.4L470.7,69.2L469.4,68.2L466.5,68.7L466.6,69.8L465.7,72.4L464.7,72.6L463.5,73.6L462.3,73.1L460.0,73.5L459.0,73.0L456.6,74.4L455.8,77.0L458.4,82.1L457.2,85.9L454.8,86.3L457.0,89.2L456.0,90.8L454.0,90.7L453.9,95.6L454.5,97.1L456.4,96.8L462.0,92.9L462.3,90.0L466.0,89.2L467.2,91.4L468.8,92.6L469.6,92.3L472.0,93.1L473.5,92.1L478.2,91.8L478.0,94.4L479.6,96.4L479.7,97.8L481.5,99.9L481.1,101.1L483.5,102.2L481.1,104.3L480.8,108.1L479.7,109.5L481.2,111.3L485.1,111.3L486.2,114.1L486.0,114.6L484.0,115.2L482.9,117.5L484.2,118.8L482.9,119.9L482.5,120.9L483.7,123.1L482.4,124.0L481.8,126.3L480.7,127.3L481.9,129.7L482.6,132.9L481.9,134.2L482.8,136.0L481.2,137.9L478.7,138.6L478.6,141.1L477.9,142.3L479.4,146.3L478.1,149.1L474.8,149.5L476.0,152.8L474.7,155.1L470.8,154.8L471.0,156.9L469.5,157.6L470.3,159.4L470.0,160.8L471.5,161.9L471.8,164.0L471.3,164.7L473.1,167.2L471.4,169.3L470.0,169.2L469.4,172.0L470.6,172.2L471.2,176.4L468.4,176.8L467.9,176.0L468.6,174.1L467.8,172.7L468.1,172.2L468.1,169.7L467.1,169.4L466.8,168.8L468.5,165.3L467.8,161.7L466.0,162.2L464.6,159.6L463.3,160.1L460.5,162.5L460.4,163.1L456.4,163.8L452.3,161.5L452.3,160.9L450.0,161.0L447.8,161.8L446.1,163.2L441.9,163.1L441.9,165.0L440.7,166.0L438.7,165.9L438.2,166.8L441.4,169.1L440.8,170.8L439.1,170.2L437.6,170.7L438.0,173.4L437.6,173.8L435.8,173.7L434.9,176.5L433.0,176.5L431.6,177.4L429.0,177.6L429.6,180.0L429.4,182.1L432.6,185.1L434.3,185.4L435.1,187.1L433.7,187.9L432.3,187.3L431.0,188.1L430.8,189.0L431.9,190.9L432.8,190.2L435.5,189.6L438.7,190.8L440.0,192.3L442.0,192.3L443.5,194.1L446.6,195.4L447.2,197.2L445.4,198.7L445.4,201.7L444.8,202.8L443.7,200.6L442.9,200.7L442.6,201.4L439.0,200.4L439.0,198.9L438.1,198.1L434.3,198.3L434.5,193.5L431.7,192.6L430.4,193.4L429.9,195.7L430.7,197.1L428.5,199.7L426.8,198.8L426.4,197.9L427.9,196.3L425.5,194.5L421.6,199.9L421.5,202.6L420.0,205.2L418.9,202.6ZM481.3,169.4L482.5,167.7L486.0,167.4L488.2,169.1L486.3,170.7ZM483.7,163.9L483.6,165.1L481.7,165.2L481.4,160.5L483.5,160.4L483.8,158.5L486.7,157.5L481.4,157.1L479.8,158.4L478.4,157.4L481.0,154.3L482.9,153.9L484.1,155.5L485.0,155.5L486.8,157.5L488.1,156.6L489.5,157.3L489.5,158.8L486.9,159.3L486.7,160.5L484.5,160.6L484.9,163.6ZM487.2,152.3L488.6,152.3L491.3,154.1L488.2,156.4ZM484.6,131.2L484.9,130.0L486.7,130.8L485.7,131.8ZM485.5,127.8L483.0,126.3L485.1,125.2L485.9,123.1L486.4,122.8L487.5,123.4L487.7,126.2L487.3,127.0ZM445.8,212.0L446.2,211.1L444.1,208.9L443.2,210.4L440.5,207.8L442.1,206.5L442.2,205.9L445.2,204.1L446.7,204.9L447.5,206.6L447.3,207.5L451.3,209.1L452.6,211.0L451.4,211.9L450.6,210.0L449.7,210.3L449.0,212.7L450.8,212.9L449.2,217.5L454.5,218.6L453.9,220.2L450.7,220.1L448.4,218.1L448.2,216.0L446.1,214.5L446.7,212.9L445.9,212.2L444.3,214.6L442.8,211.5ZM447.0,201.4L448.0,197.7L450.1,202.1L449.9,202.5L448.2,203.1ZM459.4,186.4L461.9,185.9L461.8,189.4L459.7,188.4ZM455.8,177.4L458.6,175.0L459.5,175.1L458.8,179.1L457.2,179.7L455.6,178.0ZM455.5,172.1L457.1,171.3L456.9,169.6L457.5,168.4L460.5,167.2L460.6,163.4L464.6,163.7L466.8,165.2L465.0,167.1L463.9,169.6L465.6,170.7L464.5,172.9L462.5,173.5L461.5,170.2L458.9,171.5L457.1,171.3L457.9,174.3L455.3,173.5ZM427.4,211.1L428.1,209.6L427.8,207.6L430.2,207.0L432.1,210.6L433.2,209.7L437.1,211.0L436.9,211.7L431.7,214.2L431.3,214.9L429.9,213.7L429.7,212.3L427.6,212.1L427.4,212.6L428.6,214.1L427.1,217.4L426.8,217.3L426.9,212.9L425.3,213.0L424.9,211.1L425.5,210.5ZM443.9,186.4L446.8,182.9L448.2,182.9L450.5,176.7L453.1,177.6L453.4,178.3L452.9,179.1L450.6,179.3L451.5,182.2L449.1,183.8L451.9,185.2L451.0,187.6L450.5,187.8L448.6,185.7L447.7,186.9L447.8,189.7L444.1,189.3ZM442.4,171.7L445.3,171.5L445.8,168.9L443.9,168.1L444.5,166.0L445.8,164.2L446.8,168.6L449.0,170.8L445.7,172.1L445.8,174.8L445.2,175.3L443.3,174.2ZM436.5,181.5L435.8,180.6L436.2,179.3L438.8,177.6L439.2,177.7L439.4,180.2L439.9,180.5L439.4,182.0ZM437.8,186.1L436.5,184.4L434.4,185.2L436.6,182.2L438.8,184.0L439.7,183.7L440.7,185.9L438.2,185.7ZM438.4,219.4L438.3,220.0L434.8,220.7L435.3,223.9L434.5,225.4L432.1,223.1L433.0,221.2L431.3,220.5L430.1,221.2L427.8,220.7L427.3,217.5L430.7,217.0L434.5,218.7L435.6,216.7ZM440.4,217.5L439.5,218.8L438.5,219.3L438.7,216.4L436.7,216.5L438.6,213.6L439.8,215.4ZM436.7,206.7L432.5,204.8L432.1,202.1L437.9,201.8ZM446.7,177.4L447.8,175.3L449.4,175.7L447.9,178.2ZM447.4,164.4L449.1,167.2L447.3,168.5ZM452.1,169.0L454.1,168.4L454.6,169.3L453.4,170.5ZM450.3,175.2L451.7,172.2L453.8,174.4L452.9,176.5L451.2,175.3ZM449.9,189.2L451.9,189.9L451.9,190.4L448.9,191.6L448.4,190.2ZM455.6,210.5L454.7,210.3L453.6,207.6L456.3,207.5ZM475.4,179.4L475.1,180.2L473.2,180.9L472.8,180.3L473.0,179.6ZM476.6,175.8L478.3,178.3L476.6,179.7L475.4,179.0ZM473.9,163.6L475.3,161.1L477.1,162.5L476.5,164.3L476.8,165.1L475.1,166.1L472.6,163.9ZM469.7,179.2L466.7,180.0L466.0,181.1L462.6,180.9L463.0,179.1L466.1,178.9L466.6,179.4L468.4,176.9ZM470.4,188.7L468.8,189.0L467.9,188.4L469.7,186.3L467.8,185.2L465.5,186.4L466.6,183.1L468.2,183.8L469.6,183.0L470.6,183.3L471.1,184.1L470.2,186.2L470.6,186.6ZM471.1,193.2L470.7,192.2L471.5,192.4ZM480.2,166.4L477.6,166.4L477.4,165.5L479.4,164.6L480.4,165.5ZM480.3,183.3L477.2,183.9L476.1,183.5L476.8,180.3L477.8,180.6L479.2,178.7L479.7,178.8L480.8,180.6ZM490.5,112.0L491.4,108.1L491.1,105.4L493.4,106.1L493.3,108.2L495.7,110.6L497.2,114.4L496.6,114.8L493.3,113.8L490.8,113.7ZM491.5,95.9L489.5,95.7L490.8,93.6L488.5,93.7L487.9,94.7L486.5,94.8L485.3,93.0L486.1,90.9L487.1,89.9L488.5,92.0L490.3,91.8L490.6,89.8L490.0,88.0L491.8,87.3L491.5,89.8L493.0,91.0L492.1,92.9L492.5,94.2ZM493.0,77.6L491.1,81.2L488.0,81.3L487.3,82.1L485.4,80.5L485.1,79.7L481.1,77.6L486.2,74.7L488.0,77.5L488.9,77.4L490.1,76.2ZM490.1,76.1L487.8,73.5L488.9,72.2L487.2,69.7L487.4,69.3L490.9,68.5L492.5,66.9L493.9,68.7L493.6,71.4L498.0,69.6L496.7,73.2L493.4,71.6L491.6,72.5L491.5,73.9ZM476.1,69.9L480.2,69.4L480.2,72.9L476.5,71.1ZM486.7,102.1L490.1,103.8L490.2,104.9L488.5,106.8L486.7,106.0L485.5,104.2L485.6,103.2ZM505.8,161.1L510.0,159.0L507.2,156.5L508.2,155.5L510.4,158.8L511.5,158.4L513.2,160.2L513.1,160.8L512.2,162.9L510.8,163.7L509.3,163.0L507.3,163.8ZM502.2,157.3L500.8,153.4L500.7,150.3L501.3,150.0L503.5,151.0L504.5,149.9L504.4,147.9L506.9,148.8L506.7,149.7L508.4,153.0L505.3,154.4L506.0,157.9L505.0,159.7ZM502.4,127.0L500.1,128.5L497.9,126.9L498.3,124.6L497.9,124.2L499.5,121.2L501.2,121.8L501.1,119.4L502.3,119.1L503.2,118.0L502.9,116.8L503.8,116.1L505.0,116.9L504.1,118.1L504.8,119.3L506.1,118.7L506.7,121.2L508.0,120.4L508.5,123.2L505.9,123.7L505.1,122.5L505.9,121.6L504.7,119.4L503.5,120.1L503.3,122.2L501.5,122.3L500.5,123.8L502.5,125.8L503.5,125.1L505.6,125.3L505.6,127.0L504.9,127.4ZM506.6,117.0L505.8,115.2L506.5,113.3L509.0,114.1L507.8,110.1L511.0,110.9L511.0,113.5L508.7,116.2L510.0,119.7L508.8,119.7L506.7,118.1ZM503.8,112.3L501.5,110.6L502.6,108.0L504.0,106.9L504.3,104.6L501.7,103.3L501.0,102.4L500.6,100.8L498.6,100.3L497.9,104.3L499.4,104.4L499.7,106.4L496.5,107.5L494.0,106.1L495.3,104.9L497.0,106.1L497.4,104.3L495.6,102.4L498.5,100.3L497.0,97.8L495.3,96.0L495.0,94.8L496.8,92.3L499.8,94.0L502.2,98.7L504.1,97.7L506.8,98.9L507.1,99.6L505.2,100.8L505.1,102.0L505.5,103.4L506.6,103.9L507.0,105.7L509.0,106.0L507.4,108.7L507.5,110.0L505.6,111.6ZM504.5,94.1L506.8,92.2L506.9,90.2L510.3,90.8L511.1,92.9L509.6,94.3L509.4,95.2L511.6,97.2L513.0,97.6L513.2,93.9L514.8,94.2L516.3,93.8L516.5,95.1L515.9,98.3L515.1,98.3L514.0,101.8L515.8,102.7L514.9,103.9L514.1,103.8L513.5,102.2L512.4,102.4L512.4,99.4L509.5,101.1L509.1,100.7L509.4,99.1L508.2,96.2L505.1,95.6ZM502.2,78.1L504.4,76.7L506.0,77.4L505.9,77.9L503.4,79.1ZM514.5,75.6L515.3,73.4L518.1,73.4L518.6,74.6L519.7,75.5L522.1,75.0L522.4,77.6L523.0,78.8L521.1,80.8L520.0,81.1L519.0,80.5L517.7,78.6L516.2,77.8L515.9,76.9ZM511.8,72.1L510.6,70.0L510.9,69.4L512.7,68.7L512.8,67.9L515.5,66.3L516.3,69.4L515.2,72.7L513.5,71.3ZM488.7,170.3L493.2,171.9L494.0,171.5L493.8,170.4L494.3,168.7L492.1,168.1L492.6,166.1L495.0,165.5L495.5,166.9L495.3,167.8L496.9,169.5L499.2,169.8L497.7,172.5L495.6,172.9L495.1,173.7L492.8,175.0L491.0,173.9L490.0,173.9ZM494.9,160.3L495.8,161.6L495.5,162.3L493.3,162.3L494.1,160.4ZM498.2,159.3L499.4,162.8L502.1,162.3L501.7,166.3L500.2,166.8L499.4,166.2L498.9,163.2L496.5,164.2L496.4,161.7ZM494.9,155.5L495.2,154.0L495.8,153.6L497.3,154.1L499.3,157.0L498.3,158.0L496.1,155.6ZM495.7,152.3L494.6,152.9L493.1,152.4L493.6,151.5L495.6,151.9L496.2,150.9L498.3,150.5L498.1,152.1L497.4,152.8L496.1,152.8ZM499.3,142.2L501.1,146.1L498.4,145.8L497.5,143.6ZM502.0,131.0L502.2,132.4L500.4,134.4L499.3,133.8L501.1,130.5ZM500.0,110.7L499.2,110.9L498.9,110.0L500.6,108.7ZM494.8,85.2L495.5,83.3L497.1,83.1L498.6,82.1L497.5,79.8L499.1,80.0L500.3,83.3L498.9,84.5L498.0,84.2L496.0,85.8L497.5,88.1L496.9,88.9L494.6,88.8L493.5,85.6ZM497.2,73.9L500.4,72.9L501.0,73.3L500.2,75.5L498.1,75.3ZM495.5,63.6L494.4,62.2L496.5,58.7L498.0,59.1L498.6,60.4L500.4,61.1L502.4,60.4L501.6,55.9L501.9,55.4L505.4,58.2L504.5,59.4L502.4,60.4L503.8,62.2L501.8,62.5L502.0,63.9L501.2,65.0L499.7,64.8L497.7,63.2ZM491.5,154.2L493.8,155.6L493.9,157.4L493.3,158.1L491.7,158.4L491.4,157.7L490.0,157.3ZM489.7,138.1L488.8,140.8L486.9,136.6L489.2,135.8L489.7,133.5L488.6,133.1L488.0,130.5L489.4,129.1L490.5,128.7L490.2,133.4L491.1,133.6L491.6,136.2L491.4,137.0L489.3,136.1L489.0,137.6ZM492.9,133.3L491.1,133.6L492.2,129.2L492.9,129.3L493.9,132.4ZM494.1,118.0L496.1,116.3L497.4,119.5L495.4,121.9L493.4,120.0L491.7,122.1L490.2,121.7L490.7,119.5L493.2,119.7ZM491.2,117.6L491.6,116.0L492.5,117.1ZM494.7,77.4L495.8,75.9L497.0,75.5L496.1,78.3ZM499.4,137.4L496.2,138.0L497.7,135.9ZM494.6,178.9L495.2,178.7L497.1,181.4L498.4,179.5L500.8,181.4L498.2,182.9L497.1,181.8L494.7,182.4L493.9,180.6ZM503.5,176.4L502.4,178.6L500.6,178.3L500.0,177.0L500.3,176.4L502.1,175.8ZM508.2,73.8L507.7,74.1L505.4,72.3L505.4,71.4L507.0,70.1ZM506.6,67.5L505.0,66.9L504.7,65.5ZM504.7,61.6L507.4,62.0L508.4,58.8L510.8,61.9L510.1,64.9L508.8,65.3L507.4,64.0L504.2,62.2ZM504.3,67.5L505.3,68.5L502.8,69.7L501.7,68.1L501.9,67.7ZM517.9,112.2L519.1,108.4L520.3,109.4L522.1,109.8L522.5,111.6L519.9,113.4L517.8,116.2L515.7,113.4L516.2,112.1ZM510.4,105.2L510.7,104.5L512.3,104.8L513.2,105.6L515.3,105.2L516.1,105.9L516.7,105.6L516.6,102.5L517.2,101.9L518.7,102.5L519.0,103.6L519.8,103.8L520.6,106.3L519.1,106.9L519.0,108.3L517.1,108.9L515.4,107.4L514.3,107.8L511.2,107.8ZM523.3,87.6L524.2,85.0L527.0,86.1L527.2,87.7L526.1,90.5L524.4,90.2L524.4,88.2ZM528.2,80.5L530.4,82.9L530.2,84.1L529.0,84.3L528.0,81.4ZM514.1,87.9L513.7,84.4L517.9,86.1L514.5,88.0ZM523.2,84.4L523.9,82.0L524.8,82.2L525.0,83.7L524.2,84.9ZM522.1,95.3L523.5,96.2L521.0,98.0L518.1,97.8L519.4,95.1L518.4,91.3L519.7,90.3L520.5,90.8L521.7,93.0ZM528.9,69.3L528.1,66.3L529.9,66.5L530.8,67.3L530.1,69.1ZM532.3,90.2L529.8,90.3L528.6,88.6L531.7,86.4L532.5,89.7ZM533.5,84.7L536.3,84.1L536.1,81.8L538.0,82.0L539.6,85.1L538.8,86.9L540.3,88.4L538.6,92.2L537.9,92.1L536.0,94.8L535.0,94.8L533.7,92.8L536.7,91.2L536.2,88.5L537.1,87.0ZM545.0,76.7L545.7,80.2L543.0,80.7ZM533.2,105.1L532.7,105.6L531.7,105.7L530.3,104.1L532.1,102.6ZM416.3,216.8L417.9,214.9L419.0,214.7L419.1,213.7L413.4,218.1ZM414.7,222.9L413.3,226.5L416.7,225.3ZM405.0,235.4L402.6,233.2L401.0,235.4L403.2,237.2L404.7,237.7ZM409.0,239.8L411.7,240.6L409.7,237.5ZM422.8,252.7L421.8,253.5L422.0,254.9L424.1,253.5L422.6,251.2L422.1,251.1ZM438.4,7.8L436.0,6.5L435.1,6.6L432.1,10.6L428.6,16.7L424.3,18.9L425.1,20.5L423.7,25.4L425.2,27.5L427.5,29.4L428.9,33.2L435.5,37.4L432.6,45.4L435.7,49.4L433.4,56.9L439.2,62.9L444.5,56.1L447.2,57.1L450.2,56.8L451.1,56.3L452.1,53.4L449.0,48.9L448.1,49.4L442.3,46.8L442.5,41.9L439.4,36.1L441.8,33.4L448.5,32.5L446.8,27.3L440.3,14.4ZM424.8,230.1L422.3,232.6L422.0,234.3L425.7,232.3L425.7,229.9ZM426.4,242.5L425.1,239.0L421.9,237.6L421.6,238.2L423.9,242.9ZM424.4,248.4L425.3,248.8L426.5,248.6L427.0,244.7L428.7,245.0L430.9,244.4L430.8,243.4L428.4,242.1L426.8,242.8L426.9,244.6ZM432.8,248.0L434.2,246.2L433.6,245.0L431.4,245.0L430.4,248.3ZM455.0,104.8L453.4,102.4L450.0,104.1L452.2,106.7L452.7,106.8ZM451.2,156.2L451.9,156.7L454.9,154.3L451.6,154.4ZM468.2,45.9L466.2,43.0L463.7,43.8L463.7,47.2L468.1,50.6L468.7,48.6ZM476.4,61.9L475.5,60.1L473.8,59.4L469.9,60.9L474.5,66.4ZM461.2,100.4L461.8,100.3L464.0,98.3L463.6,97.8L462.1,97.5ZM460.1,121.3L462.6,124.0L464.4,122.4L465.0,117.6L468.3,117.7L471.3,119.2L475.0,116.5L471.8,114.6L470.6,114.7L468.9,116.2L467.6,111.0L463.7,112.1L463.8,115.7L464.7,117.5L462.6,118.5ZM468.4,126.0L469.3,125.0L468.0,121.7L466.5,122.5L467.4,125.1ZM467.7,131.6L470.6,133.9L471.3,133.6L468.9,129.9L467.3,130.5ZM464.6,158.0L466.0,155.7L465.9,155.7L463.3,156.4ZM476.3,44.2L476.4,43.6L471.9,41.7L473.2,44.0ZM477.1,49.9L479.8,47.4L476.3,44.2L474.3,47.4ZM477.0,104.3L480.3,103.4L480.1,101.8L478.2,100.7L475.7,101.7ZM523.1,69.2L525.9,71.7L524.8,68.4L523.3,68.7Z" fill="#0890cc"/>
<path fill-rule="evenodd" d="M361.0,9.0L352.4,10.7L349.6,8.0L348.8,8.0L348.2,8.6L349.0,11.5L351.3,13.9L352.7,16.6L353.7,20.4L352.1,21.5L349.2,25.0L353.5,29.0L354.1,29.0L361.9,19.7L367.2,18.0L376.0,20.6L383.4,17.9L384.1,13.4L383.7,11.4L373.7,4.7L370.3,6.5ZM387.2,52.2L394.0,41.6L395.9,41.4L397.0,38.2L393.6,27.9L400.2,26.2L403.0,21.1L388.6,27.0L384.9,22.9L383.9,25.0L385.0,38.5L379.0,40.6L379.3,46.0L383.1,49.7ZM406.3,55.7L410.3,54.0L409.3,50.7L408.0,49.5L411.9,44.4L410.2,43.4L409.4,40.1L408.2,38.5L399.4,43.1L398.0,42.8L398.0,51.2L401.8,55.6ZM360.9,74.8L362.4,78.8L368.3,79.7L375.6,73.2L373.8,69.6L361.5,73.7ZM387.3,86.7L388.3,89.5L394.0,89.1L393.7,85.4L394.5,84.2L393.4,78.4L386.2,77.6L384.8,78.1L384.4,86.8ZM368.7,89.9L367.9,92.8L368.6,93.1L374.6,89.9L373.9,88.6L373.8,86.3L378.9,83.7L379.4,79.6L370.3,83.0L370.4,84.6L368.5,86.8ZM323.2,94.2L331.7,89.6L332.6,90.2L335.1,88.5L333.7,85.4L330.1,85.1L329.8,87.7L323.8,88.8ZM313.6,91.6L313.6,87.9L312.4,85.6L308.3,90.4ZM385.9,93.5L386.1,92.7L382.9,87.5L381.7,87.3L381.2,89.1L382.7,93.2ZM305.9,94.3L304.0,98.1L304.6,101.1L310.0,100.2L310.4,96.7ZM353.6,101.4L355.3,111.1L359.9,109.7L356.0,100.1ZM401.8,112.5L404.6,119.6L410.0,118.7L411.3,124.5L417.6,121.8L416.0,118.9L413.1,116.7L413.6,115.6L412.9,112.6L411.2,110.4L408.7,109.8L406.7,112.1ZM373.5,120.4L375.4,119.5L371.5,110.3L366.9,117.4ZM379.6,120.7L384.1,122.8L387.7,123.5L388.8,124.4L393.8,118.4L388.7,115.0L385.8,116.4ZM379.8,131.2L383.1,131.2L383.7,130.8L389.7,129.9L389.7,127.5L389.3,127.0L384.7,127.3L384.4,127.8L380.2,129.2L383.6,126.7L380.2,123.6L379.2,130.2ZM407.4,140.2L409.2,135.6L408.4,132.2L407.1,130.1L403.7,130.7L402.5,137.8ZM397.0,133.9L390.3,131.7L388.8,134.0L390.5,137.8L392.1,139.0ZM413.9,148.4L420.1,143.3L420.0,143.1L418.2,141.8L411.5,143.7L413.3,148.0ZM410.3,158.2L412.0,158.3L413.4,156.7L413.6,153.8L410.2,153.0ZM407.6,182.5L410.5,188.0L410.7,187.7L411.7,187.9L415.1,190.3L416.3,185.7L414.0,184.3L414.3,180.9L408.4,181.0L407.1,179.8L406.6,180.5L406.8,182.3ZM413.5,218.2L413.5,219.7L415.7,219.5L416.4,216.8L419.7,219.2L421.1,217.1L421.2,215.5L419.0,214.7L417.9,214.9L416.4,216.8ZM417.3,225.2L418.3,223.4L418.0,221.3L416.2,220.8L414.4,222.1L416.7,225.3ZM412.3,225.2L411.5,223.1L408.3,221.8L407.3,222.6L408.9,224.4ZM413.1,226.6L412.8,227.0L413.6,230.0L417.5,230.6L417.2,229.9ZM396.5,233.4L397.0,234.4L399.6,235.3L399.6,233.0L397.6,231.9ZM411.5,231.5L412.7,236.0L413.1,236.1L414.9,233.7L413.1,231.3ZM405.6,238.0L407.3,238.6L408.7,240.0L409.8,236.8ZM413.5,239.7L416.5,241.3L416.7,238.5L413.8,237.3ZM412.8,240.7L411.7,240.6L410.4,241.6L413.0,243.6ZM418.3,111.5L416.7,106.5L414.4,111.2ZM432.5,112.9L431.0,114.3L432.5,116.6L435.2,115.3ZM443.2,116.3L441.8,113.9L439.2,113.3L438.4,117.8ZM424.5,122.2L424.0,122.2L419.5,116.2L418.5,117.6L423.9,122.3L422.1,122.8L419.5,126.6L420.9,133.3L423.4,132.0L426.4,124.5L424.9,122.3L427.1,118.7L427.0,115.9L423.9,113.0L421.0,113.7ZM415.6,129.0L418.6,126.8L416.6,125.7L413.8,127.0L414.1,127.8ZM441.0,133.1L437.8,133.3L436.2,139.5L439.4,139.5L442.0,135.9ZM438.4,150.5L438.4,152.6L441.5,153.4L442.0,152.5ZM430.1,148.6L429.3,149.2L428.8,154.9L429.5,155.3L432.1,154.9L433.2,151.8ZM441.9,163.1L446.4,163.0L444.0,159.2L445.6,156.1L445.6,154.7L442.6,156.0L441.5,158.0L440.5,157.9L435.8,159.0L435.8,160.5L440.3,162.7L441.4,162.7ZM439.1,170.2L437.7,167.5L438.7,165.6L435.0,161.9L434.6,164.0L437.5,167.0L434.6,167.8L435.4,170.3L436.4,170.2L437.6,170.7ZM440.8,170.8L441.4,169.1L439.6,168.0L439.3,170.2ZM429.2,186.2L430.0,186.1L431.4,184.2L429.4,182.1L427.5,183.3ZM438.2,185.7L440.7,185.9L439.7,183.7L438.8,184.0ZM435.1,187.1L434.3,185.4L432.6,185.1L432.3,187.3L433.7,187.9ZM426.5,188.0L421.3,187.3L423.9,192.0L426.9,190.4L427.7,192.0L430.4,193.4L431.7,192.6L431.9,190.9L430.8,189.0L426.9,188.8ZM419.7,192.3L416.9,191.5L418.3,194.1L419.8,192.8ZM438.2,196.8L440.0,192.3L435.6,192.8L434.5,193.5ZM427.9,196.3L426.4,197.9L426.8,198.8L428.5,199.7L430.7,197.1L429.9,195.7ZM416.8,198.3L416.1,201.1L417.3,202.2L418.9,202.6L421.2,202.2L421.6,199.9L422.8,197.9L421.8,196.9L419.9,196.8ZM437.9,201.8L432.1,202.1L432.5,204.8L436.7,206.7ZM427.6,212.1L429.7,212.3L429.9,213.7L431.3,214.9L432.2,210.9L434.9,212.9L436.9,211.7L437.1,211.0L433.2,209.7L432.1,210.6L430.2,207.0L427.8,207.6L428.1,209.6L427.4,211.1ZM421.6,209.5L419.1,209.1L419.9,211.2L421.8,211.2ZM438.5,219.3L439.5,218.8L440.4,217.5L439.7,215.7L438.7,216.4ZM435.3,223.9L434.5,218.7L430.7,217.0L430.3,217.3L431.3,220.5L433.0,221.2L432.6,222.4L434.8,224.6ZM422.4,228.2L425.8,229.7L422.3,226.1L421.2,227.2ZM429.8,226.8L427.7,227.1L427.2,229.3L429.2,230.0L431.0,228.3ZM437.9,231.2L438.6,231.7L441.3,231.4L442.3,230.5L444.2,230.8L444.8,230.5L445.2,228.0L445.6,227.6L447.7,227.7L448.2,228.2L448.0,229.5L444.9,230.5L447.1,232.4L451.2,227.0L450.9,224.1L448.6,223.0L447.9,220.8L446.3,222.9L446.4,223.4L448.4,223.1L447.1,225.1L445.9,224.5L444.5,225.0L443.4,224.6L441.7,227.5L437.7,229.5ZM423.9,242.9L424.1,245.3L426.9,244.6L426.8,242.8L428.4,242.1L428.6,239.2L431.1,238.3L431.4,236.3L434.1,237.8L434.7,235.3L431.4,235.5L429.7,233.9L427.6,233.8L425.9,235.7L427.9,237.0L427.6,238.6L425.1,239.0L426.4,242.5ZM436.3,244.5L437.8,242.6L435.1,242.3L434.9,243.0ZM422.6,245.7L422.2,243.6L420.3,244.4L419.5,243.4L417.9,243.6L417.9,246.8L420.0,246.1L420.4,245.5ZM424.1,253.5L427.1,254.7L427.0,251.8L427.4,251.6L427.0,248.7L425.3,248.8L423.7,247.9L421.3,248.5L420.8,249.1ZM425.2,257.7L424.8,258.1L425.3,257.7ZM451.2,38.4L445.1,42.3L449.9,47.7L452.3,41.1ZM454.1,48.4L458.2,51.0L458.9,50.7L459.2,48.1L464.0,43.4L461.1,39.8L457.2,43.7L457.5,44.3ZM455.6,58.3L457.0,56.4L456.6,54.4L452.1,53.4L451.1,56.3ZM449.4,60.9L452.5,61.2L450.2,56.8L447.2,57.1ZM454.5,97.1L453.8,97.8L453.7,99.7L449.5,101.5L450.2,103.7L453.4,102.4L453.9,100.5L457.7,102.2L457.3,105.1L458.0,106.3L457.4,107.2L455.6,107.9L453.2,107.5L452.2,106.7L449.1,109.7L445.6,110.6L445.3,111.8L448.7,116.2L451.2,116.2L455.0,112.1L456.3,111.7L457.1,112.2L460.3,112.7L462.9,111.4L463.5,109.3L463.5,107.1L459.8,107.7L458.9,106.6L461.8,104.8L461.9,102.7L461.2,100.4L462.1,97.5L463.6,97.8L463.4,94.4L466.6,97.7L466.7,98.9L464.5,101.0L464.3,102.8L468.6,102.4L469.3,104.2L468.9,105.7L473.5,108.5L475.8,108.1L472.8,103.6L474.9,101.5L474.4,97.2L472.0,96.7L470.7,97.5L468.0,94.1L468.8,92.6L467.2,91.4L464.0,93.7L462.0,92.9L456.4,96.8ZM447.5,128.6L449.4,128.4L451.1,129.3L451.0,130.8L454.2,131.2L455.1,129.8L453.9,128.0L451.0,125.4L448.2,125.5L446.3,126.5ZM441.8,129.9L441.5,132.4L447.5,133.1L447.0,130.8ZM449.6,139.2L453.0,135.3L452.1,133.7L449.8,133.1L448.0,133.4L448.9,138.1L444.6,137.4L444.1,141.5L449.8,140.7ZM455.3,150.0L452.4,150.0L451.1,152.3L451.6,153.1L456.1,152.6ZM453.8,158.8L455.2,158.0L456.7,158.0L457.5,154.1L456.4,152.8L451.9,156.7ZM450.0,161.0L450.1,159.2L449.5,158.3L448.7,161.5ZM445.7,172.1L449.0,170.8L446.8,168.6L445.8,164.2L444.5,166.0L443.9,168.1L445.8,168.9L445.3,171.5ZM451.7,172.2L450.3,174.9L450.3,175.2L451.2,175.3L453.2,174.1ZM445.8,174.8L445.6,172.4L443.3,174.2L445.2,175.3ZM446.7,177.4L447.9,178.2L449.4,175.7L447.8,175.3ZM446.8,182.9L443.9,186.4L444.1,189.3L447.4,189.8L447.8,189.7L447.7,186.9L448.6,185.7L450.5,187.8L451.0,187.6L451.9,185.2L449.1,183.8L451.5,182.2L450.6,179.3L452.9,179.1L453.4,178.3L453.1,177.6L450.5,176.7L448.2,182.9ZM455.9,190.0L457.2,189.5L457.7,186.7L455.7,184.8L455.0,185.1ZM451.9,189.9L449.9,189.2L448.4,190.2L448.9,191.6L451.9,190.4ZM453.1,193.6L454.1,194.5L456.3,193.6L457.5,197.2L456.9,198.2L457.4,198.9L463.2,197.4L462.4,196.0L459.6,194.9L459.6,194.1L456.5,192.6ZM451.6,200.0L453.2,200.4L456.0,198.1L453.3,197.3L450.9,199.2ZM445.4,198.7L442.5,198.7L442.9,200.7L443.7,200.6L444.8,202.8L445.4,201.7ZM447.0,201.4L448.2,203.1L449.0,202.8L447.8,199.4ZM443.2,210.4L444.1,208.9L446.2,211.1L445.9,212.2L448.2,213.5L449.0,212.7L447.3,210.0L447.5,206.6L446.7,204.9L445.2,204.1L442.2,205.9L442.1,206.5L440.5,207.8ZM456.3,207.5L453.6,207.6L454.7,210.3L455.6,210.5ZM457.5,214.1L457.3,210.6L455.6,210.5L455.2,212.6ZM439.7,240.3L441.9,237.4L445.9,233.9L444.4,233.5L443.9,235.0L442.1,234.3L441.3,235.6L442.0,236.7L439.3,239.4ZM472.6,43.2L471.9,41.7L468.0,40.7L466.2,43.0L468.2,45.9L469.6,45.6ZM466.8,64.8L467.6,63.4L469.4,68.0L470.6,65.1L469.5,60.9L468.2,60.5L471.9,53.2L468.0,51.3L465.4,53.2L468.1,60.4L466.4,60.7L462.1,63.4L463.9,67.1ZM460.3,63.2L458.3,62.6L456.7,63.8L457.0,66.8L458.4,67.9L459.3,67.3ZM463.9,67.6L461.6,68.2L461.3,69.4L459.4,70.4L458.2,70.4L459.0,73.0L460.0,73.5L460.7,73.3L460.5,70.9L461.8,70.8L463.8,69.8L464.7,72.6L465.7,72.4L466.6,69.8L466.5,68.7ZM471.0,111.2L468.2,110.4L467.6,111.0L468.9,116.2L470.6,114.7ZM459.5,117.3L459.1,115.4L457.9,115.7L455.2,118.8L456.3,119.5L459.2,118.0L460.4,120.6L462.6,118.5ZM467.4,125.1L466.5,122.5L464.4,122.4L464.2,122.7ZM460.1,133.5L457.6,134.7L457.3,135.3L458.8,136.3L461.3,136.6L460.8,139.1L461.8,139.6L460.8,143.4L458.5,142.0L457.2,142.2L455.2,144.2L456.8,147.8L459.2,150.8L457.7,152.3L460.2,152.6L462.2,149.8L459.8,147.2L461.2,143.8L465.3,143.5L465.5,141.4L467.3,139.3L471.1,138.9L473.2,137.9L474.6,132.9L475.3,133.2L478.2,132.1L481.1,128.6L480.7,127.5L478.1,128.5L476.3,128.1L473.9,131.9L474.0,132.6L470.6,133.9L467.7,131.6L467.3,130.5L465.2,128.7L463.8,134.7L462.0,133.3ZM463.6,135.1L464.2,139.9L462.6,139.5L461.8,136.4ZM464.1,149.2L466.2,150.5L468.8,148.3L470.8,148.6L470.5,150.9L469.6,152.5L469.7,153.6L473.2,152.9L473.2,152.4L472.0,151.4L474.8,149.5L471.2,148.4L472.0,146.7L470.6,143.6L465.7,144.0ZM461.7,155.6L463.3,156.4L465.9,155.7L465.1,153.7L463.0,153.7L461.6,155.4L459.8,155.4L457.9,158.4L460.0,161.2ZM468.6,160.8L468.4,159.0L467.6,158.7L467.0,160.3L465.3,159.4L464.6,159.6L466.0,162.2L467.8,161.7ZM468.6,174.1L467.9,176.0L468.4,176.8L471.2,176.4L470.6,172.2L469.4,172.0L470.0,169.2L469.3,165.5L468.5,165.3L466.8,168.8L467.1,169.4L468.1,169.7L468.1,172.2L467.8,172.7ZM461.5,170.2L462.5,173.5L464.5,172.9L465.6,170.7L463.9,169.6L461.6,169.8L460.5,167.2L457.5,168.4L456.9,169.6L457.1,171.3L458.9,171.5ZM463.0,179.1L462.7,181.0L466.0,181.1L466.7,180.3L466.1,178.9ZM470.2,186.2L471.1,184.1L470.6,183.3L469.6,183.0L468.2,183.8L467.8,185.2L469.7,186.3L467.9,188.4L468.8,189.0L470.4,188.7L470.6,186.6ZM459.7,188.4L461.8,189.4L461.7,185.7L459.4,186.4ZM469.1,193.1L468.4,191.7L465.3,191.1L464.6,191.8L466.9,195.3L469.0,194.4ZM457.6,204.9L457.1,204.8L456.8,207.2L457.1,207.5ZM479.7,65.2L481.3,68.5L483.8,64.3L483.9,61.2L482.2,59.9L481.5,56.5L475.9,52.9L474.7,53.3L473.8,59.4L475.5,60.1L476.4,61.9L480.5,61.6ZM493.4,71.6L493.9,68.7L492.5,66.9L490.9,68.5L487.4,69.3L487.2,69.7L488.9,72.2L491.6,72.5ZM480.2,69.4L476.1,69.9L476.5,71.1L480.2,72.9ZM468.8,71.4L468.2,73.6L472.5,70.4L472.9,69.6L470.7,69.2ZM481.1,77.6L485.4,80.2L487.3,79.8L488.3,77.6L486.2,74.7ZM490.6,89.8L490.3,91.8L492.1,92.9L493.0,90.6ZM488.0,91.3L487.1,89.9L486.1,90.9L485.5,93.3ZM478.4,108.9L479.2,104.0L477.0,104.3L476.0,108.1ZM493.4,106.1L491.1,105.4L491.4,108.1L490.8,110.5L492.5,110.0L493.3,108.2ZM472.7,113.4L475.1,113.7L474.7,112.1L471.9,111.7ZM472.5,121.6L473.8,122.3L473.7,124.0L474.6,125.7L477.4,125.4L478.0,124.9L480.7,127.3L481.8,126.3L482.4,124.0L478.2,121.9L479.0,121.5L483.3,122.5L482.5,120.9L479.6,121.2L481.3,119.3L481.2,118.3L480.2,117.8L479.0,115.7L480.8,114.0L481.2,111.3L479.7,109.5L479.3,109.4L475.7,114.6L476.0,116.2L471.3,119.2ZM485.5,127.8L487.3,127.0L487.7,126.2L487.5,123.4L486.4,122.8L485.9,123.1L485.1,125.2ZM469.2,125.4L468.4,126.0L469.3,128.0L473.0,130.1L472.6,127.9L471.5,126.5ZM475.7,142.2L477.9,142.3L478.6,141.1L478.7,138.6L481.2,137.9L482.8,136.0L481.9,134.2L478.4,137.6L477.6,136.8L473.9,138.5ZM487.5,137.3L489.0,137.6L489.2,135.8L486.9,136.6ZM495.7,152.3L495.6,151.9L493.6,151.5L493.1,152.4L494.6,152.9ZM483.5,160.4L486.7,160.5L486.9,157.5L485.0,155.5L484.1,155.5L483.7,157.0L486.7,157.5L483.8,158.5ZM481.4,157.1L480.9,154.7L478.4,157.4L479.8,158.4ZM491.4,157.7L491.7,158.4L493.3,158.1L493.9,157.4L493.8,155.6L492.9,155.3ZM493.3,162.3L495.5,162.3L495.8,161.6L494.9,160.3L494.1,160.4ZM483.6,165.1L483.4,163.6L481.4,163.4L481.7,165.2ZM476.8,165.1L476.5,164.3L473.9,163.6L472.6,163.9L475.1,166.1ZM494.3,168.7L495.3,167.8L495.5,166.9L495.0,165.5L492.6,166.1L492.1,168.1ZM493.2,171.9L488.7,170.3L490.0,173.9L491.0,173.9ZM482.9,175.4L484.1,179.1L486.2,180.2L486.6,182.6L488.6,184.8L489.3,184.3L489.2,181.7L490.1,181.7L491.2,180.9L491.0,180.0L489.9,178.4L487.7,178.4L487.6,175.6L485.1,174.7L485.1,172.2L483.4,172.6ZM478.3,178.3L476.6,175.8L476.5,175.8L475.5,179.4L476.6,179.7ZM486.5,187.4L488.5,187.0L488.5,185.9L486.5,186.7ZM516.2,60.8L518.7,59.8L517.8,57.0L518.4,56.9L516.5,56.1L516.4,56.8L514.6,59.0ZM502.4,60.4L504.5,59.4L505.4,58.2L501.9,55.4L501.6,55.9ZM499.7,64.8L500.5,64.7L500.4,61.1L498.6,60.4L497.7,63.2ZM505.0,66.9L506.6,67.5L504.7,65.5ZM513.8,69.4L516.1,69.3L515.5,66.3L512.8,67.9L512.7,68.7ZM537.9,68.5L536.0,68.1L535.8,67.3L534.6,67.0L534.2,69.2L532.7,69.0L532.0,70.3L533.4,72.7L535.1,70.0L536.9,70.4ZM523.1,69.2L522.2,70.2L522.3,72.4L523.2,73.7L526.0,72.7L527.8,74.3L527.4,76.4L527.9,76.7L530.0,75.8L529.0,74.3L530.4,72.9L526.9,71.5L528.0,69.8L526.4,67.1L524.8,68.4L525.9,71.7ZM518.6,74.6L518.1,73.4L515.3,73.4L514.5,75.6L515.9,76.9ZM522.4,77.6L522.1,75.0L519.7,75.5L520.4,77.6L519.1,80.5L520.0,81.1L521.1,80.8L523.0,78.8ZM536.3,84.1L533.8,84.4L533.5,84.7L536.9,86.8ZM524.4,90.2L526.1,90.5L527.2,87.7L527.0,86.1L524.2,85.0L523.3,87.6L524.4,88.2ZM547.4,88.2L547.4,86.9L544.0,88.5L546.2,90.3ZM506.8,92.2L509.6,94.3L511.1,92.9L510.3,90.8L506.9,90.2ZM523.5,96.2L522.1,95.3L521.7,93.0L520.5,90.8L519.7,90.3L518.4,91.3L519.4,95.1L520.0,95.2L521.0,98.0ZM496.0,93.7L495.0,94.8L495.3,96.0L497.0,97.8L498.9,96.2ZM512.4,99.4L512.4,102.4L513.5,102.2L514.1,103.8L514.9,103.9L515.8,102.7L514.0,101.8L515.4,98.3L514.8,94.2L513.2,93.9L513.0,97.6L513.4,98.0ZM497.9,104.3L498.6,100.3L498.5,100.3L495.6,102.4L496.0,103.2ZM501.0,101.7L501.7,103.3L504.3,104.6L505.5,103.4L505.1,102.0ZM518.2,105.7L516.1,105.9L515.4,107.4L517.1,108.9L519.0,108.3L519.1,106.9ZM525.3,107.3L522.4,106.7L522.5,109.3L524.3,109.0ZM502.6,108.0L501.5,110.6L503.8,112.3L505.6,111.6L507.5,110.0L507.4,108.7L505.9,107.2L504.0,106.9ZM522.1,109.8L520.3,109.4L519.1,108.4L517.9,112.2L519.9,113.4L522.5,111.6ZM496.6,114.8L497.2,114.4L495.7,110.6L495.3,110.2L493.6,110.5L493.3,113.8ZM505.8,115.2L506.6,117.0L508.7,116.2L509.9,114.5L506.5,113.3ZM504.9,116.9L503.8,116.1L502.9,116.8L503.0,117.1ZM506.7,121.2L506.1,118.7L504.8,119.3L505.9,121.6ZM506.7,121.2L508.5,123.2L508.0,120.4ZM502.2,132.4L502.0,131.0L501.1,130.5L499.3,133.8L500.4,134.4ZM506.7,149.7L504.5,149.9L503.5,151.0L504.2,152.7L507.7,151.3ZM503.2,156.4L504.5,154.1L504.2,152.8L500.8,153.4L502.2,157.3ZM499.3,157.0L497.3,154.1L495.8,153.6L495.2,154.0L494.7,155.4L496.1,155.6L498.3,158.0ZM512.2,162.9L513.2,160.2L511.5,158.4L510.4,158.8L508.2,155.5L507.4,155.9L507.2,156.5L510.0,159.0L509.3,163.0L510.8,163.7ZM502.1,162.3L498.9,163.2L496.4,161.7L496.5,164.2L498.9,163.2L499.4,166.2L500.2,166.8L501.7,166.3Z" fill="#a2cb8c"/>
<path fill-rule="evenodd" d="M415.0,19.4L410.7,18.4L403.0,21.1L400.2,26.2L393.6,27.9L397.0,38.2L401.7,32.5L409.6,33.4L411.9,31.6L417.2,36.4L423.6,39.0L424.3,43.7L432.6,45.4L435.5,37.4L428.9,33.2L427.5,29.4L425.2,27.5L423.7,25.4L425.1,20.5L424.3,18.9L418.3,21.9ZM371.2,34.8L371.9,36.0L379.0,40.6L385.0,38.5L383.9,25.0L384.9,22.9L384.0,21.8L383.4,17.9L376.0,20.6L369.7,26.8L361.8,20.1L354.1,29.0L355.2,30.1ZM375.4,72.4L375.6,73.2L368.3,79.7L362.4,78.8L360.9,74.8L351.7,73.2L350.9,75.2L352.8,86.7L358.3,88.5L359.2,87.2L361.9,85.8L364.6,92.3L366.4,93.2L367.9,92.8L368.7,89.9L368.5,86.8L370.4,84.6L370.3,83.0L379.4,79.6L378.9,83.7L379.4,85.1L381.7,87.3L382.9,87.5L384.4,86.8L384.8,78.1L386.2,77.6L387.0,74.7L385.8,68.4ZM393.7,85.4L394.0,89.1L396.7,91.7L399.0,91.1L401.1,89.4L400.8,84.2L402.9,80.7L402.9,74.9ZM322.3,97.9L329.1,98.4L332.7,101.8L332.4,102.7L338.3,100.7L343.0,99.6L340.4,97.3L336.2,97.1L334.5,95.8L332.8,93.6L323.1,95.7ZM406.7,112.1L408.7,109.8L411.2,110.4L412.9,112.6L413.6,115.6L413.1,116.7L416.0,118.9L417.6,121.8L411.5,124.6L413.8,127.0L416.6,125.7L418.6,126.8L419.5,126.6L422.1,122.8L423.9,122.3L418.5,117.6L419.5,116.2L419.8,113.6L419.0,113.1L418.3,111.5L414.4,111.2L416.7,106.4L414.4,105.6L409.3,105.7L408.3,107.2L401.6,108.6L399.8,111.3L401.8,112.5ZM421.3,133.3L423.0,136.2L423.5,139.9L429.7,142.0L431.6,139.7L428.3,137.1L426.7,132.8L423.4,132.0ZM426.7,154.0L428.8,154.9L429.3,149.2L427.3,149.1L425.3,151.2ZM418.3,163.9L423.5,164.3L424.4,163.7L422.9,158.5L418.1,159.6L417.7,162.6ZM413.0,191.5L415.0,191.0L415.1,190.3L410.7,187.7L410.8,188.5ZM419.7,192.3L420.3,189.1L416.3,190.9L416.9,191.5ZM421.8,196.9L422.8,197.9L425.5,194.5L425.4,194.0L424.2,193.2L421.9,194.8ZM419.8,205.2L421.5,202.6L421.2,202.2L418.9,202.6ZM418.4,207.9L419.1,209.1L421.6,209.5L421.8,211.2L419.9,211.2L420.1,212.1L419.1,213.7L419.0,214.7L420.8,215.0L422.0,211.4L422.9,211.1L424.0,208.9L425.3,209.0L426.6,207.1L424.2,204.9L422.6,206.1L421.9,208.0ZM426.8,217.3L427.1,217.4L428.6,214.1L427.4,212.6L427.4,211.1L425.5,210.5L424.9,211.1L425.3,213.0L426.9,212.9ZM423.3,220.9L424.0,219.5L421.1,217.1L419.8,219.6L421.4,220.7ZM413.2,218.2L412.3,218.9L412.8,220.3L413.5,219.7ZM421.9,234.1L422.4,230.7L420.6,228.8L418.8,230.5ZM409.8,236.8L409.7,237.5L411.7,240.6L412.8,240.7L413.0,243.6L414.2,244.4L416.6,242.8L416.5,241.3L413.5,239.7L413.8,237.3L412.7,236.0L411.5,231.5L408.9,230.7L409.6,233.3L411.2,236.0ZM399.6,235.3L398.1,235.0L399.9,235.9ZM405.6,238.0L409.7,236.8L407.1,234.8L405.1,235.4L404.7,237.7ZM411.7,240.6L409.0,239.8L408.7,240.0L410.4,241.6ZM423.7,243.3L422.2,243.6L422.6,245.7L423.5,246.2L423.7,247.9L424.4,248.4L426.7,244.6L424.1,245.3ZM449.9,47.7L445.1,42.3L451.2,38.4L452.3,41.1L454.7,41.7L457.2,43.7L461.1,39.8L460.8,38.9L451.6,35.7L448.5,32.5L441.8,33.4L439.4,36.1L442.5,41.9L442.3,46.8L448.1,49.4ZM445.6,110.6L442.6,108.4L441.2,110.7L441.7,111.4L441.8,113.9L443.2,116.2L444.3,112.6L445.3,111.8ZM452.3,118.2L455.2,118.8L457.9,115.7L454.1,113.5L451.2,116.2ZM432.5,116.6L431.9,117.4L435.9,120.0L437.8,119.6L438.1,118.1L435.2,115.3ZM435.9,129.3L437.7,125.0L432.1,125.5L433.4,129.4ZM432.0,139.5L435.2,139.9L436.2,139.5L437.8,133.3L437.1,132.5L434.8,132.7L432.0,136.6ZM456.2,146.8L455.2,144.2L457.2,142.2L454.6,138.9L455.2,136.3L453.0,135.3L449.6,139.2L451.0,143.6L450.3,145.0L451.9,147.5ZM453.7,158.9L452.3,160.9L452.3,161.5L456.4,163.8L457.1,163.3ZM434.3,171.6L435.4,170.3L434.6,167.8L433.3,166.9L434.6,164.0L434.8,162.1L433.1,162.3L428.8,166.2L430.6,167.9L430.9,171.3ZM449.1,167.2L447.4,164.4L447.3,168.5ZM454.6,169.3L454.1,168.4L452.1,169.0L453.4,170.5ZM445.6,172.4L445.3,171.5L442.4,171.7L443.3,174.2ZM453.8,174.4L453.2,174.1L451.2,175.3L452.9,176.5ZM439.9,180.5L439.4,180.2L439.2,177.7L438.8,177.6L436.2,179.3L435.8,180.6L436.5,181.5L439.4,182.0ZM438.8,184.0L436.6,182.2L434.4,185.2L436.5,184.4L437.8,186.1ZM431.4,184.2L430.0,186.1L431.0,188.1L432.3,187.3L432.6,185.1ZM435.5,189.6L432.8,190.2L431.9,190.9L431.7,192.6L434.5,193.5L435.6,192.8L439.5,192.1L438.7,190.8ZM452.8,193.4L452.0,193.7L451.5,196.3L453.3,197.3L455.9,198.0L454.1,194.5L453.1,193.6L456.5,192.6L459.6,194.1L460.4,191.9L456.9,189.9L455.8,190.0L453.2,192.1ZM434.5,193.6L434.3,198.3L438.1,198.1L439.0,198.9L439.0,200.4L442.6,201.4L442.9,200.7L442.5,198.7L445.4,198.7L447.2,197.2L446.6,195.4L443.5,194.1L442.0,192.3L440.0,192.3L438.2,196.8ZM450.1,202.1L448.2,197.8L448.0,197.7L447.8,199.4L449.0,202.8ZM450.6,210.0L451.4,211.9L452.6,211.0L451.3,209.1L447.3,207.5L447.3,210.0L449.0,212.7L449.7,210.3ZM432.2,210.9L431.7,214.2L434.5,212.7ZM444.3,214.6L445.8,212.0L442.9,211.3L442.8,211.5ZM450.7,220.1L453.9,220.2L454.5,218.6L449.2,217.5L450.8,212.9L449.0,212.7L448.2,213.5L446.7,212.9L446.1,214.5L448.2,216.0L448.4,218.1ZM438.6,213.6L436.7,216.5L438.7,216.4L439.7,215.7ZM434.5,218.7L434.8,220.7L438.3,220.0L438.4,219.4L435.6,216.7ZM427.8,220.7L430.1,221.2L431.3,220.5L430.3,217.3L427.3,217.5ZM444.8,218.5L445.3,222.0L446.3,222.9L447.9,220.8L447.8,218.4ZM434.5,225.4L434.8,224.6L432.6,222.4L432.1,223.1ZM431.0,228.3L429.2,230.0L429.7,231.7L433.1,230.3L433.0,228.2ZM445.9,233.9L447.1,232.4L444.8,230.5L444.2,230.8L444.5,233.5ZM433.6,245.0L434.6,246.3L436.3,244.5L434.9,243.0ZM427.3,254.4L430.8,250.1L430.0,249.4L429.4,250.8L427.0,251.8ZM472.6,45.8L473.0,47.2L474.3,47.4L476.3,44.2L473.2,44.0L472.6,43.2L469.6,45.6ZM463.7,47.2L463.7,43.8L459.2,48.1L458.9,50.7L461.5,51.1L464.2,53.2L465.4,53.2L468.0,51.3L468.1,50.6ZM474.7,53.3L471.9,53.2L468.2,60.5L469.9,60.9L473.8,59.4ZM453.8,64.4L454.1,65.0L457.0,66.8L456.7,63.8ZM461.6,68.2L463.9,67.6L466.5,68.7L469.4,68.2L470.7,69.2L472.9,69.6L471.6,73.1L472.6,76.2L473.7,74.2L473.2,69.5L479.4,65.0L480.5,61.6L476.4,61.9L475.2,64.0L474.5,66.4L474.6,67.7L470.6,65.1L469.4,68.0L467.6,63.4L466.8,64.8L463.9,67.1L462.1,63.4L460.3,63.2L459.3,67.3L458.4,67.9L457.7,69.8L455.3,70.5L456.6,74.4L459.0,73.0L458.2,70.4L459.4,70.4L461.3,69.4ZM464.7,72.6L463.8,69.8L461.8,70.8L460.5,70.9L460.7,73.3L462.3,73.1L463.5,73.6ZM469.6,92.3L468.8,92.6L468.0,94.1L470.7,97.5L472.0,96.7L472.0,93.1ZM466.6,97.7L463.4,94.4L464.0,98.3L466.7,98.9ZM461.8,102.6L464.3,102.8L464.5,101.0L461.8,100.3L461.2,100.6ZM469.3,104.2L468.6,102.4L464.4,102.8L464.7,105.8L468.2,106.4ZM464.7,117.5L463.8,115.7L463.7,112.1L462.5,111.3L460.3,112.7L459.1,115.3L459.3,116.7L459.5,117.3L462.6,118.5ZM471.3,119.2L468.8,118.3L468.0,121.7L469.3,125.0L472.5,121.6ZM457.6,134.7L460.1,133.5L459.1,130.8L461.4,130.5L462.0,133.3L463.8,134.7L465.1,128.2L468.1,126.0L464.2,122.7L462.6,124.0L460.1,121.3L458.0,121.6L456.8,124.3L459.1,126.7L456.9,130.1ZM469.4,129.6L473.1,130.5L473.9,131.9L476.3,128.1L477.4,125.4L474.6,125.7L472.6,127.9L473.0,130.1L469.3,128.0ZM463.6,135.1L461.8,136.4L462.6,139.5L464.2,139.9ZM466.0,150.5L464.1,149.2L462.2,149.8L460.2,152.6L457.7,152.3L456.4,152.8L457.5,154.1L459.8,155.4L461.6,155.4L463.0,153.7L465.1,153.7L465.4,153.2L469.3,153.8L470.5,150.9L470.8,148.6L468.8,148.3ZM460.5,162.5L463.3,160.1L464.8,159.4L467.0,160.3L467.6,158.7L468.4,159.0L468.6,160.8L467.8,161.7L468.3,165.2L469.3,165.5L469.7,169.0L471.4,169.3L473.1,167.2L471.3,164.7L471.8,164.0L471.5,161.9L470.0,160.8L470.3,159.4L469.5,157.6L467.7,156.1L466.0,155.7L464.6,158.0L463.3,156.4L461.7,155.6L460.0,161.2ZM463.9,169.6L465.0,167.1L466.8,165.2L464.6,163.7L460.6,163.4L460.5,167.2L461.6,169.8ZM457.9,174.3L457.1,171.3L455.5,172.1L455.3,173.5ZM455.8,177.4L455.6,178.0L457.2,179.7L458.8,179.1L459.5,175.1L458.6,175.0ZM466.6,179.4L466.7,180.0L469.7,179.2L468.4,176.9ZM467.8,185.2L468.2,183.8L466.6,183.1L465.5,186.4ZM471.1,193.2L471.5,192.4L470.7,192.2L470.6,192.5ZM463.2,197.4L466.9,195.3L464.6,192.0L462.4,196.0ZM460.8,199.0L463.1,197.5L457.4,198.9L458.3,200.8L459.2,201.1ZM488.5,60.4L489.6,59.3L488.4,55.7L489.3,54.6L489.0,51.1L486.0,50.4L483.7,51.1L479.4,45.1L477.8,44.2L477.2,44.9L479.8,47.4L477.1,49.9L475.9,52.9L481.5,56.5L485.9,56.4L487.4,60.3ZM483.4,65.1L482.8,66.2L484.9,66.7L485.4,66.1ZM490.1,76.1L491.7,73.2L491.4,72.3L488.9,72.2L487.8,73.5ZM485.4,80.2L487.3,82.1L489.0,81.0L491.1,81.2L491.9,80.5L493.0,77.6L490.1,76.2L488.3,77.6L487.3,79.8ZM491.8,87.3L490.0,88.0L490.3,89.6L491.5,89.8ZM490.8,93.6L489.5,95.7L491.5,95.9L492.5,94.2L492.1,92.9L490.3,91.8L488.5,92.0L488.0,91.3L485.5,93.3L486.5,94.8L487.9,94.7L488.5,93.7ZM479.7,97.8L479.6,96.4L478.0,94.4L476.6,96.0L477.7,100.7L480.1,101.8L481.1,101.1L481.5,99.9ZM488.5,106.8L490.2,104.9L490.1,103.8L486.7,102.1L485.6,103.2L485.5,104.2L486.7,106.0ZM480.3,103.4L479.2,104.0L478.4,108.9L479.7,109.5L480.8,108.1L481.3,105.8L481.2,104.4ZM471.1,111.1L471.9,111.7L474.7,112.1L475.8,108.1L473.5,108.5ZM476.0,116.2L475.1,113.7L472.7,113.4L471.8,114.6L475.0,116.5ZM479.6,121.2L482.5,120.9L482.9,119.9L484.2,118.8L482.9,117.5L481.2,118.3L481.3,119.3ZM485.1,125.2L483.0,126.3L485.5,127.8ZM485.7,131.8L486.7,130.8L484.9,130.0L484.6,131.2ZM489.2,135.8L491.6,136.8L491.1,133.6L490.2,133.4L490.5,128.7L489.4,129.1L488.0,130.5L488.6,133.1L489.7,133.5ZM489.7,138.1L487.5,137.3L488.8,140.8ZM474.3,142.9L471.6,142.9L470.6,143.6L472.0,146.7L473.4,145.8ZM472.0,151.4L473.2,152.4L474.8,149.7ZM474.7,155.1L473.2,152.9L469.7,153.6L470.8,154.8ZM487.2,152.3L488.2,156.4L491.3,154.1L488.6,152.3ZM484.1,155.5L482.9,153.9L481.0,154.3L481.4,157.1L483.5,157.3ZM491.5,154.2L490.0,157.3L491.4,157.7L492.9,155.3ZM489.5,157.3L488.1,156.6L486.9,157.5L486.9,159.3L489.5,158.8ZM481.3,163.3L483.7,163.9L484.9,163.6L484.5,160.6L481.4,160.5ZM477.1,162.5L475.3,161.1L473.9,163.6L476.5,164.3ZM480.4,165.5L479.4,164.6L477.4,165.5L477.6,166.4L480.2,166.4ZM486.3,170.7L488.2,169.1L486.0,167.4L482.5,167.7L481.3,169.4ZM487.3,175.4L486.0,171.3L485.1,172.2L485.1,174.7ZM482.9,175.4L480.3,174.7L480.3,177.7L483.4,177.3ZM472.8,180.3L473.2,180.9L475.1,180.2L475.4,179.4L473.0,179.6ZM477.2,183.9L480.3,183.3L480.8,180.6L479.7,178.8L479.2,178.7L477.8,180.6L476.8,180.3L476.1,183.5ZM486.5,186.7L488.5,185.8L488.6,184.8L486.6,182.6L484.9,185.7ZM497.4,63.4L498.6,60.4L498.0,59.1L496.5,58.7L494.4,62.2L495.5,63.6ZM500.5,64.7L501.2,65.0L502.0,63.9L501.8,62.5L503.8,62.2L502.4,60.4L500.4,61.1ZM507.4,64.0L508.8,65.3L510.1,64.9L510.8,61.9L508.4,58.8L507.4,62.0L505.2,61.5L504.2,62.2ZM504.3,67.5L501.9,67.7L501.7,68.1L502.8,69.7L505.3,68.5ZM498.0,69.6L493.6,71.4L493.4,71.6L496.7,73.2ZM507.0,70.1L505.4,71.4L505.4,72.3L507.7,74.1L508.2,73.8ZM500.2,75.5L501.0,73.3L500.4,72.9L497.2,73.9L498.1,75.3ZM496.1,78.3L497.0,75.5L495.8,75.9L494.7,77.4ZM506.0,77.4L504.4,76.7L502.2,78.1L503.4,79.1L505.9,77.9ZM494.6,88.8L496.9,88.9L497.5,88.1L496.0,85.8L498.0,84.2L498.9,84.5L500.3,83.3L499.1,80.0L497.5,79.8L498.6,82.1L497.1,83.1L495.5,83.3L494.8,85.2L493.5,85.6ZM497.0,97.8L498.5,100.3L500.6,100.8L501.0,101.7L505.1,102.0L505.2,100.8L507.1,99.6L506.8,98.9L504.1,97.7L502.2,98.7L499.8,94.0L496.8,92.3L496.0,93.7L498.9,96.2ZM506.8,92.2L504.5,94.1L505.1,95.6L508.2,96.2L509.4,99.1L509.1,100.7L509.5,101.1L512.4,99.4L513.4,98.0L511.6,97.2L509.4,95.2L509.6,94.3ZM504.0,106.9L505.9,107.2L507.4,108.7L509.0,106.0L507.0,105.7L506.6,103.9L505.5,103.4L504.3,104.6ZM499.7,106.4L499.4,104.4L497.9,104.3L497.4,104.3L497.0,106.1L495.3,104.9L494.0,106.1L496.5,107.5ZM493.3,113.8L493.6,110.5L495.3,110.2L493.3,108.2L492.5,110.0L490.8,110.5L490.4,111.3L490.8,113.7ZM499.2,110.9L500.0,110.7L500.6,108.7L498.9,110.0ZM492.5,117.1L491.6,116.0L491.2,117.6ZM501.1,119.4L501.2,121.8L499.5,121.2L497.9,124.2L498.3,124.6L497.9,126.9L500.1,128.5L502.4,127.0L504.9,127.4L505.6,127.0L505.6,125.3L503.5,125.1L502.5,125.8L500.5,123.8L501.5,122.3L503.3,122.2L503.5,120.1L504.8,119.3L504.1,118.1L505.0,116.9L503.0,117.1L503.2,118.0L502.3,119.1ZM493.4,120.0L495.4,121.9L497.4,119.5L496.1,116.3L494.1,118.0L493.2,119.7L490.7,119.5L490.2,121.7L491.7,122.1ZM506.7,121.2L505.1,122.5L505.9,123.7L508.5,123.4ZM492.2,129.2L491.1,133.6L492.9,133.3L493.9,132.4L492.9,129.3ZM499.4,137.4L497.7,135.9L496.2,138.0ZM498.4,145.8L501.1,146.1L499.3,142.2L497.5,143.6ZM504.4,147.9L504.5,149.9L506.7,149.7L506.9,148.8ZM495.7,152.3L496.1,152.8L497.4,152.8L498.1,152.1L498.3,150.5L496.2,150.9ZM502.0,157.5L505.0,159.7L506.0,157.9L505.3,154.4L508.2,153.3L507.8,151.4L504.2,152.7L503.5,151.0L501.3,150.0L500.7,150.3L500.8,153.4L504.2,152.8L504.5,154.1L503.2,156.4ZM499.4,162.8L498.2,159.3L498.1,159.2L496.7,161.7L498.9,163.2ZM509.3,163.0L509.8,159.2L505.8,161.1L507.3,163.8ZM495.1,173.7L495.6,172.9L497.7,172.5L499.2,169.8L496.9,169.5L495.3,167.8L494.3,168.7L493.8,170.4L494.0,171.5L491.0,173.9L492.8,175.0ZM503.4,176.1L502.1,175.8L500.3,176.4L500.0,177.0L500.6,178.3L502.4,178.6ZM498.4,179.5L497.1,181.4L495.2,178.7L494.6,178.9L493.9,180.6L494.7,182.4L497.1,181.8L498.2,182.9L500.8,181.4ZM520.0,57.6L520.0,59.4L521.3,60.2L521.4,63.2L519.8,64.6L521.6,67.2L519.5,69.0L522.2,70.2L523.3,68.7L524.8,68.4L525.7,67.6L523.3,66.0L523.7,63.9L524.9,63.6L525.3,61.5ZM514.8,59.7L513.3,61.2L513.0,63.6L515.8,63.7L516.7,62.2L516.2,60.8ZM528.1,66.3L528.9,69.3L530.1,69.1L530.8,67.3L529.9,66.5ZM537.9,68.4L537.9,67.9L535.8,67.3L536.0,68.1ZM538.5,72.9L539.3,72.4L538.7,70.9L539.3,70.0L538.6,68.7L537.9,68.5L536.9,70.4L536.9,72.2ZM516.2,70.3L516.1,69.3L513.8,69.4L512.7,68.7L510.9,69.4L510.6,70.0L511.8,72.1L513.5,71.3L515.2,72.7ZM538.3,76.6L537.0,77.9L537.8,79.5L539.9,78.8L542.1,79.7L542.7,75.3L544.5,75.6L545.4,74.7L544.8,73.2L542.8,72.2L540.6,72.0L539.8,72.5L540.8,75.4L540.4,75.7L538.1,73.8L537.4,74.3L537.6,76.0ZM520.4,77.6L519.7,75.5L518.6,74.6L515.9,76.9L516.2,77.8L517.7,78.6L519.1,80.5ZM545.0,76.7L543.0,80.7L545.7,80.2ZM546.8,80.2L546.8,79.8L546.7,80.1ZM530.4,82.9L528.3,80.5L528.2,80.5L528.0,81.4L529.0,84.3L530.2,84.1ZM525.0,83.7L524.8,82.2L523.9,82.0L523.2,84.4L524.2,84.9ZM540.3,88.4L538.8,86.9L539.6,85.1L538.3,82.3L536.1,81.8L537.1,87.0L536.2,88.5L536.7,91.2L533.7,92.8L535.2,94.9L536.0,94.8L537.9,92.1L538.6,92.2ZM513.7,84.4L514.1,87.9L514.5,88.0L517.9,86.1ZM531.7,86.4L528.6,88.6L529.8,90.3L532.3,90.2L532.5,89.7ZM516.3,93.8L514.8,94.2L515.4,98.3L515.9,98.3L516.5,95.1ZM519.2,95.4L518.1,97.8L521.0,98.0L520.0,95.2ZM537.0,99.6L536.1,99.0L533.5,99.5L533.1,102.0L533.7,102.2L534.9,105.1L536.6,103.4L535.3,102.3ZM519.8,103.8L519.0,103.6L518.7,102.5L517.2,101.9L516.6,102.5L516.7,105.6L518.2,105.7L519.1,106.9L520.6,106.3ZM532.7,105.6L533.2,105.1L532.1,102.6L530.3,104.1L530.4,104.6L531.7,105.7ZM523.5,105.9L523.7,104.6L522.1,103.8L521.7,106.1L522.4,106.7ZM527.9,108.0L524.8,109.4L525.9,110.7L526.6,110.6L527.0,111.8L528.4,113.3L529.0,113.2L530.5,110.7L528.3,108.1L526.1,104.0L525.4,105.5L525.3,107.2ZM516.1,105.9L515.3,105.2L513.2,105.6L512.3,104.8L510.7,104.5L510.4,105.2L511.2,107.8L514.3,107.8L515.4,107.4ZM511.0,110.9L507.8,110.1L509.0,114.1L509.9,114.5L511.0,113.5ZM516.2,112.1L515.7,113.4L517.8,116.2L519.9,113.4L518.6,112.4ZM506.6,117.0L506.7,118.1L508.8,119.7L510.0,119.7L508.7,116.2ZM513.3,150.2L514.3,155.3L516.1,154.9L516.9,152.5Z" fill="#46a8b2"/>
<path fill-rule="evenodd" d="M376.0,20.6L367.2,18.0L361.9,19.7L361.8,20.1L369.7,26.8ZM331.7,89.6L323.2,94.2L323.1,95.7L332.8,93.6L334.5,95.8L336.2,97.1L340.4,97.3L340.6,94.1L344.6,89.3L346.9,90.7L349.1,89.9L350.9,90.5L352.3,89.1L352.8,86.7L352.0,83.4L348.1,84.4L345.7,84.2L345.1,80.5L338.9,80.1L337.4,81.2L334.6,79.8L329.2,80.0L330.1,85.1L333.7,85.4L335.1,88.5L332.6,90.2ZM299.0,85.2L302.8,85.6L304.9,87.5L305.5,91.7L308.3,90.4L312.4,85.6L313.6,87.9L313.6,91.6L316.3,91.6L317.6,89.7L323.2,94.0L323.8,88.8L322.2,85.7L319.9,86.4L312.3,83.9L311.4,81.2L306.9,79.0L304.8,81.0L303.1,81.3L298.9,84.5ZM375.6,90.7L377.2,89.7L379.4,85.1L378.9,83.7L373.8,86.3L373.9,88.6ZM299.4,92.1L298.7,85.6L292.1,87.1L291.3,91.0L292.3,92.5L294.8,93.5ZM395.9,93.9L396.7,91.7L394.0,89.1L392.8,89.4L388.9,95.2ZM320.2,103.2L327.5,104.7L331.0,103.3L322.7,98.0L322.3,97.9L321.1,99.2L313.4,92.5L310.5,96.8L321.0,99.4ZM378.4,100.1L380.9,100.5L387.1,105.3L387.6,106.5L389.3,107.4L393.7,106.4L399.8,111.3L401.6,108.6L408.3,107.2L409.3,105.7L408.8,103.1L407.6,102.2L403.1,104.2L401.4,103.1L394.1,105.5L393.1,99.1L388.3,97.5L387.6,95.8L386.8,95.3L385.6,96.2L380.1,96.3ZM364.8,102.2L360.9,99.9L356.8,99.2L356.0,100.1L359.9,109.7L355.3,111.1L353.6,101.4L345.3,101.7L345.6,110.3L349.2,114.0L352.0,115.5L355.1,112.2L359.9,119.2L364.9,116.5L366.9,117.4L371.5,110.3L371.6,108.5L371.2,108.3L370.3,102.1L369.6,101.3L366.7,101.2ZM312.5,107.5L315.3,109.2L320.3,107.6L319.9,105.2L312.2,106.6ZM374.9,130.8L378.2,131.2L379.2,130.7L379.2,130.2L372.3,124.1L370.4,127.0L371.3,127.4ZM378.7,140.4L379.4,141.1L380.0,136.7L377.5,135.9ZM415.7,39.8L415.9,45.8L419.0,47.9L418.4,53.9L425.4,57.6L426.1,57.3L427.0,51.7L422.5,45.5L424.3,43.7L423.6,39.0L417.2,36.4ZM393.8,70.2L387.0,74.7L386.2,77.6L393.4,78.4L400.6,73.6ZM402.9,73.4L403.0,79.0L410.9,83.5L413.1,83.1L413.5,79.5L408.2,70.2L406.4,70.4ZM415.5,95.6L414.8,94.1L409.0,93.5L408.4,93.7L407.1,96.6L409.1,98.0L413.9,98.8L415.4,97.2ZM424.2,98.5L422.1,98.9L420.7,100.1L420.1,104.2L427.9,103.1L425.2,99.1ZM412.9,101.1L414.4,105.6L415.3,106.2L416.7,106.4L419.1,104.8L416.7,101.8ZM432.5,116.6L431.0,114.3L432.5,112.9L432.4,112.0L435.8,109.8L435.0,108.0L434.4,104.4L432.9,102.5L430.6,102.1L429.6,102.9L433.4,108.1L430.7,109.4L430.8,110.6L428.8,112.3L428.3,114.5L427.0,115.9L427.1,118.7L430.3,118.5L433.3,121.0L435.9,120.0L431.9,117.4ZM432.1,125.5L426.4,124.5L423.4,132.0L426.7,132.8L428.9,132.2L430.2,132.4L432.0,136.6L434.8,132.7L432.9,130.6L433.4,129.4ZM407.4,140.0L411.5,143.7L418.2,141.8L417.6,138.1L418.4,134.0L416.8,133.7L409.2,135.6ZM408.6,151.7L408.4,147.8L403.9,149.4L406.1,152.4L405.5,154.2L406.9,159.0L410.3,158.2L410.2,153.0ZM404.9,171.2L407.2,171.5L409.6,176.0L411.5,175.6L415.9,170.7L415.0,167.7L410.4,166.7L405.9,162.7L403.5,165.4L403.4,170.3ZM422.0,181.7L424.1,176.8L418.5,175.4L417.3,176.8L417.9,180.7L420.8,182.8ZM421.2,193.5L421.9,194.8L424.2,193.2L425.4,194.0L427.7,192.0L426.9,190.4L423.9,192.0L422.2,192.2L420.7,188.6L419.7,192.3L419.8,192.8ZM415.2,193.8L415.1,192.7L414.6,193.2ZM404.4,224.8L405.0,226.4L407.6,228.1L408.8,226.3L408.9,224.4L407.3,222.6ZM414.2,237.4L416.7,238.5L421.3,238.4L420.9,239.2L422.0,243.5L423.7,243.3L423.9,242.9L421.6,238.2L421.9,234.1L418.8,230.5L420.6,228.8L421.2,227.0L417.6,225.6L417.5,230.6L416.2,233.1L419.1,235.5ZM408.8,230.2L408.9,230.7L411.5,231.5L413.1,231.3L413.6,230.0L412.8,227.0ZM414.2,244.4L417.6,246.6L417.9,243.6L416.6,242.8ZM421.3,248.5L420.0,246.1L417.9,246.8L420.8,249.1ZM427.4,251.6L429.4,250.8L430.0,248.9L427.0,248.7ZM449.4,65.1L443.4,67.2L444.3,69.6L451.4,66.7L451.6,65.4ZM442.8,88.8L446.3,87.5L446.3,86.0L443.4,84.2L444.1,81.8L438.4,79.5L436.9,82.2L437.0,87.9L439.4,87.7ZM442.5,107.6L447.6,107.1L447.8,105.7L445.4,104.4L443.6,104.1L446.2,98.9L446.4,97.4L445.7,96.5L440.7,104.9L441.4,105.2ZM441.2,110.7L438.8,111.9L439.2,113.3L441.8,113.9L441.7,111.4ZM436.3,129.9L437.1,132.3L439.7,128.6ZM442.0,135.9L439.4,139.5L442.9,142.1L444.1,141.5L444.6,137.4L448.9,138.1L448.0,133.4L449.8,133.1L452.1,133.7L454.2,131.2L451.0,130.8L451.1,129.3L449.4,128.4L447.5,128.6L447.0,130.8L447.5,133.1L441.5,132.4L441.0,133.1ZM451.0,143.6L449.8,140.7L445.3,141.5L447.1,146.2L449.9,145.3ZM430.4,145.2L435.4,149.0L437.4,148.5L437.9,146.4L435.2,139.9L432.0,139.5L429.7,142.0L429.3,143.3ZM439.7,154.8L441.4,154.0L441.5,153.4L438.4,152.6L438.0,154.1ZM446.5,163.0L447.8,161.8L447.4,158.7L449.1,157.2L450.1,159.2L453.0,158.1L451.2,156.2L451.6,153.1L451.1,152.3L452.4,150.0L449.9,149.4L449.1,151.8L450.0,152.2L448.6,155.7L445.9,154.3L445.6,154.7L445.6,156.1L444.0,159.2ZM441.9,165.0L441.9,163.1L441.4,162.7L440.3,162.7L435.8,160.5L435.8,159.0L434.4,156.5L432.1,154.9L429.5,155.3L428.0,160.6L433.1,162.3L435.0,161.9L438.7,165.9L440.7,166.0ZM438.2,166.8L437.7,167.5L439.3,170.2L439.6,168.0ZM435.8,173.7L437.6,173.8L438.0,173.4L437.6,170.7L436.4,170.2L435.4,170.3L434.3,171.6L435.0,173.0L433.2,174.9L433.0,176.5L434.9,176.5ZM431.4,235.5L435.3,235.2L435.8,232.4L433.7,231.7L433.1,230.3L429.7,231.7L429.7,233.9ZM434.1,237.8L431.4,236.3L431.1,238.3L431.8,239.2L432.4,241.9L435.0,242.4L436.9,239.1L439.3,239.4L438.7,235.6L436.3,236.1L436.3,238.3L434.4,238.4ZM449.0,48.9L452.1,53.4L456.6,54.4L457.0,56.4L455.6,58.3L451.1,56.3L450.2,56.8L452.5,61.2L453.0,64.1L453.8,64.4L456.7,63.8L458.3,62.6L460.1,63.0L460.7,58.8L462.4,58.4L462.9,54.9L464.2,53.2L461.5,51.1L458.9,50.7L458.2,51.0L454.1,48.4L457.5,44.3L457.2,43.7L454.7,41.7L452.3,41.1L449.9,47.7ZM472.4,47.9L473.0,47.2L472.6,45.8L468.2,45.9L468.7,48.6ZM483.6,70.0L484.9,66.7L482.8,66.2L481.3,68.8ZM455.8,77.0L454.0,77.1L453.2,81.7L458.0,81.5ZM458.2,81.9L452.5,85.8L452.5,86.0L457.2,85.9ZM457.3,105.1L457.7,102.2L453.9,100.5L453.4,102.4L455.0,104.8ZM463.5,107.1L463.9,106.1L464.7,105.8L464.4,102.8L461.9,102.7L461.8,104.8L458.9,106.6L459.8,107.7ZM464.4,122.4L466.5,122.5L468.0,121.7L468.8,118.3L468.3,117.7L465.0,117.6ZM455.2,118.8L452.3,118.2L451.8,120.6L454.1,123.6L456.0,124.5L453.9,128.4L455.1,129.8L456.9,130.1L459.1,126.7L456.8,124.3L458.0,121.6ZM472.6,127.9L474.6,125.7L473.7,124.0L471.5,126.5ZM477.4,125.4L476.3,128.1L478.1,128.5L480.7,127.5L478.0,124.9ZM467.3,130.5L468.9,129.9L471.3,133.6L474.0,132.6L473.1,130.5L469.4,129.6L469.3,128.0L468.4,126.0L465.1,128.2ZM478.2,132.1L475.3,133.2L478.4,137.6L482.0,133.6ZM458.8,136.3L457.7,135.7L457.6,138.5L455.6,139.8L457.2,142.2L458.5,142.0L459.5,139.7L460.8,139.1L461.3,136.6ZM479.4,146.3L477.9,142.3L475.7,142.2L474.3,142.9L473.4,145.8L474.9,147.1L474.8,149.5L478.1,149.1ZM462.2,149.8L464.1,149.2L465.7,144.1L465.3,143.5L461.2,143.8L459.8,147.2ZM459.2,150.8L456.2,146.8L451.9,147.5L452.7,149.7L455.3,150.0L456.4,152.8L457.7,152.3Z" fill="#ffdc3c"/>
<path fill-rule="evenodd" d="M402.9,73.4L400.6,73.6L393.4,78.4L394.5,84.2L395.1,84.1L402.9,74.9ZM295.7,97.7L295.3,98.7L297.3,98.7L300.9,101.4L304.6,101.1L304.0,98.1L305.9,94.3L310.4,96.7L313.4,92.5L321.1,99.2L322.3,97.9L323.2,94.0L317.6,89.7L316.3,91.6L313.5,91.7L308.3,90.4L305.5,91.7L304.9,87.5L302.8,85.6L299.0,85.2L298.1,81.4L295.2,81.0L290.7,83.8L292.1,87.1L298.7,85.6L299.4,92.1L294.8,93.5ZM380.8,93.7L382.7,93.2L381.2,89.1L381.7,87.3L379.4,85.1L377.2,89.7L379.5,90.7L379.9,93.1ZM386.8,95.3L387.6,95.8L388.9,95.2L392.8,89.4L388.3,89.5L387.3,86.7L384.4,86.8L382.9,87.5L386.1,92.7L385.9,93.5ZM369.7,94.0L371.8,96.4L375.1,96.6L376.3,93.3L375.7,91.4ZM364.8,102.2L366.7,101.2L366.0,94.7L360.9,99.9ZM312.2,106.6L319.9,105.2L320.3,107.6L327.5,104.7L320.2,103.2L321.0,99.4L310.5,96.8L310.0,100.2L310.8,99.9ZM331.0,103.3L332.4,102.7L332.7,101.8L329.1,98.4L322.7,98.0ZM384.1,122.8L379.6,120.7L375.4,119.5L373.5,120.4L372.3,124.1L379.2,130.2L380.2,123.6L383.6,126.7L380.2,129.2L384.4,127.8L384.7,127.3L389.3,127.0L390.3,131.7L397.0,133.9L392.1,139.0L392.3,140.1L396.5,141.1L399.3,136.8L402.5,137.8L403.7,130.7L407.1,130.1L408.4,132.2L412.2,130.2L416.8,133.7L418.4,134.0L417.6,138.1L418.2,141.8L420.0,143.1L423.5,139.9L423.0,136.2L420.9,133.3L419.5,126.6L418.6,126.8L415.6,129.0L411.3,124.5L407.4,127.2L404.0,124.5L403.1,121.5L404.6,119.6L401.8,112.5L399.9,111.6L395.1,118.5L393.8,118.4L388.8,124.4L387.7,123.5ZM365.5,122.5L360.4,122.9L365.2,124.9L365.6,124.5ZM399.9,235.9L403.2,237.2L401.0,235.4L402.6,233.0L400.9,232.3L399.6,233.0L399.5,234.5ZM397.0,234.4L397.0,234.4L397.0,234.5ZM408.2,38.5L409.6,33.4L401.7,32.5L397.0,38.2L395.9,41.4L398.0,42.8L399.4,43.1ZM409.3,50.7L414.2,45.8L411.9,44.4L408.0,49.5ZM404.7,89.8L406.9,86.5L406.9,85.1L402.9,80.7L400.8,84.2L401.1,89.4ZM409.0,93.5L412.7,93.7L412.7,86.4L410.5,88.0ZM408.8,103.1L411.6,101.4L409.1,98.0L407.1,96.6L406.5,97.6L407.6,102.2ZM408.8,151.4L413.3,148.0L411.5,143.7L407.4,140.2L402.5,145.8L403.0,148.5L403.9,149.4L408.4,147.8ZM420.1,143.3L413.9,148.4L416.2,150.8L418.2,151.2L421.7,148.3L422.0,146.6ZM405.6,161.2L405.9,162.7L410.1,166.2L413.1,160.1L412.0,158.3L410.3,158.2L406.9,159.0ZM416.3,185.7L415.2,190.7L413.0,191.5L414.6,193.2L415.1,192.7L415.2,193.8L417.1,196.9L416.8,198.3L419.9,196.8L421.8,196.9L421.9,194.8L421.2,193.5L419.8,192.8L418.3,194.1L416.3,190.9L420.7,188.6L422.2,192.2L423.9,192.0L421.4,187.0L426.5,188.0L426.9,188.8L430.8,189.0L431.0,188.1L430.0,186.1L429.2,186.2L427.5,183.3L429.4,182.1L429.6,180.0L429.0,177.6L426.4,175.5L425.3,175.7L424.1,176.8L422.0,181.7L420.8,182.8L417.9,180.7L417.3,176.8L413.7,177.2L411.5,175.6L409.6,176.0L407.1,179.8L408.4,181.0L414.3,180.9L414.0,184.3ZM397.3,179.5L401.4,181.3L406.8,182.3L406.6,180.5L407.0,179.8L406.4,179.5L398.2,178.5ZM415.7,203.0L416.5,204.6L417.3,202.2L416.1,201.1ZM412.3,225.2L408.9,224.4L408.8,226.3L407.6,228.1L408.6,230.1L413.1,226.6L417.2,229.9L417.6,225.6L416.7,225.3L413.3,226.5L414.7,222.9L414.4,222.1L413.9,222.0L412.7,220.6L410.4,220.2L408.3,221.8L411.5,223.1ZM416.2,233.1L417.4,230.7L413.6,230.0L413.1,231.3L414.9,233.7L413.1,236.1L413.8,237.3L419.1,235.5ZM409.7,236.8L411.2,236.0L409.6,233.3L407.3,234.9ZM417.9,243.6L419.5,243.4L420.3,244.4L422.0,243.5L420.9,239.2L421.3,238.4L416.7,238.5L416.6,242.8ZM432.6,45.4L424.3,43.7L422.5,45.5L427.0,51.7L426.1,57.3L433.4,56.9L435.7,49.4ZM422.5,108.0L419.9,104.6L416.7,106.4L418.9,112.7ZM419.8,113.6L419.5,116.2L424.0,122.2L424.5,122.2L421.0,113.7ZM429.3,143.3L428.0,144.3L427.3,149.1L429.3,149.2L430.1,148.6L430.4,145.2ZM435.0,173.0L434.3,171.6L430.9,171.3L430.4,171.8L433.2,174.9ZM427.7,192.0L425.4,194.0L425.5,194.5L427.9,196.3L429.9,195.7L430.4,193.4ZM425.7,232.3L422.0,234.3L421.6,236.5L421.9,237.6L425.1,239.0L427.6,238.6L427.9,237.0L425.9,235.7L427.6,233.8L429.7,233.9L429.2,230.0L427.2,229.3L425.8,229.8L422.4,228.2L421.2,227.2L420.6,228.8L422.4,230.7L422.3,232.6L424.8,230.1L425.7,229.9ZM427.0,244.7L426.5,248.6L430.0,248.9L430.8,250.1L432.8,248.0L430.4,248.3L431.4,245.0L433.6,245.0L435.0,242.4L432.4,241.9L431.8,239.2L431.1,238.3L428.6,239.2L428.4,242.1L430.8,243.4L430.9,244.4L428.7,245.0ZM434.2,246.2L434.0,246.8L434.6,246.3ZM420.0,246.1L421.3,248.5L423.7,247.9L423.5,246.2L422.6,245.7L420.4,245.5ZM425.8,257.2L427.1,254.7L424.1,253.5L422.0,254.9L422.6,257.1L423.5,258.2L424.4,258.3ZM449.4,63.6L450.8,61.3L449.4,60.9L447.8,62.2L441.5,64.8L443.4,67.2L449.4,65.1ZM455.0,104.8L452.7,106.8L453.2,107.5L455.6,107.9L457.4,107.2L458.0,106.3L457.3,105.1ZM447.8,105.7L447.6,107.1L448.9,109.8L452.2,106.7L450.0,104.1ZM435.8,109.8L438.8,108.9L440.6,104.9L435.3,108.2ZM460.3,112.7L457.1,112.2L456.3,111.7L455.0,112.1L454.1,113.5L457.9,115.7L459.1,115.4ZM443.2,116.3L445.5,117.6L448.7,116.2L445.3,111.8L444.3,112.6ZM435.1,115.0L438.1,118.1L438.4,117.8L439.2,113.3L438.8,111.9L436.7,111.4ZM432.1,125.5L437.7,125.0L435.9,129.3L433.4,129.4L432.9,130.6L434.8,132.7L437.1,132.5L437.8,133.3L441.0,133.1L441.5,132.4L441.8,129.9L447.0,130.8L447.5,128.6L446.1,126.4L441.6,128.9L440.4,127.9L439.2,125.7L437.8,125.0L437.7,119.7L433.3,121.0L431.5,125.2ZM436.3,129.9L439.7,128.6L437.1,132.3ZM453.9,128.0L456.0,124.5L454.1,123.6L451.8,126.0ZM444.6,147.5L447.1,146.2L445.3,141.5L442.9,142.1L439.4,139.5L436.2,139.5L435.2,139.9L437.9,146.4L442.6,144.1ZM442.0,152.5L441.4,154.0L439.7,154.8L438.0,154.1L434.4,156.5L435.8,159.0L440.5,157.9L441.5,158.0L442.6,156.0L445.9,154.3L448.6,155.7L450.0,152.2L449.1,151.8L449.9,149.4L452.4,150.0L452.7,149.7L450.3,145.0L449.3,148.7ZM456.2,152.8L451.6,153.1L451.6,154.4L454.9,154.3ZM453.0,158.1L450.1,159.2L450.0,161.0L452.3,160.9L453.7,158.9L457.1,163.3L460.4,163.1L460.0,161.2L457.9,158.4L459.8,155.4L457.5,154.1L456.7,158.0L455.2,158.0L453.8,158.8ZM434.6,167.8L437.5,167.0L434.6,164.0L433.3,166.9ZM448.2,228.2L447.7,227.7L445.6,227.6L445.2,228.0L444.8,230.5L448.0,229.5ZM435.3,235.2L434.7,235.3L434.1,237.8L434.4,238.4L436.3,238.3L436.3,236.1L438.7,235.6L439.3,239.4L442.0,236.7L441.3,235.6L442.1,234.3L443.9,235.0L444.5,233.5L444.2,230.8L442.3,230.5L441.3,231.4L438.6,231.7L437.9,231.2L437.3,228.9L435.2,227.4L434.0,227.2L433.0,228.2L433.1,230.3L433.7,231.7L435.8,232.4ZM439.7,240.3L439.2,239.5L436.9,239.1L435.2,241.5L435.1,242.3L437.8,242.6ZM464.0,43.4L466.2,43.0L468.0,40.7L460.8,38.9ZM476.3,44.2L477.2,44.9L477.8,44.2L476.4,43.6ZM468.7,48.6L468.0,51.3L471.9,53.2L474.7,53.3L475.9,52.9L477.1,49.9L474.3,47.4L473.0,47.2L472.4,47.9ZM462.1,63.4L466.4,60.7L468.1,60.4L465.4,53.2L464.2,53.2L462.9,54.9L462.4,58.4L460.7,58.8L460.1,63.0ZM484.6,61.4L487.4,60.3L485.9,56.4L481.7,56.3L482.2,59.9ZM469.5,60.9L470.6,65.1L474.6,67.7L474.5,66.4ZM483.8,64.3L483.4,65.1L485.4,66.1L486.2,65.1ZM464.0,93.7L467.2,91.4L466.0,89.2L462.3,90.0L462.0,92.9ZM472.0,96.7L474.4,97.2L474.9,101.5L472.8,103.6L475.8,108.1L474.7,112.1L475.7,114.6L479.3,109.4L476.0,108.1L477.0,104.3L475.7,101.7L477.7,100.7L476.6,96.0L478.0,94.4L478.2,91.8L473.5,92.1L472.0,93.1ZM464.5,101.0L466.4,98.9L464.0,98.3L461.8,100.3ZM483.5,102.2L481.1,101.1L480.1,101.8L480.3,103.4L481.1,104.3ZM467.6,111.0L468.2,110.4L471.0,111.2L470.6,114.7L471.8,114.6L472.7,113.4L471.9,111.7L471.1,111.1L473.5,108.5L468.9,105.7L468.2,106.4L464.7,105.8L463.9,106.1L462.9,111.4L463.7,112.1ZM482.9,117.5L480.6,114.4L479.0,115.7L480.2,117.8L481.2,118.3ZM459.2,118.0L456.3,119.5L458.0,121.6L460.1,121.3L460.4,120.6ZM478.2,121.9L482.4,124.0L483.7,123.1L483.3,122.5L479.0,121.5ZM471.5,126.5L473.7,124.0L473.8,122.3L472.5,121.6L469.2,125.4ZM481.9,129.7L481.1,128.6L478.2,132.1L482.0,133.6L482.6,132.9ZM462.0,133.3L461.4,130.5L459.1,130.8L460.1,133.5ZM471.1,138.9L467.3,139.3L465.5,141.4L465.3,143.5L465.7,144.0L469.1,143.9L471.6,142.9L474.3,142.9L475.7,142.2L473.9,138.5L477.6,136.8L475.3,133.2L474.6,132.9L473.2,137.9ZM473.4,145.8L472.0,146.7L471.2,148.4L474.8,149.5L474.9,147.1ZM474.7,154.6L476.0,152.8L474.8,149.8L473.2,152.4ZM469.5,157.6L471.0,156.9L470.8,154.8L469.7,153.6L465.4,153.2L465.1,153.7L465.9,155.7L467.7,156.1Z" fill="#dbe666"/>
<path fill-rule="evenodd" d="M408.4,93.7L409.0,93.5L410.5,88.0L414.0,85.0L413.1,83.1L410.9,83.5L403.0,79.0L402.9,80.7L406.9,85.1L406.9,86.5L404.7,89.8ZM367.9,92.8L366.4,93.2L366.0,94.7L366.7,101.2L369.6,101.3L370.3,102.1L377.4,101.9L378.4,100.1L375.1,96.6L371.8,96.4L369.7,94.0L375.7,91.4L376.3,93.3L379.9,93.1L379.5,90.7L377.2,89.7L375.6,90.7L374.6,89.9L368.6,93.1ZM347.0,96.3L346.9,90.7L344.6,89.3L340.6,94.1L340.4,97.3L343.0,99.6L344.6,99.7L344.8,100.4ZM396.7,91.7L395.9,93.9L396.0,95.7L399.1,99.1L394.1,105.5L401.4,103.1L403.1,104.2L407.6,102.2L406.5,97.6L404.4,98.7L400.7,98.8L401.6,94.6L399.0,91.1ZM411.6,101.4L408.8,103.1L409.3,105.7L414.4,105.6L412.7,101.3L413.9,98.8L409.1,98.0ZM375.4,119.5L378.2,120.2L382.1,112.8L381.2,111.3L378.0,112.1L375.1,108.1L371.6,108.5L371.5,110.3ZM365.5,122.5L365.6,124.5L365.2,124.9L370.4,127.0L371.9,124.9L373.5,120.4L364.9,116.5L359.9,119.2L358.5,121.8L360.4,122.9ZM416.8,133.7L412.2,130.2L408.4,132.2L409.2,135.6ZM380.6,142.3L384.5,142.9L385.0,141.1L385.2,136.3L380.9,135.3L380.0,136.7L379.4,141.1ZM413.6,153.8L413.4,156.7L418.0,157.2L418.1,159.6L422.9,158.5L424.4,163.7L425.1,163.6L428.8,166.2L433.1,162.3L428.0,160.6L429.5,155.3L426.7,154.0L425.3,151.2L427.3,149.1L428.0,144.3L429.3,143.3L429.7,142.0L423.5,139.9L420.0,143.1L422.0,146.6L421.7,148.3L418.2,151.2L416.2,150.8L413.3,148.0L408.6,151.7L410.2,153.0ZM418.5,175.4L415.9,170.7L411.5,175.6L413.7,177.2L417.3,176.8ZM400.5,228.2L403.8,229.1L405.0,226.4L404.4,224.8ZM405.6,232.4L408.9,230.7L408.6,230.1L403.9,230.5L403.7,231.4ZM407.4,233.1L405.7,233.4L405.1,235.4L407.1,234.8ZM433.4,56.9L425.4,57.6L418.4,53.9L414.2,56.0L412.3,67.9L416.5,68.3L419.8,79.3L421.9,80.0L421.8,68.0L423.7,67.4L427.4,69.3L437.2,64.5L439.0,62.9ZM432.0,88.6L424.4,86.9L424.2,91.2L427.0,92.9ZM431.1,97.8L430.6,102.1L432.9,102.5L434.4,104.4L435.0,108.0L435.3,108.2L440.6,104.9L438.8,108.9L435.8,109.8L432.4,112.0L432.5,112.9L435.1,115.0L436.7,111.4L438.8,111.9L441.2,110.7L442.6,108.4L441.4,105.2L440.7,104.9L445.7,96.5L443.5,96.5L436.7,88.2L435.2,89.1L434.7,93.9ZM423.9,113.0L427.0,115.9L428.3,114.5L428.8,112.3L425.5,109.1L424.8,109.3ZM427.6,125.0L431.5,125.2L433.3,121.0L430.3,118.5L427.1,118.7L424.9,122.3L426.4,124.5ZM430.2,132.4L428.9,132.2L426.7,132.8L428.3,137.1L431.6,139.7L432.0,139.5L432.0,136.6ZM437.9,146.4L437.4,148.5L435.4,149.0L430.4,145.2L430.1,148.6L433.2,151.8L432.1,154.9L434.4,156.5L438.0,154.1L438.4,152.6L438.4,150.5L442.0,152.5L449.3,148.7L449.9,145.3L447.1,146.2L444.6,147.5L442.6,144.1ZM433.2,174.9L430.4,171.8L430.9,171.3L430.6,167.9L428.9,166.3L426.3,170.7L423.4,165.5L421.9,171.0L425.3,175.7L426.4,175.5L429.0,177.6L431.6,177.4L433.0,176.5ZM454.5,67.9L451.6,66.3L451.4,66.7L450.0,71.3L453.6,70.2L455.3,70.5L457.7,69.8L458.4,67.9L454.1,65.0ZM450.2,77.5L445.1,75.4L447.5,78.0L447.3,79.9L449.6,81.2L450.1,83.0L447.8,83.7L444.1,81.9L443.4,84.2L446.3,86.0L446.3,87.5L448.0,89.0L452.1,87.7L452.5,86.0L451.3,83.8L453.2,81.7L454.0,77.1ZM445.4,104.4L446.9,102.4L446.2,98.9L443.6,104.1ZM481.2,111.3L480.6,114.4L482.9,117.5L484.0,115.2L486.0,114.6L486.2,114.1L485.1,111.3ZM450.6,121.9L451.0,125.4L451.8,126.0L454.1,123.6L451.8,120.6L452.3,118.2L451.2,116.2L448.7,116.2L445.5,117.6L445.3,118.9L443.2,121.6L443.4,123.6L439.2,125.7L440.4,127.9L441.6,128.9L448.2,125.5L449.5,122.7L446.5,123.5L446.8,121.2ZM455.2,136.3L454.6,138.9L455.6,139.8L457.6,138.5L457.7,135.7L457.3,135.3L457.6,134.7L457.0,130.2L455.1,129.8L453.9,131.9L452.1,133.7L453.0,135.3ZM458.5,142.0L460.8,143.4L461.8,139.6L460.8,139.1L459.5,139.7ZM447.8,161.8L448.7,161.5L449.5,158.3L449.1,157.2L447.4,158.7Z" fill="#ffa032"/>
<path fill-rule="evenodd" d="M379.9,93.1L376.3,93.3L375.1,96.6L378.4,100.1L380.1,96.3L385.6,96.2L386.8,95.3L385.9,93.5L382.7,93.2L380.8,93.7ZM366.0,94.7L366.4,93.2L365.6,92.9L357.5,99.3L360.9,99.9ZM396.0,95.7L395.9,93.9L387.6,95.8L388.3,97.5L393.1,99.1L394.2,105.1L399.1,99.1ZM370.3,102.1L371.2,108.3L375.1,108.1L378.0,112.1L381.2,111.3L382.1,112.8L378.2,120.2L379.6,120.7L385.8,116.4L388.7,115.0L393.8,118.4L395.1,118.5L399.9,111.6L393.7,106.4L389.3,107.4L387.6,106.5L387.1,105.3L380.9,100.5L378.4,100.2L377.4,101.9ZM354.4,119.3L358.5,121.8L359.9,119.2L355.1,112.2L352.0,115.5L353.4,116.2ZM376.8,131.9L377.5,135.9L380.0,136.7L380.9,135.3L385.2,136.3L385.0,141.1L384.3,143.1L388.0,143.8L390.0,144.7L395.5,151.4L395.7,153.4L398.3,152.9L401.8,154.9L405.5,154.2L406.1,152.4L403.0,148.5L402.5,145.8L407.1,140.3L402.5,137.8L399.3,136.8L397.7,139.6L401.9,145.8L396.6,145.7L396.5,141.1L392.3,140.1L392.1,139.0L390.5,137.8L388.8,134.0L390.3,131.7L389.7,129.9L383.7,130.8L383.1,131.2L379.8,131.2L379.2,130.7L378.2,131.2L375.9,131.2ZM403.4,170.3L397.9,171.4L398.6,175.3L398.2,178.5L407.1,179.8L409.6,176.0L407.2,171.5L404.9,171.2ZM397.6,231.9L399.6,233.0L400.9,232.3L402.6,233.0L405.0,235.4L405.7,233.4L407.4,233.1L407.3,234.9L409.6,233.3L408.9,230.7L405.6,232.4L403.7,231.4L403.9,230.5L408.6,230.1L407.6,228.1L405.0,226.4L403.8,229.1L400.5,228.2ZM413.1,83.1L414.0,85.0L412.7,86.4L412.7,93.7L414.8,94.1L415.6,96.6L413.9,98.8L412.9,101.1L416.7,101.8L419.1,104.8L419.9,104.6L422.5,108.0L419.0,113.1L421.0,113.7L423.9,113.0L424.8,109.3L425.5,109.1L428.8,112.3L430.8,110.6L430.7,109.4L433.4,108.1L429.6,102.9L430.6,102.1L431.1,97.8L432.0,96.6L427.5,92.6L427.0,92.9L424.2,91.2L424.4,86.9L422.6,84.5L423.5,81.4L428.1,79.0L429.5,74.3L427.4,69.3L423.7,67.4L421.8,68.0L421.9,80.0L419.8,79.3L416.5,68.3L412.3,67.9L408.2,70.2L413.5,79.5ZM422.1,98.9L424.2,98.5L425.2,99.1L427.9,103.1L420.1,104.2L420.7,100.1ZM400.7,98.8L404.4,98.7L406.5,97.6L408.4,93.7L404.7,89.8L401.1,89.4L399.0,91.1L401.6,94.6ZM403.1,121.5L404.0,124.5L407.4,127.2L411.3,124.5L410.0,118.7L404.6,119.6ZM415.0,167.7L415.9,170.7L418.5,175.4L424.1,176.8L425.3,175.7L421.9,171.0L423.4,165.5L426.3,170.7L428.9,166.3L425.1,163.6L423.5,164.3L418.3,163.9L417.7,162.6L418.0,157.2L413.4,156.7L412.0,158.3L413.1,160.1L410.1,166.2L410.4,166.7ZM444.5,56.1L439.2,62.9L441.5,64.8L447.8,62.2L449.4,60.9L447.2,57.1ZM454.5,67.9L454.1,65.0L453.0,64.1L452.4,61.3L450.8,61.3L449.4,63.6L449.4,65.1L451.6,65.4L451.9,66.6ZM444.8,71.1L447.9,71.7L450.0,71.3L451.4,66.7L444.3,69.6ZM443.5,73.7L438.6,76.6L438.4,79.5L447.8,83.7L450.1,83.0L449.6,81.2L447.3,79.9L447.5,78.0ZM453.2,81.7L451.3,83.8L452.5,85.8L458.2,81.9L458.0,81.5ZM448.0,89.0L446.3,87.5L442.8,88.8L439.4,87.7L436.7,88.2L443.5,96.5L445.7,96.5L446.4,97.4L446.2,98.9L446.9,102.4L445.4,104.4L447.8,105.7L450.2,103.7L449.5,101.5L453.7,99.7L453.8,97.8L454.5,97.1L453.9,95.6L454.0,90.7L456.0,90.8L457.0,89.2L454.8,86.3L452.5,86.0L452.1,87.7ZM448.6,109.5L447.6,107.1L442.5,107.6L442.6,108.4L445.6,110.6ZM443.4,123.6L443.2,121.6L445.3,118.9L445.5,117.6L443.2,116.3L438.1,118.1L437.8,125.0L439.2,125.7ZM446.8,121.2L446.5,123.5L449.5,122.7L448.2,125.5L451.0,125.4L450.6,121.9Z" fill="#fc641e"/>
<path fill-rule="evenodd" d="M352.3,89.1L350.9,90.5L349.1,89.9L346.9,90.7L347.0,96.3L344.8,100.4L345.3,101.7L353.6,101.4L356.8,99.2L357.5,99.3L365.6,92.9L364.6,92.3L361.9,85.8L359.2,87.2L358.2,88.9L355.2,90.6ZM401.9,145.8L397.7,139.6L396.5,141.1L396.6,145.7ZM395.7,153.4L395.0,159.7L392.8,165.1L393.3,172.4L394.9,176.3L397.3,179.5L398.2,178.5L398.6,175.3L397.9,171.4L403.4,170.3L403.5,165.4L405.9,162.7L405.6,161.2L406.9,159.0L405.5,154.2L401.8,154.9L398.3,152.9ZM443.5,73.7L445.1,75.4L450.9,77.5L455.8,77.0L456.6,74.4L455.3,70.5L454.3,70.1L447.9,71.7L444.8,71.1L443.4,67.2L441.5,64.8L439.2,62.9L437.2,64.5L427.4,69.3L429.5,74.3L428.1,79.0L423.5,81.4L422.6,84.5L424.4,86.9L432.0,88.6L427.5,92.6L432.0,96.6L434.7,93.9L435.2,89.1L437.0,87.9L436.9,82.2L438.4,79.5L438.6,76.6Z" fill="#f00a14"/>
<path d="M320.0,30.0 L350.0,28.0 L380.0,45.0 L405.0,50.0 L400.0,62.0 L360.0,68.0 L330.0,75.0 L318.0,60.0 Z" fill="#0890cc"/>
<path d="M350.0,9.0 L358.0,10.5 L366.0,9.5 L372.0,7.0 L376.0,4.0 L380.0,4.5 L382.0,10.0 L383.0,18.0 L384.0,22.0 L376.0,22.0 L366.0,22.0 L360.0,22.0 L355.0,18.0 L352.0,12.0 Z" fill="#a2cb8c"/>
<path d="M361.6,18.0 L366.0,17.2 L372.0,17.5 L376.0,18.5 L375.0,21.0 L368.0,21.6 L362.0,21.2 Z" fill="#ffdc3c"/>
<path d="M375.0,3.0 L380.0,1.8 L382.5,4.0 L384.0,9.0 L384.3,13.0 L380.0,13.5 L376.0,10.0 Z" fill="#0890cc"/>
<path d="M364.0,21.5 L384.0,21.5 L385.0,28.0 L384.0,40.0 L376.0,44.0 L368.0,40.0 L364.0,30.0 Z" fill="#46a8b2"/>
<path d="M369.5,29.0 L376.0,27.7 L380.6,30.0 L380.0,40.0 L378.0,46.0 L372.0,44.0 L369.5,36.0 Z" fill="#a2cb8c"/>
<path d="M409.0,20.0 L414.0,20.0 L422.0,30.0 L432.0,44.0 L436.0,54.0 L434.0,58.0 L428.0,47.0 L418.0,33.0 Z" fill="#46a8b2"/>
<path d="M404.0,21.0 L409.0,20.0 L418.0,33.0 L428.0,47.0 L434.0,58.0 L430.0,61.0 L423.0,50.0 L413.0,36.0 Z" fill="#dbe666"/>
<path d="M410.0,29.0 L414.0,30.0 L420.0,40.0 L426.0,50.0 L429.0,57.0 L426.0,58.0 L421.0,50.0 L414.0,40.0 Z" fill="#ffdc3c"/>
<path d="M415.5,52.5 L418.5,52.0 L419.5,56.0 L417.0,58.0 L415.5,56.0 Z" fill="#ffffff"/>
<path d="M345.4,95.4 L350.0,90.0 L354.2,88.8 L363.0,88.8 L367.5,95.4 L364.0,99.0 L358.7,97.6 L352.0,100.5 L347.0,101.0 Z" fill="#f00a14"/>
<path d="M426.0,72.3 L436.3,69.7 L446.6,70.5 L455.6,71.0 L454.4,78.7 L446.6,76.1 L438.9,78.7 L436.3,86.5 L437.6,95.5 L431.1,98.0 L427.3,91.6 L426.0,81.3 Z" fill="#f00a14"/>
<path d="M395.0,157.0 L405.0,155.0 L411.0,158.0 L411.0,165.0 L408.0,168.0 L405.0,172.0 L404.0,178.0 L400.0,182.0 L397.0,181.0 L395.0,176.0 L393.5,170.0 Z" fill="#f00a14"/>
<path d="M442.5,232.0 L443.6,233.6 L440.0,238.8 L436.5,243.2 L433.8,245.6 L432.0,244.8 L434.3,241.8 L437.8,237.2 L440.8,233.0 Z" fill="#fff" stroke="#222" stroke-width="0.5"/>
<path d="M379.8,115.7 L380.6,114.7 L381.6,113.8 L382.8,113.4 L384.1,113.4 L385.3,113.8 L386.6,113.8 L387.7,114.8 L389.0,114.8 L390.4,115.1 L391.5,115.9 L392.7,116.6 L394.0,117.8 L395.5,118.5 L396.7,119.4 L397.6,120.8 L399.2,121.2 L400.4,121.5 L401.6,121.8 L402.8,122.2 L403.9,120.9 L404.7,119.4 L404.8,117.9 L405.6,116.6 L407.2,116.7 L408.4,115.7 L409.5,116.5 L410.4,117.5 L411.2,118.5 L412.3,119.3 L413.8,119.3 L414.8,120.3 L416.2,120.5 L417.6,120.8 L419.0,120.1 L420.4,120.3 L422.1,120.6 L423.5,119.7 L425.0,119.4 L426.4,119.0 L427.5,117.9 L428.7,117.1 L430.0,116.5 L431.0,115.7 L432.1,114.8 L433.3,114.5 L434.7,114.3 L436.0,115.0 L437.3,114.3 L438.5,114.2 L439.8,114.9 L441.1,114.4 L442.4,114.3 L443.7,113.9 L444.0,112.4 L444.7,111.4 L446.3,111.2 L446.4,109.6 L447.6,109.1 L448.5,108.1 L448.7,106.9 L449.6,105.9 L449.5,104.5 L450.6,103.6 L450.8,102.3 L450.5,100.9 L451.6,100.0 L451.6,98.5 L452.7,97.6 L453.7,96.7 L453.9,95.3 L453.6,93.8 L454.3,92.5 L454.2,91.1 L455.0,89.8 L455.1,88.3 L455.1,86.7 L456.1,85.4 L456.4,84.2 L457.2,83.2 L457.4,81.9 L458.3,81.0 L459.1,79.6 L458.4,77.9 L459.4,76.5 L459.8,75.2 L460.6,74.1 L461.6,73.2 L462.6,72.4 L464.0,72.0 L464.9,71.0 L465.9,70.3 L467.3,70.1 L468.5,69.9 L469.4,68.8 L470.7,67.9 L472.5,68.6 L473.8,67.7 L475.0,67.3 L476.2,66.9 L477.2,66.2 L478.2,65.5 L479.2,64.5 L480.1,63.4 L481.2,62.6 L482.6,62.1 L482.8,60.8 L483.4,59.7 L484.4,58.8 L484.0,57.4 L484.2,56.0 L484.8,54.7 L484.8,53.3" fill="none" stroke="#111" stroke-width="0.95" stroke-linejoin="round"/>
<path d="M379.8,115.7 L379.9,117.2 L380.7,118.5 L381.3,119.7 L382.5,120.3 L382.4,121.7 L383.7,122.6 L383.5,124.0 L383.7,125.4 L385.1,126.3 L385.3,127.7 L386.7,128.8 L387.2,130.5 L388.6,131.2 L389.5,132.4 L390.8,133.2 L392.3,133.3 L393.4,134.1 L394.5,135.1 L395.6,134.5 L397.0,134.6 L398.0,133.5 L399.2,133.2 L400.0,132.2 L400.9,131.3 L401.9,130.5 L402.4,129.2 L404.1,129.0 L404.7,127.7 L405.3,126.5 L405.0,125.2 L404.7,124.0 L404.9,122.7 L405.2,121.5 L405.6,120.3" fill="none" stroke="#111" stroke-width="0.95" stroke-linejoin="round"/>
<path d="M381.2,139.5 L382.4,139.1 L383.6,139.5 L384.8,139.3 L386.0,139.0 L387.4,139.0 L388.6,140.1 L390.0,140.2 L391.4,139.8 L392.7,140.5 L394.3,140.6 L395.7,140.0 L397.1,139.4 L398.5,139.3 L399.8,139.6 L401.1,140.4 L402.6,139.7 L403.8,140.5 L404.9,141.0 L405.7,142.2 L407.3,141.8 L408.2,142.7 L409.3,143.8 L410.0,145.3 L411.5,146.0 L411.3,147.5 L411.7,148.9 L412.3,150.2 L412.6,151.6 L412.2,153.0 L413.4,154.2 L412.7,155.6 L413.6,156.9 L413.7,158.2 L413.3,159.5 L413.1,160.8 L413.3,162.2 L412.6,163.4 L412.6,164.8 L411.4,165.5 L410.0,166.0 L409.2,167.2 L408.2,168.2 L406.8,168.6 L405.3,169.1 L403.8,169.3 L402.5,169.4 L401.7,170.6 L400.4,170.7 L399.4,171.5 L398.6,172.5 L397.7,173.4 L398.1,175.0 L397.1,175.9 L396.7,177.1 L397.3,178.5 L396.5,179.7 L396.5,181.0" fill="none" stroke="#111" stroke-width="0.95" stroke-linejoin="round"/>
<path d="M489.3,53.8 L489.3,55.0 L489.3,56.3 L489.3,57.5 L490.4,58.5 L489.7,59.9 L490.4,61.0 L491.0,62.0 L491.4,63.2 L492.2,64.2 L492.1,65.5 L492.6,66.6 L493.3,67.9 L492.9,69.2 L492.4,70.6 L492.3,71.9 L492.6,73.2 L492.8,74.6 L491.8,75.8 L492.0,77.2 L492.1,78.5 L491.5,79.8 L490.7,81.0 L490.3,82.4 L490.2,83.8 L489.7,85.1 L489.3,86.5 L488.7,87.8 L488.2,89.1 L487.6,90.3 L487.1,91.7 L487.0,93.1 L486.1,94.4 L484.6,95.0 L485.0,96.3 L484.5,97.5 L484.0,98.6 L483.3,99.7 L483.1,100.9 L482.2,101.9 L482.6,103.3 L482.4,104.5 L481.8,105.6 L481.6,106.8 L481.3,108.1 L482.1,109.2 L482.8,110.3 L482.5,111.6 L483.1,112.7 L482.1,113.7 L482.1,115.0 L482.3,116.3 L482.3,117.5 L481.6,118.6 L481.9,119.9 L482.5,121.1 L482.8,122.3 L482.5,123.7 L482.2,125.0 L482.6,126.3 L483.1,127.5 L483.2,128.8 L482.5,130.0 L483.5,131.3 L483.4,132.6 L483.4,133.9 L483.0,135.1 L483.1,136.4 L483.8,138.1 L485.4,139.0 L486.2,140.1 L486.3,141.5 L487.3,142.4" fill="none" stroke="#111" stroke-width="0.95" stroke-linejoin="round"/>
<path d="M487.3,142.4 L488.7,141.6 L489.1,140.1 L490.0,139.0 L491.4,138.0 L492.0,136.4 L492.7,135.2 L492.4,133.9 L492.1,132.5 L492.2,131.2 L492.6,130.0 L493.1,128.8 L493.4,127.5 L492.5,126.3 L492.8,125.0 L492.8,123.7 L492.4,122.5 L492.7,121.1 L492.3,119.9 L492.0,118.6 L492.8,117.5 L493.6,116.5 L494.3,115.4 L494.9,114.2 L495.3,115.6 L496.0,117.0 L495.8,118.6 L496.2,120.0 L496.9,121.2 L496.9,122.5 L496.5,123.7 L496.7,125.0 L496.0,126.3 L496.9,127.5 L496.5,128.7 L496.5,130.0 L495.9,131.3 L495.9,132.7 L495.1,133.9 L495.7,135.5 L495.3,136.8 L494.5,138.0 L494.3,139.3 L493.7,140.4 L492.9,141.4 L492.9,142.8 L491.9,143.8 L491.2,144.8 L491.0,146.1" fill="none" stroke="#111" stroke-width="0.95" stroke-linejoin="round"/>
<path d="M546.4,83.0 L545.9,84.3 L545.3,85.6 L545.9,87.2 L544.8,88.4 L544.7,89.8 L543.8,90.6 L543.0,91.6 L543.1,93.1 L542.5,94.2 L541.0,94.7 L540.5,95.8 L540.4,97.2 L538.9,97.7 L538.4,98.8 L538.0,100.0 L537.0,100.9 L536.0,101.8 L535.3,102.9 L534.7,104.1 L534.1,105.4 L532.9,106.1 L531.7,106.9 L531.0,108.0 L530.6,109.3 L529.8,110.3 L529.1,111.4 L527.9,112.2 L526.6,112.8 L526.1,114.0 L526.1,115.7 L524.8,116.3 L523.9,117.4 L522.7,118.0 L522.3,119.6 L520.6,119.8 L520.2,121.3 L519.0,122.1 L518.0,123.0 L517.0,123.8 L516.1,124.7 L516.3,126.3 L514.8,126.7 L514.0,127.7 L513.3,128.7 L513.0,130.0 L511.6,130.3 L510.8,131.5 L509.6,132.2 L508.6,133.2 L507.2,133.5 L506.0,134.0 L505.2,134.9 L504.3,135.7 L502.7,135.5 L501.7,136.2 L500.8,137.0 L500.0,138.0 L499.0,139.2 L497.9,140.4 L496.4,141.0 L495.9,142.3 L495.7,143.8 L494.8,144.8 L494.0,146.0 L493.6,147.4 L493.7,148.9 L493.3,150.2 L492.8,151.6" fill="none" stroke="#111" stroke-width="0.95" stroke-linejoin="round"/>
<path d="M487.3,142.4 L488.4,143.2 L488.8,144.6 L490.5,144.7 L491.0,146.1 L491.0,147.6 L491.8,148.9 L492.3,150.2 L492.8,151.6 L492.1,152.9 L492.5,154.6 L491.0,155.6 L491.0,157.2 L490.3,158.5 L489.3,159.6 L488.2,160.6 L487.3,161.8 L485.7,162.3 L485.1,164.0 L483.6,164.6 L482.7,165.5 L481.3,165.9 L481.1,167.6 L479.9,168.2 L478.8,169.0 L478.4,170.4 L477.1,170.9 L476.2,171.9 L475.0,172.6 L473.7,173.1 L472.5,173.8 L471.0,173.8 L469.8,172.9 L468.8,171.9 L467.9,170.5 L466.1,170.5 L465.1,169.2 L463.7,168.8 L462.9,167.3 L461.4,167.3 L460.0,167.4 L458.7,166.7 L457.3,166.7 L455.9,166.4 L454.4,166.9 L453.1,165.8 L451.7,165.7 L450.3,165.5 L449.0,164.7 L447.7,164.4 L446.1,165.4 L444.8,164.6 L443.4,164.7 L442.0,165.3 L440.7,165.8 L439.2,165.5 L437.7,165.6 L437.0,167.2 L435.5,167.3 L434.3,167.9 L433.2,168.9 L431.8,169.2 L430.9,170.1 L430.4,171.4 L428.8,171.8 L428.4,173.1 L427.8,174.3 L426.6,175.0 L425.3,175.2 L424.6,176.5 L423.2,176.3 L422.4,177.5 L420.9,177.2 L420.0,178.2 L418.6,178.9 L416.9,178.7 L415.5,179.3 L414.6,180.3 L414.0,181.5 L413.3,182.6 L412.4,183.9 L412.6,185.5" fill="none" stroke="#111" stroke-width="0.95" stroke-linejoin="round"/>
<path d="M397.8,233.5 L398.4,232.3 L398.5,231.0 L399.3,229.9 L400.0,228.8 L400.3,227.5 L401.4,226.8 L402.7,226.3 L403.5,225.1 L405.0,225.0 L406.3,224.3 L407.9,224.7 L409.2,223.7 L410.7,223.6 L412.0,223.2 L413.3,224.0 L414.5,222.9 L415.8,223.0 L417.1,223.0 L418.4,223.6 L419.9,223.7 L421.4,224.0 L422.7,224.8 L424.0,225.5 L425.3,225.7 L426.2,227.0 L427.7,226.7 L428.8,227.5 L430.1,227.9 L431.5,227.8 L432.6,228.6 L434.0,228.6 L435.3,228.1 L436.5,228.5 L437.8,228.2 L439.0,228.8 L440.2,228.4 L441.5,228.2 L442.7,228.4 L444.0,228.3 L444.8,229.6 L446.6,229.2 L447.3,230.5" fill="none" stroke="#111" stroke-width="0.95" stroke-linejoin="round"/>
<path d="M439.2,157.2 L440.5,156.4 L442.0,156.4 L443.6,156.2 L444.8,155.3 L446.1,154.7 L447.5,154.2 L448.8,153.7 L450.3,153.5 L451.5,153.0 L452.8,152.9 L454.0,152.5 L454.6,154.1 L455.9,155.3 L455.0,156.8 L453.6,157.5 L452.0,158.0 L450.8,158.5 L449.5,158.1 L448.2,158.0 L447.0,158.5 L445.9,159.6 L444.6,160.2 L443.0,160.0 L441.7,161.0 L440.0,161.0" fill="none" stroke="#111" stroke-width="0.95" stroke-linejoin="round"/>
<path d="M456.0,165.0 L457.4,165.2 L458.6,165.9 L460.0,166.0 L460.2,167.4 L461.6,167.9 L462.3,168.9 L463.0,170.0 L463.3,171.3 L464.2,172.2 L464.8,173.3 L466.0,174.0 L464.8,175.0 L463.2,175.1 L462.0,176.0 L461.3,174.9 L459.8,174.8 L458.8,174.0 L458.0,173.0 L457.9,171.4 L456.3,170.5 L456.0,169.0" fill="none" stroke="#111" stroke-width="0.95" stroke-linejoin="round"/>
<path d="M462.0,158.0 L463.4,158.4 L464.9,158.8 L466.0,160.0 L466.2,161.6 L467.2,162.7 L468.0,164.0 L467.6,165.2 L466.7,166.0 L466.0,167.0" fill="none" stroke="#111" stroke-width="0.95" stroke-linejoin="round"/>
<path d="M413.0,217.0 L414.2,216.7 L415.4,215.8 L416.8,216.6 L418.0,216.0 L419.4,215.8 L420.5,216.6 L421.5,217.5 L422.9,217.3 L424.0,218.0 L425.1,218.6 L426.3,219.0 L427.6,218.9 L428.8,218.7 L430.0,219.0 L431.1,220.2 L432.8,220.1 L434.0,221.0 L432.4,221.0 L431.3,222.2 L430.0,223.0 L428.8,222.8 L427.7,222.1 L426.3,222.9 L425.2,222.5 L424.0,222.0 L422.8,221.6 L421.6,222.6 L420.4,221.4 L419.2,222.1 L418.0,222.0 L416.7,221.3 L415.6,220.0 L414.0,220.0" fill="none" stroke="#111" stroke-width="0.95" stroke-linejoin="round"/>
<path d="M447.0,150.0 L448.0,149.0 L449.3,148.4 L450.8,148.6 L452.0,148.0 L453.2,148.7 L454.3,149.5 L455.9,149.1 L457.0,150.0 L457.3,151.3 L458.3,152.1 L459.2,153.1 L460.0,154.0 L459.0,155.3 L457.1,155.0 L456.0,156.0 L454.6,155.9 L453.6,154.8 L452.5,153.9 L451.0,154.0 L449.5,153.5 L448.9,152.1 L448.4,150.6 L447.0,150.0" fill="none" stroke="#111" stroke-width="0.95" stroke-linejoin="round"/>
<path d="M468.0,165.0 L469.5,165.4 L470.5,166.8 L472.0,167.0 L472.3,168.5 L473.1,169.8 L474.0,171.0 L472.5,171.5 L471.8,172.8 L471.0,174.0 L469.7,173.8 L469.3,172.3 L468.0,172.0" fill="none" stroke="#111" stroke-width="0.95" stroke-linejoin="round"/>
<path d="M458.0,176.0 L459.2,177.0 L460.7,177.2 L462.0,178.0 L463.4,178.6 L464.2,179.8 L465.0,181.0 L466.0,182.0 L465.2,183.2 L463.5,183.5 L463.0,185.0 L461.7,184.3 L460.8,183.2 L460.0,182.0" fill="none" stroke="#111" stroke-width="0.95" stroke-linejoin="round"/>
<path d="M452.0,160.0 L453.6,160.2 L454.5,161.6 L456.0,162.0 L456.3,163.5 L457.6,164.5 L458.0,166.0" fill="none" stroke="#111" stroke-width="0.95" stroke-linejoin="round"/>
<path d="M412.0,208.0 L413.2,207.5 L414.6,207.7 L415.6,206.9 L416.7,206.0 L418.0,206.0 L418.9,207.1 L420.2,207.3 L421.6,207.3 L422.7,207.9 L423.8,208.5 L425.0,209.0 L426.1,209.8 L427.4,210.1 L428.8,210.4 L429.9,211.2 L431.0,212.0 L430.7,213.3 L429.5,214.0 L428.6,214.9 L428.0,216.0 L426.7,215.5 L425.2,215.9 L424.0,214.9 L422.8,214.3 L421.4,214.2 L420.0,214.0 L418.7,213.8 L417.7,212.8 L416.4,212.9 L415.3,212.0 L414.0,212.0" fill="none" stroke="#111" stroke-width="0.95" stroke-linejoin="round"/>
<path d="M405.0,218.0 L406.0,216.9 L407.3,216.5 L408.7,216.4 L410.0,216.0 L411.3,216.3 L412.3,217.2 L412.6,218.7 L414.0,219.0" fill="none" stroke="#111" stroke-width="0.95" stroke-linejoin="round"/>
<path d="M457.0,168.0 L462.0,167.0 L465.0,171.0 L463.0,176.0 L459.0,175.0 Z" fill="#111"/>
<path d="M416.0,218.0 L421.0,217.5 L423.0,220.0 L419.0,221.5 Z" fill="#111"/>
</g>
<path d="M316.3,25.5 L317.6,24.4 L325.4,24.4 L327.6,23.3 L332.0,21.6 L333.7,23.3 L335.4,27.7 L338.1,29.9 L340.3,31.0 L343.1,29.9 L344.2,31.0 L346.9,28.1 L350.6,25.1 L352.8,22.2 L355.0,20.7 L354.3,19.2 L353.6,16.3 L352.1,13.3 L349.9,11.1 L349.1,8.9 L352.1,11.8 L355.8,11.1 L360.2,10.3 L364.6,8.9 L370.6,7.4 L375.0,5.2 L376.5,3.0 L380.2,2.2 L380.9,4.4 L380.2,7.4 L382.4,10.3 L383.1,13.3 L382.4,17.7 L383.1,22.2 L385.3,25.1 L388.3,28.1 L391.2,27.3 L395.7,25.1 L401.0,22.9 L405.3,21.2 L410.8,19.4 L414.5,20.3 L418.2,23.1 L423.7,20.3 L429.3,17.5 L433.0,11.1 L435.7,7.4 L437.6,8.3 L439.4,14.8 L442.2,20.3 L445.9,27.7 L447.7,33.2 L451.0,36.6 L453.3,37.5 L458.4,39.4 L465.8,41.2 L473.1,43.1 L478.7,45.8 L481.4,49.5 L483.3,52.3 L486.0,51.4 L493.4,53.2 L499.9,55.1 L502.7,56.0 L506.4,54.1 L511.9,55.1 L519.5,58.5 L524.8,62.4 L530.3,66.0 L532.0,67.4 L539.7,69.4 L543.1,71.6 L545.3,77.1 L546.4,83.8 L546.4,88.2 L544.2,92.6 L542.0,96.0 L539.7,99.3 L537.0,101.5 L534.2,104.4 L529.7,110.0 L526.4,115.5 L523.1,120.0 L520.9,124.4 L519.3,131.0 L518.6,137.7 L518.3,144.7 L517.0,149.5 L515.5,153.5 L514.5,156.5 L513.6,160.0 L512.5,163.5 L510.1,165.5 L508.8,168.9 L506.9,172.8 L504.9,176.6 L502.3,179.9 L499.8,183.1 L498.5,185.7 L494.6,186.3 L490.7,185.7 L486.8,186.3 L483.0,187.0 L479.1,188.3 L475.2,190.8 L471.3,192.8 L468.4,193.5 L464.2,195.5 L460.1,198.3 L457.6,201.6 L456.5,205.0 L455.9,208.3 L456.5,211.6 L456.5,215.5 L455.9,218.3 L454.8,220.5 L453.2,222.7 L451.5,224.9 L449.8,227.1 L448.2,229.4 L446.5,231.6 L444.5,234.0 L441.2,236.7 L438.3,240.4 L435.3,244.1 L431.6,247.8 L428.7,250.8 L426.5,253.7 L425.0,256.7 L424.0,257.4 L423.5,256.7 L422.8,253.7 L424.4,254.2 L423.3,251.1 L421.3,248.0 L417.1,245.0 L412.0,241.8 L407.8,237.7 L401.6,235.6 L397.5,233.6 L400.6,229.5 L405.6,225.0 L407.9,223.4 L410.8,221.2 L413.8,219.0 L416.7,216.8 L419.7,214.6 L421.2,212.3 L420.4,209.4 L418.2,205.7 L416.7,202.7 L417.5,199.8 L418.2,196.8 L416.7,193.9 L413.8,190.9 L411.6,188.0 L410.1,185.0 L408.3,181.7 L406.1,181.0 L401.7,180.3 L398.0,178.8 L395.8,175.8 L394.3,172.1 L394.3,167.7 L393.8,165.0 L395.0,162.5 L396.0,160.0 L396.5,157.0 L396.8,154.0 L396.5,151.0 L394.5,148.8 L392.5,146.5 L390.7,143.9 L388.3,142.8 L384.8,142.2 L381.3,141.6 L379.5,139.8 L378.9,137.4 L378.3,135.1 L377.7,131.5 L377.0,130.5 L375.3,129.9 L371.9,126.5 L366.4,124.3 L360.9,122.1 L355.3,118.8 L354.2,115.5 L349.8,113.2 L346.5,109.9 L346.5,106.6 L346.5,102.2 L345.3,98.8 L343.0,98.6 L338.0,99.7 L334.0,101.0 L329.0,103.0 L324.0,105.0 L319.8,106.7 L315.3,108.2 L313.3,106.9 L312.4,102.3 L311.5,98.6 L308.7,99.6 L301.3,100.5 L297.6,97.7 L294.9,97.7 L294.9,94.9 L292.1,90.3 L290.2,86.6 L289.3,83.9 L291.2,80.2 L293.9,74.6 L295.8,72.0 L298.5,70.3 L301.3,67.5 L305.0,65.6 L310.6,63.8 L314.2,63.8 L316.1,61.9 L317.0,56.4 L317.9,50.9 L318.9,45.3 L317.9,41.6 L315.2,38.9 L315.2,35.2 L316.1,32.4 L320.7,31.5 L320.7,29.6 L317.0,28.7 Z" fill="none" stroke="#111" stroke-width="0.8"/>
<text x="92" y="107.2" font-size="8.0" font-weight="bold" fill="#fff" textLength="46.4" lengthAdjust="spacingAndGlyphs" stroke="#fff" stroke-width="2.7" stroke-linejoin="round">Mato Grosso</text><text x="92" y="107.2" font-size="8.0" font-weight="bold" fill="#111" textLength="46.4" lengthAdjust="spacingAndGlyphs">Mato Grosso</text>
<text x="164" y="132" font-size="8.0" font-weight="bold" fill="#fff" textLength="21" lengthAdjust="spacingAndGlyphs" stroke="#fff" stroke-width="2.7" stroke-linejoin="round">Goiás</text><text x="164" y="132" font-size="8.0" font-weight="bold" fill="#111" textLength="21" lengthAdjust="spacingAndGlyphs">Goiás</text>
<text x="383.2" y="67.3" font-size="8.0" font-weight="bold" fill="#fff" textLength="29.5" lengthAdjust="spacingAndGlyphs" stroke="#fff" stroke-width="2.7" stroke-linejoin="round">Amazon</text><text x="383.2" y="67.3" font-size="8.0" font-weight="bold" fill="#111" textLength="29.5" lengthAdjust="spacingAndGlyphs">Amazon</text>
<text x="497.1" y="97.2" font-size="8.0" font-weight="bold" fill="#fff" textLength="32.5" lengthAdjust="spacingAndGlyphs" stroke="#fff" stroke-width="2.7" stroke-linejoin="round">Caatinga</text><text x="497.1" y="97.2" font-size="8.0" font-weight="bold" fill="#111" textLength="32.5" lengthAdjust="spacingAndGlyphs">Caatinga</text>
<text x="431.3" y="136.1" font-size="8.0" font-weight="bold" fill="#fff" textLength="28.7" lengthAdjust="spacingAndGlyphs" stroke="#fff" stroke-width="2.7" stroke-linejoin="round">Cerrado</text><text x="431.3" y="136.1" font-size="8.0" font-weight="bold" fill="#111" textLength="28.7" lengthAdjust="spacingAndGlyphs">Cerrado</text>
<text x="396.7" y="157.2" font-size="8.0" font-weight="bold" fill="#fff" textLength="31.5" lengthAdjust="spacingAndGlyphs" stroke="#fff" stroke-width="2.7" stroke-linejoin="round">Pantanal</text><text x="396.7" y="157.2" font-size="8.0" font-weight="bold" fill="#111" textLength="31.5" lengthAdjust="spacingAndGlyphs">Pantanal</text>
<text x="435.2" y="187" font-size="8.0" font-weight="bold" fill="#fff" textLength="53" lengthAdjust="spacingAndGlyphs" stroke="#fff" stroke-width="2.7" stroke-linejoin="round">Atlantic Forest</text><text x="435.2" y="187" font-size="8.0" font-weight="bold" fill="#111" textLength="53" lengthAdjust="spacingAndGlyphs">Atlantic Forest</text>
<text x="408.6" y="237.6" font-size="8.0" font-weight="bold" fill="#fff" textLength="28.5" lengthAdjust="spacingAndGlyphs" stroke="#fff" stroke-width="2.7" stroke-linejoin="round">Pampas</text><text x="408.6" y="237.6" font-size="8.0" font-weight="bold" fill="#111" textLength="28.5" lengthAdjust="spacingAndGlyphs">Pampas</text>
<text x="2.2" y="10" font-size="8.1" font-weight="bold" fill="#222" textLength="27.3" lengthAdjust="spacingAndGlyphs">BRAZIL</text>
<text x="2.6" y="127.5" font-size="12.5" font-weight="bold" fill="#111">a</text>
<text x="3.6" y="137.6" font-size="6.7" font-weight="bold" fill="#222" textLength="73.1" lengthAdjust="spacingAndGlyphs">Storage capacity (tons)</text>
<circle cx="11.4" cy="146.2" r="0.3" fill="#c0001c"/>
<text x="21.1" y="148.1" font-size="5.7" font-weight="bold" fill="#262626" textLength="32.0" lengthAdjust="spacingAndGlyphs">100 - 71,350</text>
<circle cx="11.4" cy="156.7" r="0.55" fill="#c0001c"/>
<text x="21.1" y="158.6" font-size="5.7" font-weight="bold" fill="#262626" textLength="43.6" lengthAdjust="spacingAndGlyphs">71,351 - 294,640</text>
<circle cx="11.4" cy="167.3" r="0.85" fill="#c0001c"/>
<text x="21.1" y="169.2" font-size="5.7" font-weight="bold" fill="#262626" textLength="46.8" lengthAdjust="spacingAndGlyphs">294,641 - 835,868</text>
<circle cx="11.4" cy="177.9" r="1.15" fill="#c0001c"/>
<text x="21.1" y="179.8" font-size="5.7" font-weight="bold" fill="#262626" textLength="51.6" lengthAdjust="spacingAndGlyphs">835,869 - 1,680,566</text>
<circle cx="11.4" cy="188.4" r="1.7" fill="#c0001c"/>
<text x="21.1" y="190.3" font-size="5.7" font-weight="bold" fill="#262626" textLength="56.0" lengthAdjust="spacingAndGlyphs">1,680,567 - 4,829,802</text>
<text x="3.8" y="202" font-size="7.2" font-weight="bold" fill="#222" textLength="104.5" lengthAdjust="spacingAndGlyphs">Soybean % of total production</text>
<text x="4.0" y="212.9" font-size="7.2" font-weight="bold" fill="#222" textLength="13.4" lengthAdjust="spacingAndGlyphs">2021</text>
<rect x="3.8" y="216.8" width="15.3" height="7.2" fill="#e0e0e0"/>
<text x="22.0" y="222.8" font-size="5.9" fill="#333">0</text>
<rect x="3.8" y="227.5" width="15.3" height="7.2" fill="#ff8000"/>
<text x="22.0" y="233.5" font-size="5.9" fill="#333" textLength="18.8" lengthAdjust="spacingAndGlyphs">0.1 - 27</text>
<rect x="3.8" y="238.1" width="15.3" height="7.2" fill="#fff000"/>
<text x="22.0" y="244.1" font-size="5.9" fill="#333" textLength="17.5" lengthAdjust="spacingAndGlyphs">28 - 48</text>
<rect x="3.8" y="248.8" width="15.3" height="7.2" fill="#5ae614"/>
<text x="22.0" y="254.8" font-size="5.9" fill="#333" textLength="17.5" lengthAdjust="spacingAndGlyphs">40 - 67</text>
<rect x="3.8" y="259.4" width="15.3" height="7.2" fill="#14eb28"/>
<text x="22.0" y="265.4" font-size="5.9" fill="#333" textLength="20.3" lengthAdjust="spacingAndGlyphs">68 - 100</text>
<text x="285.9" y="10" font-size="8.1" font-weight="bold" fill="#222" textLength="27.3" lengthAdjust="spacingAndGlyphs">BRAZIL</text>
<text x="285.0" y="157.9" font-size="12.5" font-weight="bold" fill="#111">b</text>
<text x="285.3" y="169.9" font-size="7.5" font-weight="bold" fill="#222" textLength="57.7" lengthAdjust="spacingAndGlyphs">Cattle herd 2021</text>
<rect x="285.3" y="174.6" width="15.2" height="6.9" fill="#0890cc"/>
<text x="303.8" y="180.2" font-size="5.7" font-weight="bold" fill="#262626" textLength="25.9" lengthAdjust="spacingAndGlyphs">8 - 23,541</text>
<rect x="285.3" y="185.2" width="15.2" height="6.9" fill="#46a8b2"/>
<text x="303.8" y="190.8" font-size="5.7" font-weight="bold" fill="#262626" textLength="41.0" lengthAdjust="spacingAndGlyphs">23,542 - 67,800</text>
<rect x="285.3" y="195.9" width="15.2" height="6.9" fill="#a2cb8c"/>
<text x="303.8" y="201.5" font-size="5.7" font-weight="bold" fill="#262626" textLength="44.0" lengthAdjust="spacingAndGlyphs">67,801 - 138,637</text>
<rect x="285.3" y="206.5" width="15.2" height="6.9" fill="#dbe666"/>
<text x="303.8" y="212.1" font-size="5.7" font-weight="bold" fill="#262626" textLength="47.0" lengthAdjust="spacingAndGlyphs">138,638 - 243,868</text>
<rect x="285.3" y="217.2" width="15.2" height="6.9" fill="#ffdc3c"/>
<text x="303.8" y="222.8" font-size="5.7" font-weight="bold" fill="#262626" textLength="47.0" lengthAdjust="spacingAndGlyphs">243,869 - 387,559</text>
<rect x="285.3" y="227.8" width="15.2" height="6.9" fill="#ffa032"/>
<text x="303.8" y="233.4" font-size="5.7" font-weight="bold" fill="#262626" textLength="47.0" lengthAdjust="spacingAndGlyphs">387,560 - 642,252</text>
<rect x="285.3" y="238.4" width="15.2" height="6.9" fill="#fc641e"/>
<text x="303.8" y="244.0" font-size="5.7" font-weight="bold" fill="#262626" textLength="52.0" lengthAdjust="spacingAndGlyphs">642,253 - 1,161,605</text>
<rect x="285.3" y="249.1" width="15.2" height="6.9" fill="#f00a14"/>
<text x="303.8" y="254.7" font-size="5.7" font-weight="bold" fill="#262626" textLength="56.5" lengthAdjust="spacingAndGlyphs">1,161,606 - 2,468,764</text>
<rect x="285.7" y="259.9" width="14.6" height="6.6" rx="1.2" fill="#fff" stroke="#444" stroke-width="0.8"/>
<text x="304.0" y="265.5" font-size="6.2" fill="#333" textLength="21.5" lengthAdjust="spacingAndGlyphs">Biomes</text>
<g transform="translate(200.05,224.3)">
<circle r="8.7" fill="none" stroke="#1e1e1e" stroke-width="1.35"/>
<path d="M0,0 L-1.30,-3.14 L0.00,-9.30 Z" fill="#1e1e1e"/>
<path d="M0,0 L0.00,-9.30 L1.30,-3.14 Z" fill="#555" stroke="#1e1e1e" stroke-width="0.3"/>
<path d="M0,0 L1.30,-3.14 L4.67,-4.67 Z" fill="#1e1e1e"/>
<path d="M0,0 L4.67,-4.67 L3.14,-1.30 Z" fill="#bbb" stroke="#1e1e1e" stroke-width="0.3"/>
<path d="M0,0 L3.14,-1.30 L9.30,0.00 Z" fill="#1e1e1e"/>
<path d="M0,0 L9.30,0.00 L3.14,1.30 Z" fill="#555" stroke="#1e1e1e" stroke-width="0.3"/>
<path d="M0,0 L3.14,1.30 L4.67,4.67 Z" fill="#1e1e1e"/>
<path d="M0,0 L4.67,4.67 L1.30,3.14 Z" fill="#bbb" stroke="#1e1e1e" stroke-width="0.3"/>
<path d="M0,0 L1.30,3.14 L0.00,9.30 Z" fill="#1e1e1e"/>
<path d="M0,0 L0.00,9.30 L-1.30,3.14 Z" fill="#555" stroke="#1e1e1e" stroke-width="0.3"/>
<path d="M0,0 L-1.30,3.14 L-4.67,4.67 Z" fill="#1e1e1e"/>
<path d="M0,0 L-4.67,4.67 L-3.14,1.30 Z" fill="#bbb" stroke="#1e1e1e" stroke-width="0.3"/>
<path d="M0,0 L-3.14,1.30 L-9.30,0.00 Z" fill="#1e1e1e"/>
<path d="M0,0 L-9.30,0.00 L-3.14,-1.30 Z" fill="#555" stroke="#1e1e1e" stroke-width="0.3"/>
<path d="M0,0 L-3.14,-1.30 L-4.67,-4.67 Z" fill="#1e1e1e"/>
<path d="M0,0 L-4.67,-4.67 L-1.30,-3.14 Z" fill="#bbb" stroke="#1e1e1e" stroke-width="0.3"/>
<g font-family="Liberation Serif,serif" font-size="5.6" font-weight="bold" fill="#333" text-anchor="middle">
<text x="0" y="-11.9">N</text><text x="0" y="15.8">S</text>
<text x="-12.75" y="2.0">W</text><text x="12.3" y="2.4">E</text></g>
</g>
<g transform="translate(476.4,224.2)">
<circle r="8.7" fill="none" stroke="#1e1e1e" stroke-width="1.35"/>
<path d="M0,0 L-1.30,-3.14 L0.00,-9.30 Z" fill="#1e1e1e"/>
<path d="M0,0 L0.00,-9.30 L1.30,-3.14 Z" fill="#555" stroke="#1e1e1e" stroke-width="0.3"/>
<path d="M0,0 L1.30,-3.14 L4.67,-4.67 Z" fill="#1e1e1e"/>
<path d="M0,0 L4.67,-4.67 L3.14,-1.30 Z" fill="#bbb" stroke="#1e1e1e" stroke-width="0.3"/>
<path d="M0,0 L3.14,-1.30 L9.30,0.00 Z" fill="#1e1e1e"/>
<path d="M0,0 L9.30,0.00 L3.14,1.30 Z" fill="#555" stroke="#1e1e1e" stroke-width="0.3"/>
<path d="M0,0 L3.14,1.30 L4.67,4.67 Z" fill="#1e1e1e"/>
<path d="M0,0 L4.67,4.67 L1.30,3.14 Z" fill="#bbb" stroke="#1e1e1e" stroke-width="0.3"/>
<path d="M0,0 L1.30,3.14 L0.00,9.30 Z" fill="#1e1e1e"/>
<path d="M0,0 L0.00,9.30 L-1.30,3.14 Z" fill="#555" stroke="#1e1e1e" stroke-width="0.3"/>
<path d="M0,0 L-1.30,3.14 L-4.67,4.67 Z" fill="#1e1e1e"/>
<path d="M0,0 L-4.67,4.67 L-3.14,1.30 Z" fill="#bbb" stroke="#1e1e1e" stroke-width="0.3"/>
<path d="M0,0 L-3.14,1.30 L-9.30,0.00 Z" fill="#1e1e1e"/>
<path d="M0,0 L-9.30,0.00 L-3.14,-1.30 Z" fill="#555" stroke="#1e1e1e" stroke-width="0.3"/>
<path d="M0,0 L-3.14,-1.30 L-4.67,-4.67 Z" fill="#1e1e1e"/>
<path d="M0,0 L-4.67,-4.67 L-1.30,-3.14 Z" fill="#bbb" stroke="#1e1e1e" stroke-width="0.3"/>
<g font-family="Liberation Serif,serif" font-size="5.6" font-weight="bold" fill="#333" text-anchor="middle">
<text x="0" y="-11.9">N</text><text x="0" y="15.8">S</text>
<text x="-12.75" y="2.0">W</text><text x="12.3" y="2.4">E</text></g>
</g>
<path d="M170.5,248.0 V244.4 H230.3 V248.0 M200.4,244.4 V248.0" fill="none" stroke="#333" stroke-width="0.8"/>
<g font-size="6.4" fill="#222">
<text x="169.7" y="256.8">0</text>
<text x="180.7" y="256.8">250</text>
<text x="194.9" y="256.8">500</text>
<text x="222.60000000000002" y="256.8">1 000</text>
<text x="242.9" y="256.8">Kilometers</text>
</g>
<path d="M446.6,248.0 V244.4 H506.40000000000003 V248.0 M476.5,244.4 V248.0" fill="none" stroke="#333" stroke-width="0.8"/>
<g font-size="6.4" fill="#222">
<text x="445.8" y="256.8">0</text>
<text x="471.0" y="256.8">500</text>
<text x="498.70000000000005" y="256.8">1 000</text>
<text x="519.0" y="256.8">Kilometers</text>
</g>
</svg></body></html>
